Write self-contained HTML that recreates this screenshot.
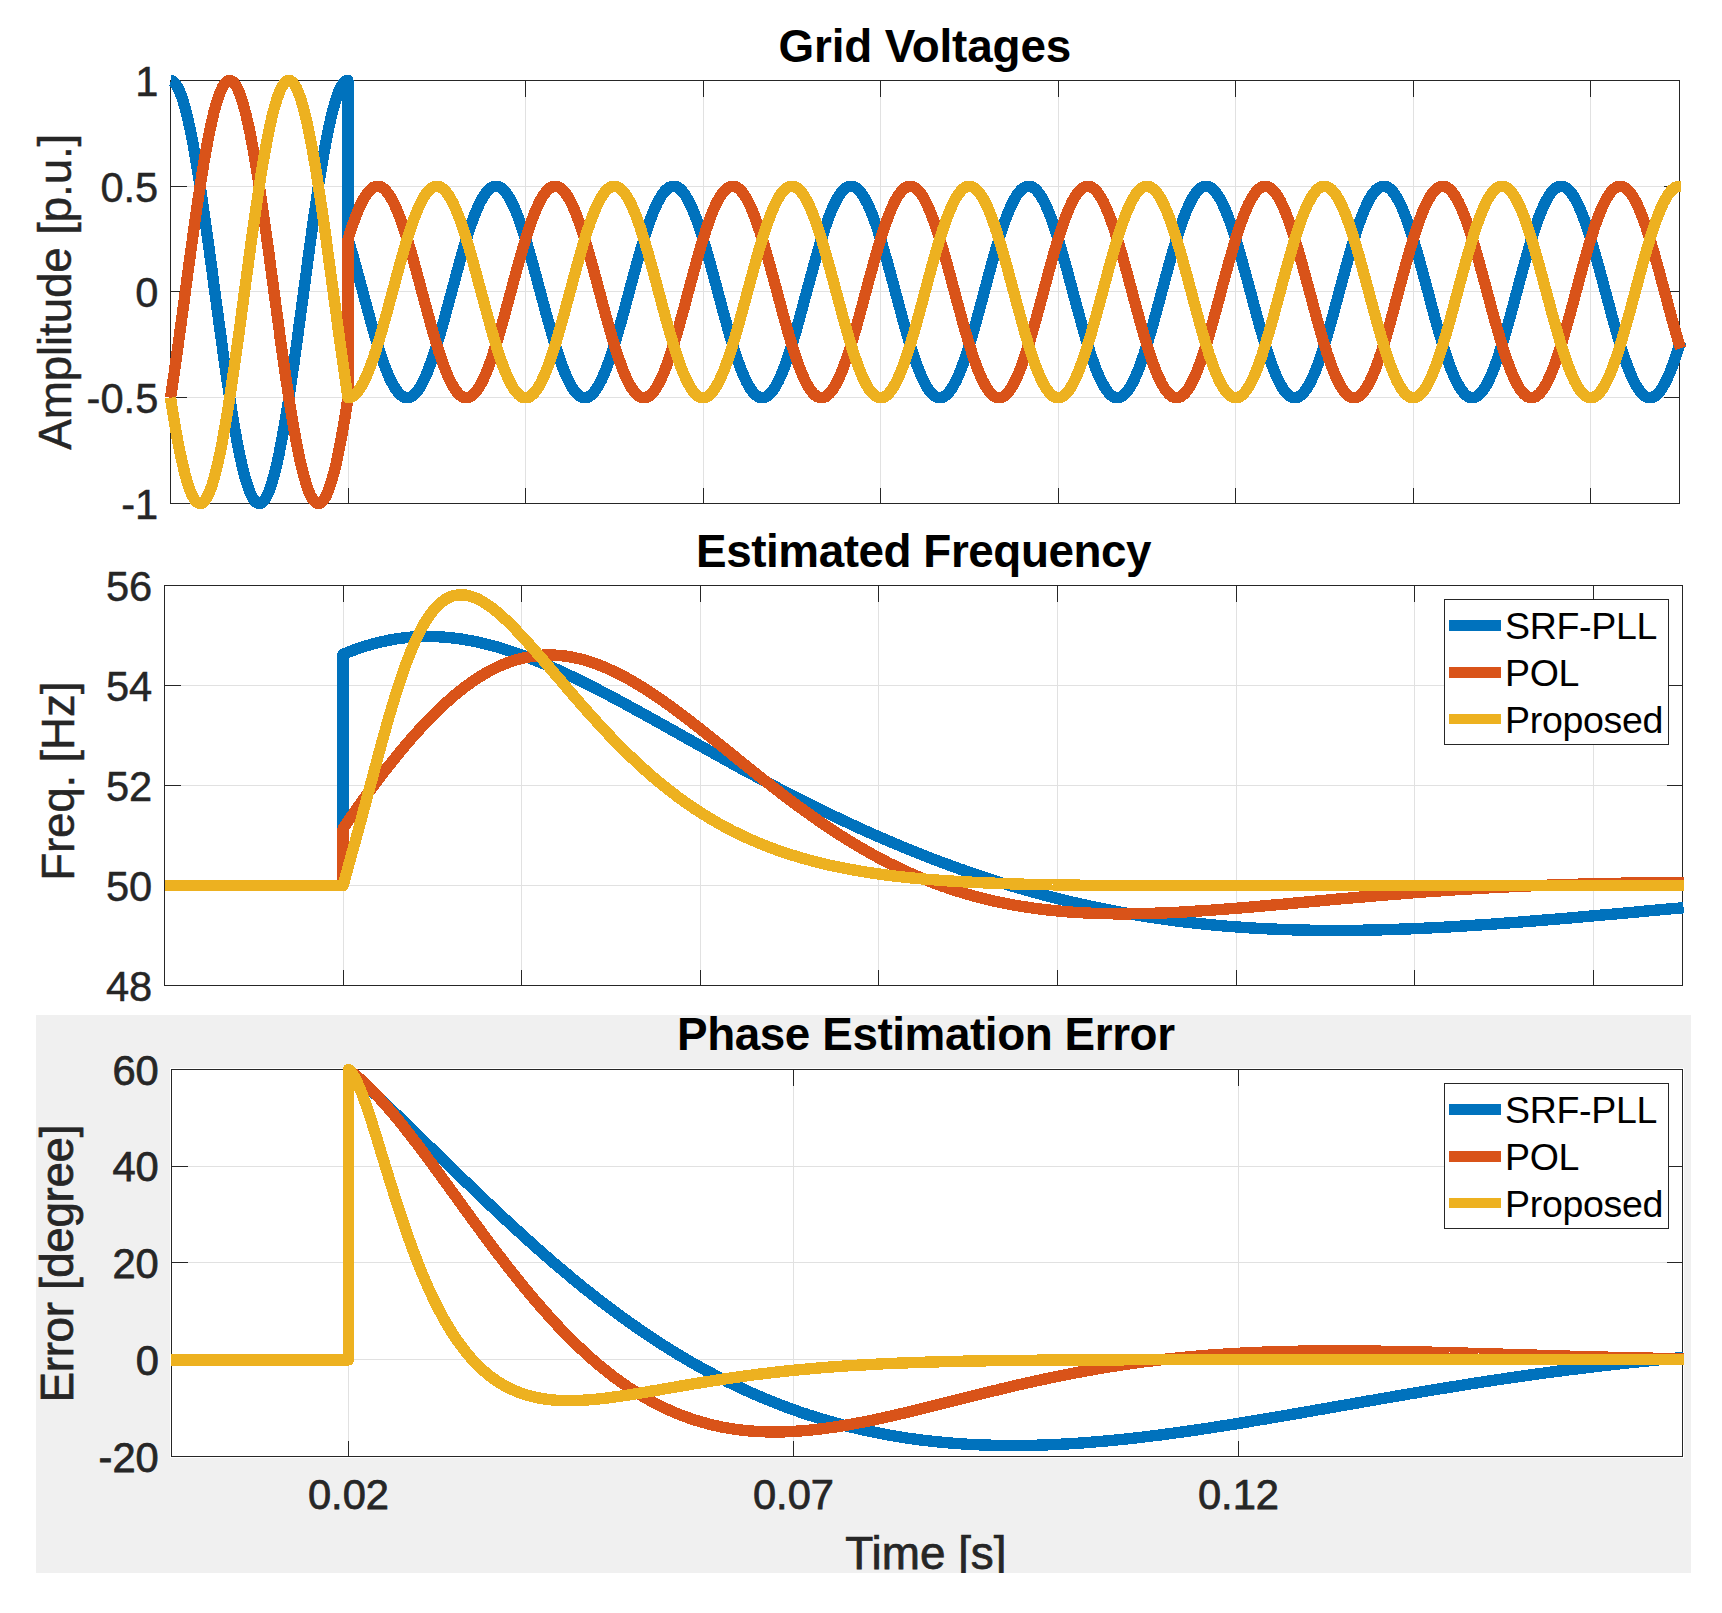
<!DOCTYPE html>
<html><head><meta charset="utf-8"><title>PLL comparison</title>
<style>html,body{margin:0;padding:0;background:#fff}svg{display:block}</style></head>
<body>
<svg width="1722" height="1613" viewBox="0 0 1722 1613" font-family='"Liberation Sans", sans-serif'>
<defs><clipPath id="fig3"><rect x="36" y="1015" width="1655" height="558"/></clipPath></defs>
<rect width="1722" height="1613" fill="#fff"/>
<rect x="36" y="1015" width="1655" height="558" fill="#F0F0F0"/>
<rect x="170" y="1068" width="1514" height="390" fill="#fff"/>
<g shape-rendering="crispEdges" stroke-width="1">
<line x1="348.5" y1="80.5" x2="348.5" y2="503.5" stroke="#E1E1E1"/>
<line x1="525.5" y1="80.5" x2="525.5" y2="503.5" stroke="#E1E1E1"/>
<line x1="703.5" y1="80.5" x2="703.5" y2="503.5" stroke="#E1E1E1"/>
<line x1="880.5" y1="80.5" x2="880.5" y2="503.5" stroke="#E1E1E1"/>
<line x1="1058.5" y1="80.5" x2="1058.5" y2="503.5" stroke="#E1E1E1"/>
<line x1="1235.5" y1="80.5" x2="1235.5" y2="503.5" stroke="#E1E1E1"/>
<line x1="1413.5" y1="80.5" x2="1413.5" y2="503.5" stroke="#E1E1E1"/>
<line x1="1590.5" y1="80.5" x2="1590.5" y2="503.5" stroke="#E1E1E1"/>
<line x1="170.5" y1="397.5" x2="1679.5" y2="397.5" stroke="#E1E1E1"/>
<line x1="170.5" y1="291.5" x2="1679.5" y2="291.5" stroke="#E1E1E1"/>
<line x1="170.5" y1="186.5" x2="1679.5" y2="186.5" stroke="#E1E1E1"/>
</g>
<g shape-rendering="crispEdges" stroke="#262626" stroke-width="1" fill="none">
<line x1="348.5" y1="503.5" x2="348.5" y2="487.5"/><line x1="348.5" y1="80.5" x2="348.5" y2="96.5"/>
<line x1="525.5" y1="503.5" x2="525.5" y2="487.5"/><line x1="525.5" y1="80.5" x2="525.5" y2="96.5"/>
<line x1="703.5" y1="503.5" x2="703.5" y2="487.5"/><line x1="703.5" y1="80.5" x2="703.5" y2="96.5"/>
<line x1="880.5" y1="503.5" x2="880.5" y2="487.5"/><line x1="880.5" y1="80.5" x2="880.5" y2="96.5"/>
<line x1="1058.5" y1="503.5" x2="1058.5" y2="487.5"/><line x1="1058.5" y1="80.5" x2="1058.5" y2="96.5"/>
<line x1="1235.5" y1="503.5" x2="1235.5" y2="487.5"/><line x1="1235.5" y1="80.5" x2="1235.5" y2="96.5"/>
<line x1="1413.5" y1="503.5" x2="1413.5" y2="487.5"/><line x1="1413.5" y1="80.5" x2="1413.5" y2="96.5"/>
<line x1="1590.5" y1="503.5" x2="1590.5" y2="487.5"/><line x1="1590.5" y1="80.5" x2="1590.5" y2="96.5"/>
<line x1="170.5" y1="397.5" x2="186.5" y2="397.5"/><line x1="1679.5" y1="397.5" x2="1663.5" y2="397.5"/>
<line x1="170.5" y1="291.5" x2="186.5" y2="291.5"/><line x1="1679.5" y1="291.5" x2="1663.5" y2="291.5"/>
<line x1="170.5" y1="186.5" x2="186.5" y2="186.5"/><line x1="1679.5" y1="186.5" x2="1663.5" y2="186.5"/>
<rect x="170.5" y="80.5" width="1509.0" height="423.0"/>
</g>
<g shape-rendering="crispEdges">
<path d="M170.5 80.5 L171.1 80.5 L171.7 80.7 L172.3 80.9 L172.9 81.2 L173.5 81.7 L174.1 82.2 L174.7 82.8 L175.2 83.5 L175.8 84.3 L176.4 85.2 L177 86.1 L177.6 87.2 L178.2 88.3 L178.8 89.6 L179.4 90.9 L180 92.3 L180.6 93.9 L181.2 95.5 L181.8 97.1 L182.4 98.9 L183 100.8 L183.6 102.7 L184.2 104.7 L184.7 106.8 L185.3 109 L185.9 111.3 L186.5 113.6 L187.1 116.1 L187.7 118.6 L188.3 121.2 L188.9 123.8 L189.5 126.5 L190.1 129.3 L190.7 132.2 L191.3 135.2 L191.9 138.2 L192.5 141.3 L193.1 144.4 L193.7 147.6 L194.2 150.9 L194.8 154.3 L195.4 157.7 L196 161.1 L196.6 164.6 L197.2 168.2 L197.8 171.9 L198.4 175.5 L199 179.3 L199.6 183.1 L200.2 186.9 L200.8 190.8 L201.4 194.7 L202 198.7 L202.6 202.7 L203.2 206.7 L203.7 210.8 L204.3 214.9 L204.9 219.1 L205.5 223.3 L206.1 227.5 L206.7 231.7 L207.3 236 L207.9 240.3 L208.5 244.6 L209.1 249 L209.7 253.3 L210.3 257.7 L210.9 262.1 L211.5 266.5 L212.1 270.9 L212.7 275.4 L213.2 279.8 L213.8 284.2 L214.4 288.7 L215 293.1 L215.6 297.6 L216.2 302 L216.8 306.4 L217.4 310.9 L218 315.3 L218.6 319.7 L219.2 324.1 L219.8 328.5 L220.4 332.9 L221 337.2 L221.6 341.5 L222.2 345.8 L222.7 350.1 L223.3 354.4 L223.9 358.6 L224.5 362.8 L225.1 367 L225.7 371.1 L226.3 375.2 L226.9 379.3 L227.5 383.3 L228.1 387.3 L228.7 391.3 L229.3 395.2 L229.9 399 L230.5 402.8 L231.1 406.6 L231.7 410.3 L232.2 414 L232.8 417.6 L233.4 421.1 L234 424.6 L234.6 428 L235.2 431.4 L235.8 434.7 L236.4 438 L237 441.2 L237.6 444.3 L238.2 447.3 L238.8 450.3 L239.4 453.2 L240 456.1 L240.6 458.8 L241.2 461.5 L241.7 464.1 L242.3 466.7 L242.9 469.2 L243.5 471.5 L244.1 473.9 L244.7 476.1 L245.3 478.2 L245.9 480.3 L246.5 482.3 L247.1 484.2 L247.7 486 L248.3 487.7 L248.9 489.4 L249.5 490.9 L250.1 492.4 L250.7 493.8 L251.2 495 L251.8 496.2 L252.4 497.4 L253 498.4 L253.6 499.3 L254.2 500.1 L254.8 500.9 L255.4 501.5 L256 502.1 L256.6 502.6 L257.2 502.9 L257.8 503.2 L258.4 503.4 L259 503.5 L259.6 503.5 L260.2 503.4 L260.7 503.2 L261.3 502.9 L261.9 502.6 L262.5 502.1 L263.1 501.5 L263.7 500.9 L264.3 500.1 L264.9 499.3 L265.5 498.4 L266.1 497.4 L266.7 496.2 L267.3 495 L267.9 493.8 L268.5 492.4 L269.1 490.9 L269.7 489.4 L270.2 487.7 L270.8 486 L271.4 484.2 L272 482.3 L272.6 480.3 L273.2 478.2 L273.8 476.1 L274.4 473.9 L275 471.5 L275.6 469.2 L276.2 466.7 L276.8 464.1 L277.4 461.5 L278 458.8 L278.6 456.1 L279.2 453.2 L279.7 450.3 L280.3 447.3 L280.9 444.3 L281.5 441.2 L282.1 438 L282.7 434.7 L283.3 431.4 L283.9 428 L284.5 424.6 L285.1 421.1 L285.7 417.6 L286.3 414 L286.9 410.3 L287.5 406.6 L288.1 402.8 L288.7 399 L289.2 395.2 L289.8 391.3 L290.4 387.3 L291 383.3 L291.6 379.3 L292.2 375.2 L292.8 371.1 L293.4 367 L294 362.8 L294.6 358.6 L295.2 354.4 L295.8 350.1 L296.4 345.8 L297 341.5 L297.6 337.2 L298.2 332.9 L298.7 328.5 L299.3 324.1 L299.9 319.7 L300.5 315.3 L301.1 310.9 L301.7 306.4 L302.3 302 L302.9 297.6 L303.5 293.1 L304.1 288.7 L304.7 284.2 L305.3 279.8 L305.9 275.4 L306.5 270.9 L307.1 266.5 L307.7 262.1 L308.2 257.7 L308.8 253.3 L309.4 249 L310 244.6 L310.6 240.3 L311.2 236 L311.8 231.7 L312.4 227.5 L313 223.3 L313.6 219.1 L314.2 214.9 L314.8 210.8 L315.4 206.7 L316 202.7 L316.6 198.7 L317.2 194.7 L317.7 190.8 L318.3 186.9 L318.9 183.1 L319.5 179.3 L320.1 175.5 L320.7 171.9 L321.3 168.2 L321.9 164.6 L322.5 161.1 L323.1 157.7 L323.7 154.3 L324.3 150.9 L324.9 147.6 L325.5 144.4 L326.1 141.3 L326.7 138.2 L327.2 135.2 L327.8 132.2 L328.4 129.3 L329 126.5 L329.6 123.8 L330.2 121.2 L330.8 118.6 L331.4 116.1 L332 113.6 L332.6 111.3 L333.2 109 L333.8 106.8 L334.4 104.7 L335 102.7 L335.6 100.8 L336.2 98.9 L336.7 97.1 L337.3 95.5 L337.9 93.9 L338.5 92.3 L339.1 90.9 L339.7 89.6 L340.3 88.3 L340.9 87.2 L341.5 86.1 L342.1 85.2 L342.7 84.3 L343.3 83.5 L343.9 82.8 L344.5 82.2 L345.1 81.7 L345.7 81.2 L346.2 80.9 L346.8 80.7 L347.4 80.5 L348 80.5 L348 239.1 L348.8 241.5 L349.5 244 L350.3 246.5 L351 249 L351.7 251.5 L352.5 254.1 L353.2 256.7 L354 259.4 L354.7 262 L355.4 264.7 L356.2 267.4 L356.9 270.1 L357.7 272.8 L358.4 275.5 L359.1 278.3 L359.9 281 L360.6 283.8 L361.4 286.5 L362.1 289.3 L362.8 292.1 L363.6 294.8 L364.3 297.6 L365.1 300.4 L365.8 303.1 L366.5 305.9 L367.3 308.6 L368 311.4 L368.8 314.1 L369.5 316.8 L370.3 319.5 L371 322.1 L371.7 324.8 L372.5 327.4 L373.2 330 L374 332.6 L374.7 335.1 L375.4 337.7 L376.2 340.1 L376.9 342.6 L377.7 345 L378.4 347.4 L379.1 349.7 L379.9 352 L380.6 354.3 L381.4 356.5 L382.1 358.7 L382.8 360.8 L383.6 362.9 L384.3 364.9 L385.1 366.9 L385.8 368.8 L386.5 370.7 L387.3 372.5 L388 374.3 L388.8 376 L389.5 377.7 L390.2 379.3 L391 380.8 L391.7 382.3 L392.5 383.7 L393.2 385 L394 386.3 L394.7 387.5 L395.4 388.7 L396.2 389.8 L396.9 390.8 L397.7 391.8 L398.4 392.7 L399.1 393.5 L399.9 394.2 L400.6 394.9 L401.4 395.5 L402.1 396 L402.8 396.5 L403.6 396.9 L404.3 397.2 L405.1 397.4 L405.8 397.6 L406.5 397.7 L407.3 397.7 L408 397.7 L408.8 397.6 L409.5 397.4 L410.2 397.1 L411 396.8 L411.7 396.4 L412.5 395.9 L413.2 395.4 L414 394.7 L414.7 394.1 L415.4 393.3 L416.2 392.5 L416.9 391.6 L417.7 390.6 L418.4 389.6 L419.1 388.5 L419.9 387.3 L420.6 386.1 L421.4 384.8 L422.1 383.4 L422.8 382 L423.6 380.5 L424.3 378.9 L425.1 377.3 L425.8 375.7 L426.5 373.9 L427.3 372.2 L428 370.3 L428.8 368.4 L429.5 366.5 L430.2 364.5 L431 362.4 L431.7 360.4 L432.5 358.2 L433.2 356 L434 353.8 L434.7 351.5 L435.4 349.2 L436.2 346.9 L436.9 344.5 L437.7 342.1 L438.4 339.6 L439.1 337.1 L439.9 334.6 L440.6 332 L441.4 329.5 L442.1 326.9 L442.8 324.2 L443.6 321.6 L444.3 318.9 L445.1 316.2 L445.8 313.5 L446.5 310.8 L447.3 308 L448 305.3 L448.8 302.5 L449.5 299.8 L450.2 297 L451 294.2 L451.7 291.5 L452.5 288.7 L453.2 285.9 L454 283.2 L454.7 280.4 L455.4 277.7 L456.2 274.9 L456.9 272.2 L457.7 269.5 L458.4 266.8 L459.1 264.1 L459.9 261.4 L460.6 258.8 L461.4 256.2 L462.1 253.6 L462.8 251 L463.6 248.5 L464.3 245.9 L465.1 243.5 L465.8 241 L466.5 238.6 L467.3 236.2 L468 233.9 L468.8 231.6 L469.5 229.3 L470.2 227.1 L471 225 L471.7 222.8 L472.5 220.8 L473.2 218.7 L473.9 216.8 L474.7 214.9 L475.4 213 L476.2 211.2 L476.9 209.4 L477.7 207.7 L478.4 206.1 L479.1 204.5 L479.9 202.9 L480.6 201.5 L481.4 200.1 L482.1 198.7 L482.8 197.5 L483.6 196.3 L484.3 195.1 L485.1 194 L485.8 193 L486.5 192.1 L487.3 191.2 L488 190.4 L488.8 189.7 L489.5 189 L490.2 188.4 L491 187.9 L491.7 187.4 L492.5 187.1 L493.2 186.8 L493.9 186.5 L494.7 186.4 L495.4 186.3 L496.2 186.3 L496.9 186.3 L497.7 186.4 L498.4 186.6 L499.1 186.9 L499.9 187.3 L500.6 187.7 L501.4 188.2 L502.1 188.7 L502.8 189.4 L503.6 190.1 L504.3 190.8 L505.1 191.7 L505.8 192.6 L506.5 193.6 L507.3 194.6 L508 195.7 L508.8 196.9 L509.5 198.2 L510.2 199.5 L511 200.8 L511.7 202.3 L512.5 203.8 L513.2 205.3 L513.9 206.9 L514.7 208.6 L515.4 210.4 L516.2 212.1 L516.9 214 L517.7 215.9 L518.4 217.8 L519.1 219.8 L519.9 221.9 L520.6 224 L521.4 226.1 L522.1 228.3 L522.8 230.6 L523.6 232.8 L524.3 235.2 L525.1 237.5 L525.8 239.9 L526.5 242.3 L527.3 244.8 L528 247.3 L528.8 249.8 L529.5 252.4 L530.2 255 L531 257.6 L531.7 260.2 L532.5 262.9 L533.2 265.5 L533.9 268.2 L534.7 270.9 L535.4 273.7 L536.2 276.4 L536.9 279.1 L537.7 281.9 L538.4 284.7 L539.1 287.4 L539.9 290.2 L540.6 293 L541.4 295.7 L542.1 298.5 L542.8 301.3 L543.6 304 L544.3 306.8 L545.1 309.5 L545.8 312.3 L546.5 315 L547.3 317.7 L548 320.3 L548.8 323 L549.5 325.6 L550.2 328.3 L551 330.9 L551.7 333.4 L552.5 336 L553.2 338.5 L553.9 340.9 L554.7 343.4 L555.4 345.8 L556.2 348.2 L556.9 350.5 L557.7 352.8 L558.4 355 L559.1 357.2 L559.9 359.4 L560.6 361.5 L561.4 363.6 L562.1 365.6 L562.8 367.5 L563.6 369.5 L564.3 371.3 L565.1 373.1 L565.8 374.9 L566.5 376.6 L567.3 378.2 L568 379.8 L568.8 381.3 L569.5 382.7 L570.2 384.1 L571 385.5 L571.7 386.7 L572.5 387.9 L573.2 389.1 L573.9 390.1 L574.7 391.1 L575.4 392.1 L576.2 392.9 L576.9 393.7 L577.6 394.4 L578.4 395.1 L579.1 395.7 L579.9 396.2 L580.6 396.6 L581.4 397 L582.1 397.3 L582.8 397.5 L583.6 397.7 L584.3 397.7 L585.1 397.7 L585.8 397.7 L586.5 397.5 L587.3 397.3 L588 397 L588.8 396.7 L589.5 396.2 L590.2 395.7 L591 395.2 L591.7 394.5 L592.5 393.8 L593.2 393 L593.9 392.2 L594.7 391.3 L595.4 390.3 L596.2 389.2 L596.9 388.1 L597.6 386.9 L598.4 385.6 L599.1 384.3 L599.9 382.9 L600.6 381.5 L601.4 380 L602.1 378.4 L602.8 376.8 L603.6 375.1 L604.3 373.4 L605.1 371.6 L605.8 369.7 L606.5 367.8 L607.3 365.8 L608 363.8 L608.8 361.8 L609.5 359.7 L610.2 357.5 L611 355.3 L611.7 353.1 L612.5 350.8 L613.2 348.5 L613.9 346.1 L614.7 343.7 L615.4 341.3 L616.2 338.8 L616.9 336.3 L617.6 333.8 L618.4 331.2 L619.1 328.6 L619.9 326 L620.6 323.4 L621.4 320.7 L622.1 318 L622.8 315.3 L623.6 312.6 L624.3 309.9 L625.1 307.2 L625.8 304.4 L626.5 301.6 L627.3 298.9 L628 296.1 L628.8 293.3 L629.5 290.6 L630.2 287.8 L631 285 L631.7 282.3 L632.5 279.5 L633.2 276.8 L633.9 274 L634.7 271.3 L635.4 268.6 L636.2 265.9 L636.9 263.2 L637.6 260.6 L638.4 257.9 L639.1 255.3 L639.9 252.7 L640.6 250.2 L641.4 247.6 L642.1 245.1 L642.8 242.7 L643.6 240.2 L644.3 237.8 L645.1 235.5 L645.8 233.1 L646.5 230.9 L647.3 228.6 L648 226.4 L648.8 224.3 L649.5 222.2 L650.2 220.1 L651 218.1 L651.7 216.1 L652.5 214.2 L653.2 212.4 L653.9 210.6 L654.7 208.8 L655.4 207.2 L656.2 205.5 L656.9 204 L657.6 202.5 L658.4 201 L659.1 199.6 L659.9 198.3 L660.6 197.1 L661.3 195.9 L662.1 194.8 L662.8 193.7 L663.6 192.7 L664.3 191.8 L665.1 190.9 L665.8 190.2 L666.5 189.4 L667.3 188.8 L668 188.2 L668.8 187.7 L669.5 187.3 L670.2 187 L671 186.7 L671.7 186.5 L672.5 186.3 L673.2 186.3 L673.9 186.3 L674.7 186.3 L675.4 186.5 L676.2 186.7 L676.9 187 L677.6 187.4 L678.4 187.8 L679.1 188.3 L679.9 188.9 L680.6 189.6 L681.3 190.3 L682.1 191.1 L682.8 192 L683.6 192.9 L684.3 193.9 L685.1 195 L685.8 196.1 L686.5 197.3 L687.3 198.6 L688 199.9 L688.8 201.3 L689.5 202.7 L690.2 204.3 L691 205.8 L691.7 207.5 L692.5 209.2 L693.2 210.9 L693.9 212.7 L694.7 214.6 L695.4 216.5 L696.2 218.5 L696.9 220.5 L697.6 222.6 L698.4 224.7 L699.1 226.8 L699.9 229 L700.6 231.3 L701.3 233.6 L702.1 235.9 L702.8 238.3 L703.6 240.7 L704.3 243.1 L705.1 245.6 L705.8 248.1 L706.5 250.7 L707.3 253.2 L708 255.8 L708.8 258.4 L709.5 261.1 L710.2 263.7 L711 266.4 L711.7 269.1 L712.5 271.8 L713.2 274.6 L713.9 277.3 L714.7 280 L715.4 282.8 L716.2 285.6 L716.9 288.3 L717.6 291.1 L718.4 293.9 L719.1 296.6 L719.9 299.4 L720.6 302.2 L721.3 304.9 L722.1 307.7 L722.8 310.4 L723.6 313.1 L724.3 315.8 L725.1 318.5 L725.8 321.2 L726.5 323.9 L727.3 326.5 L728 329.1 L728.8 331.7 L729.5 334.2 L730.2 336.8 L731 339.3 L731.7 341.7 L732.5 344.2 L733.2 346.6 L733.9 348.9 L734.7 351.2 L735.4 353.5 L736.2 355.7 L736.9 357.9 L737.6 360.1 L738.4 362.2 L739.1 364.2 L739.9 366.2 L740.6 368.2 L741.3 370.1 L742.1 371.9 L742.8 373.7 L743.6 375.4 L744.3 377.1 L745 378.7 L745.8 380.3 L746.5 381.8 L747.3 383.2 L748 384.6 L748.8 385.9 L749.5 387.1 L750.2 388.3 L751 389.4 L751.7 390.5 L752.5 391.4 L753.2 392.4 L753.9 393.2 L754.7 394 L755.4 394.7 L756.2 395.3 L756.9 395.9 L757.6 396.3 L758.4 396.8 L759.1 397.1 L759.9 397.4 L760.6 397.6 L761.3 397.7 L762.1 397.7 L762.8 397.7 L763.6 397.6 L764.3 397.5 L765 397.2 L765.8 396.9 L766.5 396.5 L767.3 396.1 L768 395.6 L768.8 395 L769.5 394.3 L770.2 393.6 L771 392.8 L771.7 391.9 L772.5 390.9 L773.2 389.9 L773.9 388.9 L774.7 387.7 L775.4 386.5 L776.2 385.2 L776.9 383.9 L777.6 382.5 L778.4 381 L779.1 379.5 L779.9 377.9 L780.6 376.2 L781.3 374.5 L782.1 372.8 L782.8 371 L783.6 369.1 L784.3 367.2 L785 365.2 L785.8 363.2 L786.5 361.1 L787.3 359 L788 356.8 L788.8 354.6 L789.5 352.3 L790.2 350 L791 347.7 L791.7 345.3 L792.5 342.9 L793.2 340.5 L793.9 338 L794.7 335.5 L795.4 332.9 L796.2 330.4 L796.9 327.8 L797.6 325.1 L798.4 322.5 L799.1 319.8 L799.9 317.2 L800.6 314.5 L801.3 311.7 L802.1 309 L802.8 306.3 L803.6 303.5 L804.3 300.8 L805 298 L805.8 295.2 L806.5 292.4 L807.3 289.7 L808 286.9 L808.8 284.1 L809.5 281.4 L810.2 278.6 L811 275.9 L811.7 273.1 L812.5 270.4 L813.2 267.7 L813.9 265 L814.7 262.4 L815.4 259.7 L816.2 257.1 L816.9 254.5 L817.6 251.9 L818.4 249.3 L819.1 246.8 L819.9 244.3 L820.6 241.9 L821.3 239.4 L822.1 237.1 L822.8 234.7 L823.6 232.4 L824.3 230.1 L825 227.9 L825.8 225.7 L826.5 223.6 L827.3 221.5 L828 219.5 L828.7 217.5 L829.5 215.5 L830.2 213.6 L831 211.8 L831.7 210 L832.5 208.3 L833.2 206.6 L833.9 205 L834.7 203.5 L835.4 202 L836.2 200.6 L836.9 199.2 L837.6 197.9 L838.4 196.7 L839.1 195.5 L839.9 194.4 L840.6 193.4 L841.3 192.4 L842.1 191.5 L842.8 190.7 L843.6 189.9 L844.3 189.2 L845 188.6 L845.8 188.1 L846.5 187.6 L847.3 187.2 L848 186.9 L848.7 186.6 L849.5 186.4 L850.2 186.3 L851 186.3 L851.7 186.3 L852.5 186.4 L853.2 186.6 L853.9 186.8 L854.7 187.1 L855.4 187.5 L856.2 188 L856.9 188.5 L857.6 189.1 L858.4 189.8 L859.1 190.6 L859.9 191.4 L860.6 192.3 L861.3 193.2 L862.1 194.2 L862.8 195.3 L863.6 196.5 L864.3 197.7 L865 199 L865.8 200.3 L866.5 201.8 L867.3 203.2 L868 204.8 L868.7 206.4 L869.5 208 L870.2 209.7 L871 211.5 L871.7 213.3 L872.5 215.2 L873.2 217.1 L873.9 219.1 L874.7 221.2 L875.4 223.2 L876.2 225.4 L876.9 227.6 L877.6 229.8 L878.4 232 L879.1 234.3 L879.9 236.7 L880.6 239.1 L881.3 241.5 L882.1 243.9 L882.8 246.4 L883.6 248.9 L884.3 251.5 L885 254.1 L885.8 256.7 L886.5 259.3 L887.3 261.9 L888 264.6 L888.7 267.3 L889.5 270 L890.2 272.7 L891 275.4 L891.7 278.2 L892.5 280.9 L893.2 283.7 L893.9 286.5 L894.7 289.2 L895.4 292 L896.2 294.8 L896.9 297.5 L897.6 300.3 L898.4 303.1 L899.1 305.8 L899.9 308.6 L900.6 311.3 L901.3 314 L902.1 316.7 L902.8 319.4 L903.6 322.1 L904.3 324.7 L905 327.4 L905.8 330 L906.5 332.5 L907.3 335.1 L908 337.6 L908.7 340.1 L909.5 342.5 L910.2 344.9 L911 347.3 L911.7 349.7 L912.4 352 L913.2 354.2 L913.9 356.5 L914.7 358.6 L915.4 360.8 L916.2 362.8 L916.9 364.9 L917.6 366.9 L918.4 368.8 L919.1 370.7 L919.9 372.5 L920.6 374.3 L921.3 376 L922.1 377.6 L922.8 379.2 L923.6 380.8 L924.3 382.2 L925 383.7 L925.8 385 L926.5 386.3 L927.3 387.5 L928 388.7 L928.7 389.8 L929.5 390.8 L930.2 391.7 L931 392.6 L931.7 393.4 L932.4 394.2 L933.2 394.9 L933.9 395.5 L934.7 396 L935.4 396.5 L936.2 396.9 L936.9 397.2 L937.6 397.4 L938.4 397.6 L939.1 397.7 L939.9 397.7 L940.6 397.7 L941.3 397.6 L942.1 397.4 L942.8 397.1 L943.6 396.8 L944.3 396.4 L945 395.9 L945.8 395.4 L946.5 394.8 L947.3 394.1 L948 393.3 L948.7 392.5 L949.5 391.6 L950.2 390.6 L951 389.6 L951.7 388.5 L952.4 387.3 L953.2 386.1 L953.9 384.8 L954.7 383.4 L955.4 382 L956.2 380.5 L956.9 379 L957.6 377.4 L958.4 375.7 L959.1 374 L959.9 372.2 L960.6 370.4 L961.3 368.5 L962.1 366.5 L962.8 364.5 L963.6 362.5 L964.3 360.4 L965 358.3 L965.8 356.1 L966.5 353.9 L967.3 351.6 L968 349.3 L968.7 346.9 L969.5 344.5 L970.2 342.1 L971 339.7 L971.7 337.2 L972.4 334.6 L973.2 332.1 L973.9 329.5 L974.7 326.9 L975.4 324.3 L976.2 321.6 L976.9 319 L977.6 316.3 L978.4 313.6 L979.1 310.8 L979.9 308.1 L980.6 305.4 L981.3 302.6 L982.1 299.9 L982.8 297.1 L983.6 294.3 L984.3 291.5 L985 288.8 L985.8 286 L986.5 283.2 L987.3 280.5 L988 277.7 L988.7 275 L989.5 272.3 L990.2 269.5 L991 266.8 L991.7 264.2 L992.4 261.5 L993.2 258.8 L993.9 256.2 L994.7 253.6 L995.4 251.1 L996.1 248.5 L996.9 246 L997.6 243.5 L998.4 241.1 L999.1 238.7 L999.9 236.3 L1000.6 234 L1001.3 231.7 L1002.1 229.4 L1002.8 227.2 L1003.6 225 L1004.3 222.9 L1005 220.8 L1005.8 218.8 L1006.5 216.8 L1007.3 214.9 L1008 213 L1008.7 211.2 L1009.5 209.5 L1010.2 207.7 L1011 206.1 L1011.7 204.5 L1012.4 203 L1013.2 201.5 L1013.9 200.1 L1014.7 198.8 L1015.4 197.5 L1016.1 196.3 L1016.9 195.1 L1017.6 194.1 L1018.4 193 L1019.1 192.1 L1019.9 191.2 L1020.6 190.4 L1021.3 189.7 L1022.1 189 L1022.8 188.4 L1023.6 187.9 L1024.3 187.5 L1025 187.1 L1025.8 186.8 L1026.5 186.5 L1027.3 186.4 L1028 186.3 L1028.7 186.3 L1029.5 186.3 L1030.2 186.4 L1031 186.6 L1031.7 186.9 L1032.4 187.2 L1033.2 187.7 L1033.9 188.2 L1034.7 188.7 L1035.4 189.3 L1036.1 190 L1036.9 190.8 L1037.6 191.7 L1038.4 192.6 L1039.1 193.5 L1039.9 194.6 L1040.6 195.7 L1041.3 196.9 L1042.1 198.1 L1042.8 199.4 L1043.6 200.8 L1044.3 202.2 L1045 203.7 L1045.8 205.3 L1046.5 206.9 L1047.3 208.6 L1048 210.3 L1048.7 212.1 L1049.5 213.9 L1050.2 215.8 L1051 217.8 L1051.7 219.8 L1052.4 221.8 L1053.2 223.9 L1053.9 226.1 L1054.7 228.3 L1055.4 230.5 L1056.1 232.8 L1056.9 235.1 L1057.6 237.5 L1058.4 239.8 L1059.1 242.3 L1059.9 244.7 L1060.6 247.2 L1061.3 249.8 L1062.1 252.3 L1062.8 254.9 L1063.6 257.5 L1064.3 260.1 L1065 262.8 L1065.8 265.5 L1066.5 268.2 L1067.3 270.9 L1068 273.6 L1068.7 276.3 L1069.5 279.1 L1070.2 281.8 L1071 284.6 L1071.7 287.4 L1072.4 290.1 L1073.2 292.9 L1073.9 295.7 L1074.7 298.4 L1075.4 301.2 L1076.1 304 L1076.9 306.7 L1077.6 309.5 L1078.4 312.2 L1079.1 314.9 L1079.9 317.6 L1080.6 320.3 L1081.3 322.9 L1082.1 325.6 L1082.8 328.2 L1083.6 330.8 L1084.3 333.4 L1085 335.9 L1085.8 338.4 L1086.5 340.9 L1087.3 343.3 L1088 345.7 L1088.7 348.1 L1089.5 350.4 L1090.2 352.7 L1091 355 L1091.7 357.2 L1092.4 359.3 L1093.2 361.4 L1093.9 363.5 L1094.7 365.5 L1095.4 367.5 L1096.1 369.4 L1096.9 371.3 L1097.6 373.1 L1098.4 374.8 L1099.1 376.5 L1099.8 378.2 L1100.6 379.7 L1101.3 381.3 L1102.1 382.7 L1102.8 384.1 L1103.6 385.4 L1104.3 386.7 L1105 387.9 L1105.8 389 L1106.5 390.1 L1107.3 391.1 L1108 392 L1108.7 392.9 L1109.5 393.7 L1110.2 394.4 L1111 395.1 L1111.7 395.7 L1112.4 396.2 L1113.2 396.6 L1113.9 397 L1114.7 397.3 L1115.4 397.5 L1116.1 397.7 L1116.9 397.7 L1117.6 397.7 L1118.4 397.7 L1119.1 397.5 L1119.8 397.3 L1120.6 397 L1121.3 396.7 L1122.1 396.3 L1122.8 395.8 L1123.6 395.2 L1124.3 394.5 L1125 393.8 L1125.8 393.1 L1126.5 392.2 L1127.3 391.3 L1128 390.3 L1128.7 389.2 L1129.5 388.1 L1130.2 386.9 L1131 385.7 L1131.7 384.4 L1132.4 383 L1133.2 381.5 L1133.9 380 L1134.7 378.5 L1135.4 376.8 L1136.1 375.1 L1136.9 373.4 L1137.6 371.6 L1138.4 369.8 L1139.1 367.8 L1139.8 365.9 L1140.6 363.9 L1141.3 361.8 L1142.1 359.7 L1142.8 357.6 L1143.6 355.4 L1144.3 353.1 L1145 350.8 L1145.8 348.5 L1146.5 346.2 L1147.3 343.8 L1148 341.3 L1148.7 338.9 L1149.5 336.4 L1150.2 333.8 L1151 331.3 L1151.7 328.7 L1152.4 326.1 L1153.2 323.4 L1153.9 320.8 L1154.7 318.1 L1155.4 315.4 L1156.1 312.7 L1156.9 310 L1157.6 307.2 L1158.4 304.5 L1159.1 301.7 L1159.8 299 L1160.6 296.2 L1161.3 293.4 L1162.1 290.6 L1162.8 287.9 L1163.6 285.1 L1164.3 282.3 L1165 279.6 L1165.8 276.8 L1166.5 274.1 L1167.3 271.4 L1168 268.7 L1168.7 266 L1169.5 263.3 L1170.2 260.6 L1171 258 L1171.7 255.4 L1172.4 252.8 L1173.2 250.2 L1173.9 247.7 L1174.7 245.2 L1175.4 242.7 L1176.1 240.3 L1176.9 237.9 L1177.6 235.5 L1178.4 233.2 L1179.1 230.9 L1179.8 228.7 L1180.6 226.5 L1181.3 224.3 L1182.1 222.2 L1182.8 220.2 L1183.5 218.1 L1184.3 216.2 L1185 214.3 L1185.8 212.4 L1186.5 210.6 L1187.3 208.9 L1188 207.2 L1188.7 205.6 L1189.5 204 L1190.2 202.5 L1191 201.1 L1191.7 199.7 L1192.4 198.4 L1193.2 197.1 L1193.9 195.9 L1194.7 194.8 L1195.4 193.7 L1196.1 192.7 L1196.9 191.8 L1197.6 191 L1198.4 190.2 L1199.1 189.5 L1199.8 188.8 L1200.6 188.2 L1201.3 187.7 L1202.1 187.3 L1202.8 187 L1203.5 186.7 L1204.3 186.5 L1205 186.3 L1205.8 186.3 L1206.5 186.3 L1207.3 186.3 L1208 186.5 L1208.7 186.7 L1209.5 187 L1210.2 187.4 L1211 187.8 L1211.7 188.3 L1212.4 188.9 L1213.2 189.6 L1213.9 190.3 L1214.7 191.1 L1215.4 191.9 L1216.1 192.9 L1216.9 193.9 L1217.6 194.9 L1218.4 196.1 L1219.1 197.3 L1219.8 198.5 L1220.6 199.9 L1221.3 201.3 L1222.1 202.7 L1222.8 204.2 L1223.5 205.8 L1224.3 207.4 L1225 209.1 L1225.8 210.9 L1226.5 212.7 L1227.3 214.6 L1228 216.5 L1228.7 218.4 L1229.5 220.4 L1230.2 222.5 L1231 224.6 L1231.7 226.8 L1232.4 229 L1233.2 231.2 L1233.9 233.5 L1234.7 235.9 L1235.4 238.2 L1236.1 240.6 L1236.9 243.1 L1237.6 245.5 L1238.4 248.1 L1239.1 250.6 L1239.8 253.2 L1240.6 255.7 L1241.3 258.4 L1242.1 261 L1242.8 263.7 L1243.5 266.3 L1244.3 269 L1245 271.8 L1245.8 274.5 L1246.5 277.2 L1247.3 280 L1248 282.7 L1248.7 285.5 L1249.5 288.3 L1250.2 291 L1251 293.8 L1251.7 296.6 L1252.4 299.3 L1253.2 302.1 L1253.9 304.9 L1254.7 307.6 L1255.4 310.3 L1256.1 313.1 L1256.9 315.8 L1257.6 318.5 L1258.4 321.1 L1259.1 323.8 L1259.8 326.4 L1260.6 329 L1261.3 331.6 L1262.1 334.2 L1262.8 336.7 L1263.5 339.2 L1264.3 341.7 L1265 344.1 L1265.8 346.5 L1266.5 348.9 L1267.2 351.2 L1268 353.4 L1268.7 355.7 L1269.5 357.9 L1270.2 360 L1271 362.1 L1271.7 364.2 L1272.4 366.2 L1273.2 368.1 L1273.9 370 L1274.7 371.9 L1275.4 373.7 L1276.1 375.4 L1276.9 377.1 L1277.6 378.7 L1278.4 380.2 L1279.1 381.7 L1279.8 383.2 L1280.6 384.5 L1281.3 385.9 L1282.1 387.1 L1282.8 388.3 L1283.5 389.4 L1284.3 390.4 L1285 391.4 L1285.8 392.3 L1286.5 393.2 L1287.2 393.9 L1288 394.6 L1288.7 395.3 L1289.5 395.8 L1290.2 396.3 L1291 396.7 L1291.7 397.1 L1292.4 397.4 L1293.2 397.6 L1293.9 397.7 L1294.7 397.7 L1295.4 397.7 L1296.1 397.6 L1296.9 397.5 L1297.6 397.2 L1298.4 396.9 L1299.1 396.6 L1299.8 396.1 L1300.6 395.6 L1301.3 395 L1302.1 394.3 L1302.8 393.6 L1303.5 392.8 L1304.3 391.9 L1305 391 L1305.8 390 L1306.5 388.9 L1307.2 387.7 L1308 386.5 L1308.7 385.3 L1309.5 383.9 L1310.2 382.5 L1311 381 L1311.7 379.5 L1312.4 377.9 L1313.2 376.3 L1313.9 374.6 L1314.7 372.8 L1315.4 371 L1316.1 369.1 L1316.9 367.2 L1317.6 365.2 L1318.4 363.2 L1319.1 361.1 L1319.8 359 L1320.6 356.9 L1321.3 354.6 L1322.1 352.4 L1322.8 350.1 L1323.5 347.8 L1324.3 345.4 L1325 343 L1325.8 340.5 L1326.5 338 L1327.2 335.5 L1328 333 L1328.7 330.4 L1329.5 327.8 L1330.2 325.2 L1331 322.6 L1331.7 319.9 L1332.4 317.2 L1333.2 314.5 L1333.9 311.8 L1334.7 309.1 L1335.4 306.3 L1336.1 303.6 L1336.9 300.8 L1337.6 298.1 L1338.4 295.3 L1339.1 292.5 L1339.8 289.7 L1340.6 287 L1341.3 284.2 L1342.1 281.4 L1342.8 278.7 L1343.5 275.9 L1344.3 273.2 L1345 270.5 L1345.8 267.8 L1346.5 265.1 L1347.2 262.4 L1348 259.8 L1348.7 257.1 L1349.5 254.5 L1350.2 252 L1350.9 249.4 L1351.7 246.9 L1352.4 244.4 L1353.2 241.9 L1353.9 239.5 L1354.7 237.1 L1355.4 234.8 L1356.1 232.5 L1356.9 230.2 L1357.6 228 L1358.4 225.8 L1359.1 223.6 L1359.8 221.5 L1360.6 219.5 L1361.3 217.5 L1362.1 215.6 L1362.8 213.7 L1363.5 211.8 L1364.3 210.1 L1365 208.3 L1365.8 206.7 L1366.5 205.1 L1367.2 203.5 L1368 202 L1368.7 200.6 L1369.5 199.2 L1370.2 197.9 L1370.9 196.7 L1371.7 195.5 L1372.4 194.4 L1373.2 193.4 L1373.9 192.4 L1374.7 191.5 L1375.4 190.7 L1376.1 189.9 L1376.9 189.2 L1377.6 188.6 L1378.4 188.1 L1379.1 187.6 L1379.8 187.2 L1380.6 186.9 L1381.3 186.6 L1382.1 186.4 L1382.8 186.3 L1383.5 186.3 L1384.3 186.3 L1385 186.4 L1385.8 186.6 L1386.5 186.8 L1387.2 187.1 L1388 187.5 L1388.7 188 L1389.5 188.5 L1390.2 189.1 L1390.9 189.8 L1391.7 190.5 L1392.4 191.4 L1393.2 192.2 L1393.9 193.2 L1394.7 194.2 L1395.4 195.3 L1396.1 196.5 L1396.9 197.7 L1397.6 199 L1398.4 200.3 L1399.1 201.7 L1399.8 203.2 L1400.6 204.7 L1401.3 206.3 L1402.1 208 L1402.8 209.7 L1403.5 211.5 L1404.3 213.3 L1405 215.2 L1405.8 217.1 L1406.5 219.1 L1407.2 221.1 L1408 223.2 L1408.7 225.3 L1409.5 227.5 L1410.2 229.7 L1410.9 232 L1411.7 234.3 L1412.4 236.6 L1413.2 239 L1413.9 241.4 L1414.7 243.9 L1415.4 246.4 L1416.1 248.9 L1416.9 251.4 L1417.6 254 L1418.4 256.6 L1419.1 259.2 L1419.8 261.9 L1420.6 264.5 L1421.3 267.2 L1422.1 269.9 L1422.8 272.6 L1423.5 275.4 L1424.3 278.1 L1425 280.9 L1425.8 283.6 L1426.5 286.4 L1427.2 289.2 L1428 291.9 L1428.7 294.7 L1429.5 297.5 L1430.2 300.2 L1430.9 303 L1431.7 305.8 L1432.4 308.5 L1433.2 311.2 L1433.9 314 L1434.6 316.7 L1435.4 319.3 L1436.1 322 L1436.9 324.7 L1437.6 327.3 L1438.4 329.9 L1439.1 332.5 L1439.8 335 L1440.6 337.5 L1441.3 340 L1442.1 342.5 L1442.8 344.9 L1443.5 347.3 L1444.3 349.6 L1445 351.9 L1445.8 354.2 L1446.5 356.4 L1447.2 358.6 L1448 360.7 L1448.7 362.8 L1449.5 364.8 L1450.2 366.8 L1450.9 368.7 L1451.7 370.6 L1452.4 372.5 L1453.2 374.2 L1453.9 375.9 L1454.6 377.6 L1455.4 379.2 L1456.1 380.7 L1456.9 382.2 L1457.6 383.6 L1458.4 385 L1459.1 386.3 L1459.8 387.5 L1460.6 388.6 L1461.3 389.7 L1462.1 390.8 L1462.8 391.7 L1463.5 392.6 L1464.3 393.4 L1465 394.2 L1465.8 394.9 L1466.5 395.5 L1467.2 396 L1468 396.5 L1468.7 396.9 L1469.5 397.2 L1470.2 397.4 L1470.9 397.6 L1471.7 397.7 L1472.4 397.7 L1473.2 397.7 L1473.9 397.6 L1474.6 397.4 L1475.4 397.2 L1476.1 396.8 L1476.9 396.4 L1477.6 395.9 L1478.4 395.4 L1479.1 394.8 L1479.8 394.1 L1480.6 393.3 L1481.3 392.5 L1482.1 391.6 L1482.8 390.6 L1483.5 389.6 L1484.3 388.5 L1485 387.4 L1485.8 386.1 L1486.5 384.8 L1487.2 383.5 L1488 382 L1488.7 380.6 L1489.5 379 L1490.2 377.4 L1490.9 375.7 L1491.7 374 L1492.4 372.2 L1493.2 370.4 L1493.9 368.5 L1494.6 366.6 L1495.4 364.6 L1496.1 362.5 L1496.9 360.5 L1497.6 358.3 L1498.4 356.1 L1499.1 353.9 L1499.8 351.6 L1500.6 349.3 L1501.3 347 L1502.1 344.6 L1502.8 342.2 L1503.5 339.7 L1504.3 337.2 L1505 334.7 L1505.8 332.2 L1506.5 329.6 L1507.2 327 L1508 324.4 L1508.7 321.7 L1509.5 319 L1510.2 316.3 L1510.9 313.6 L1511.7 310.9 L1512.4 308.2 L1513.2 305.4 L1513.9 302.7 L1514.6 299.9 L1515.4 297.2 L1516.1 294.4 L1516.9 291.6 L1517.6 288.8 L1518.3 286.1 L1519.1 283.3 L1519.8 280.5 L1520.6 277.8 L1521.3 275.1 L1522.1 272.3 L1522.8 269.6 L1523.5 266.9 L1524.3 264.2 L1525 261.6 L1525.8 258.9 L1526.5 256.3 L1527.2 253.7 L1528 251.1 L1528.7 248.6 L1529.5 246.1 L1530.2 243.6 L1530.9 241.1 L1531.7 238.7 L1532.4 236.3 L1533.2 234 L1533.9 231.7 L1534.6 229.5 L1535.4 227.2 L1536.1 225.1 L1536.9 222.9 L1537.6 220.9 L1538.3 218.8 L1539.1 216.9 L1539.8 214.9 L1540.6 213.1 L1541.3 211.3 L1542.1 209.5 L1542.8 207.8 L1543.5 206.1 L1544.3 204.6 L1545 203 L1545.8 201.6 L1546.5 200.1 L1547.2 198.8 L1548 197.5 L1548.7 196.3 L1549.5 195.2 L1550.2 194.1 L1550.9 193.1 L1551.7 192.1 L1552.4 191.3 L1553.2 190.4 L1553.9 189.7 L1554.6 189 L1555.4 188.4 L1556.1 187.9 L1556.9 187.5 L1557.6 187.1 L1558.3 186.8 L1559.1 186.5 L1559.8 186.4 L1560.6 186.3 L1561.3 186.3 L1562.1 186.3 L1562.8 186.4 L1563.5 186.6 L1564.3 186.9 L1565 187.2 L1565.8 187.7 L1566.5 188.1 L1567.2 188.7 L1568 189.3 L1568.7 190 L1569.5 190.8 L1570.2 191.6 L1570.9 192.5 L1571.7 193.5 L1572.4 194.6 L1573.2 195.7 L1573.9 196.8 L1574.6 198.1 L1575.4 199.4 L1576.1 200.8 L1576.9 202.2 L1577.6 203.7 L1578.3 205.2 L1579.1 206.9 L1579.8 208.5 L1580.6 210.3 L1581.3 212.1 L1582.1 213.9 L1582.8 215.8 L1583.5 217.7 L1584.3 219.7 L1585 221.8 L1585.8 223.9 L1586.5 226 L1587.2 228.2 L1588 230.4 L1588.7 232.7 L1589.5 235 L1590.2 237.4 L1590.9 239.8 L1591.7 242.2 L1592.4 244.7 L1593.2 247.2 L1593.9 249.7 L1594.6 252.3 L1595.4 254.8 L1596.1 257.4 L1596.9 260.1 L1597.6 262.7 L1598.3 265.4 L1599.1 268.1 L1599.8 270.8 L1600.6 273.5 L1601.3 276.3 L1602.1 279 L1602.8 281.8 L1603.5 284.5 L1604.3 287.3 L1605 290.1 L1605.8 292.8 L1606.5 295.6 L1607.2 298.4 L1608 301.1 L1608.7 303.9 L1609.5 306.7 L1610.2 309.4 L1610.9 312.1 L1611.7 314.8 L1612.4 317.5 L1613.2 320.2 L1613.9 322.9 L1614.6 325.5 L1615.4 328.1 L1616.1 330.7 L1616.9 333.3 L1617.6 335.8 L1618.3 338.3 L1619.1 340.8 L1619.8 343.3 L1620.6 345.7 L1621.3 348 L1622 350.4 L1622.8 352.7 L1623.5 354.9 L1624.3 357.1 L1625 359.3 L1625.8 361.4 L1626.5 363.5 L1627.2 365.5 L1628 367.4 L1628.7 369.4 L1629.5 371.2 L1630.2 373 L1630.9 374.8 L1631.7 376.5 L1632.4 378.1 L1633.2 379.7 L1633.9 381.2 L1634.6 382.7 L1635.4 384.1 L1636.1 385.4 L1636.9 386.7 L1637.6 387.9 L1638.3 389 L1639.1 390.1 L1639.8 391.1 L1640.6 392 L1641.3 392.9 L1642 393.7 L1642.8 394.4 L1643.5 395.1 L1644.3 395.6 L1645 396.2 L1645.8 396.6 L1646.5 397 L1647.2 397.3 L1648 397.5 L1648.7 397.7 L1649.5 397.7 L1650.2 397.7 L1650.9 397.7 L1651.7 397.5 L1652.4 397.3 L1653.2 397.1 L1653.9 396.7 L1654.6 396.3 L1655.4 395.8 L1656.1 395.2 L1656.9 394.6 L1657.6 393.9 L1658.3 393.1 L1659.1 392.2 L1659.8 391.3 L1660.6 390.3 L1661.3 389.3 L1662 388.1 L1662.8 387 L1663.5 385.7 L1664.3 384.4 L1665 383 L1665.8 381.6 L1666.5 380.1 L1667.2 378.5 L1668 376.9 L1668.7 375.2 L1669.5 373.4 L1670.2 371.7 L1670.9 369.8 L1671.7 367.9 L1672.4 365.9 L1673.2 363.9 L1673.9 361.9 L1674.6 359.8 L1675.4 357.6 L1676.1 355.4 L1676.9 353.2 L1677.6 350.9 L1678.3 348.6 L1679.1 346.2 L1679.8 343.8 L1680.6 341.4" stroke="#0072BD" stroke-width="11.4" fill="none" stroke-linejoin="round" stroke-linecap="butt"/>
<path d="M170.5 397.7 L171.1 393.9 L171.7 390 L172.3 386 L172.9 382 L173.5 378 L174.1 373.9 L174.7 369.8 L175.2 365.6 L175.8 361.4 L176.4 357.2 L177 353 L177.6 348.7 L178.2 344.4 L178.8 340.1 L179.4 335.8 L180 331.4 L180.6 327 L181.2 322.6 L181.8 318.2 L182.4 313.8 L183 309.4 L183.6 305 L184.2 300.5 L184.7 296.1 L185.3 291.6 L185.9 287.2 L186.5 282.7 L187.1 278.3 L187.7 273.9 L188.3 269.5 L188.9 265 L189.5 260.6 L190.1 256.2 L190.7 251.9 L191.3 247.5 L191.9 243.2 L192.5 238.9 L193.1 234.6 L193.7 230.3 L194.2 226.1 L194.8 221.9 L195.4 217.7 L196 213.5 L196.6 209.4 L197.2 205.4 L197.8 201.3 L198.4 197.3 L199 193.4 L199.6 189.5 L200.2 185.6 L200.8 181.8 L201.4 178 L202 174.3 L202.6 170.6 L203.2 167 L203.7 163.5 L204.3 160 L204.9 156.5 L205.5 153.1 L206.1 149.8 L206.7 146.6 L207.3 143.4 L207.9 140.2 L208.5 137.2 L209.1 134.2 L209.7 131.3 L210.3 128.4 L210.9 125.6 L211.5 122.9 L212.1 120.3 L212.7 117.7 L213.2 115.2 L213.8 112.8 L214.4 110.5 L215 108.3 L215.6 106.1 L216.2 104 L216.8 102 L217.4 100.1 L218 98.3 L218.6 96.6 L219.2 94.9 L219.8 93.3 L220.4 91.9 L221 90.5 L221.6 89.2 L222.2 87.9 L222.7 86.8 L223.3 85.8 L223.9 84.8 L224.5 84 L225.1 83.2 L225.7 82.6 L226.3 82 L226.9 81.5 L227.5 81.1 L228.1 80.8 L228.7 80.6 L229.3 80.5 L229.9 80.5 L230.5 80.6 L231.1 80.8 L231.7 81 L232.2 81.4 L232.8 81.8 L233.4 82.4 L234 83 L234.6 83.7 L235.2 84.6 L235.8 85.5 L236.4 86.5 L237 87.6 L237.6 88.7 L238.2 90 L238.8 91.4 L239.4 92.8 L240 94.4 L240.6 96 L241.2 97.7 L241.7 99.5 L242.3 101.4 L242.9 103.4 L243.5 105.4 L244.1 107.6 L244.7 109.8 L245.3 112.1 L245.9 114.4 L246.5 116.9 L247.1 119.4 L247.7 122 L248.3 124.7 L248.9 127.5 L249.5 130.3 L250.1 133.2 L250.7 136.2 L251.2 139.2 L251.8 142.3 L252.4 145.5 L253 148.7 L253.6 152 L254.2 155.4 L254.8 158.8 L255.4 162.3 L256 165.8 L256.6 169.4 L257.2 173.1 L257.8 176.8 L258.4 180.5 L259 184.3 L259.6 188.2 L260.2 192.1 L260.7 196 L261.3 200 L261.9 204 L262.5 208.1 L263.1 212.2 L263.7 216.3 L264.3 220.5 L264.9 224.7 L265.5 228.9 L266.1 233.2 L266.7 237.4 L267.3 241.7 L267.9 246.1 L268.5 250.4 L269.1 254.8 L269.7 259.2 L270.2 263.6 L270.8 268 L271.4 272.4 L272 276.8 L272.6 281.3 L273.2 285.7 L273.8 290.1 L274.4 294.6 L275 299 L275.6 303.5 L276.2 307.9 L276.8 312.3 L277.4 316.8 L278 321.2 L278.6 325.6 L279.2 329.9 L279.7 334.3 L280.3 338.7 L280.9 343 L281.5 347.3 L282.1 351.6 L282.7 355.8 L283.3 360 L283.9 364.2 L284.5 368.4 L285.1 372.5 L285.7 376.6 L286.3 380.7 L286.9 384.7 L287.5 388.6 L288.1 392.6 L288.7 396.5 L289.2 400.3 L289.8 404.1 L290.4 407.8 L291 411.5 L291.6 415.2 L292.2 418.8 L292.8 422.3 L293.4 425.8 L294 429.2 L294.6 432.5 L295.2 435.8 L295.8 439 L296.4 442.2 L297 445.3 L297.6 448.3 L298.2 451.3 L298.7 454.2 L299.3 457 L299.9 459.7 L300.5 462.4 L301.1 465 L301.7 467.5 L302.3 470 L302.9 472.3 L303.5 474.6 L304.1 476.8 L304.7 478.9 L305.3 481 L305.9 482.9 L306.5 484.8 L307.1 486.6 L307.7 488.3 L308.2 489.9 L308.8 491.4 L309.4 492.8 L310 494.2 L310.6 495.5 L311.2 496.6 L311.8 497.7 L312.4 498.7 L313 499.6 L313.6 500.4 L314.2 501.1 L314.8 501.7 L315.4 502.3 L316 502.7 L316.6 503 L317.2 503.3 L317.7 503.4 L318.3 503.5 L318.9 503.5 L319.5 503.3 L320.1 503.1 L320.7 502.8 L321.3 502.4 L321.9 501.9 L322.5 501.3 L323.1 500.6 L323.7 499.9 L324.3 499 L324.9 498 L325.5 497 L326.1 495.9 L326.7 494.6 L327.2 493.3 L327.8 491.9 L328.4 490.4 L329 488.8 L329.6 487.2 L330.2 485.4 L330.8 483.6 L331.4 481.6 L332 479.6 L332.6 477.5 L333.2 475.3 L333.8 473.1 L334.4 470.8 L335 468.3 L335.6 465.9 L336.2 463.3 L336.7 460.6 L337.3 457.9 L337.9 455.1 L338.5 452.3 L339.1 449.3 L339.7 446.3 L340.3 443.2 L340.9 440.1 L341.5 436.9 L342.1 433.6 L342.7 430.3 L343.3 426.9 L343.9 423.5 L344.5 419.9 L345.1 416.4 L345.7 412.8 L346.2 409.1 L346.8 405.4 L347.4 401.6 L348 397.7 L348 239.1 L348.8 236.7 L349.5 234.4 L350.3 232.1 L351 229.8 L351.7 227.6 L352.5 225.4 L353.2 223.3 L354 221.2 L354.7 219.2 L355.4 217.2 L356.2 215.3 L356.9 213.4 L357.7 211.6 L358.4 209.8 L359.1 208.1 L359.9 206.4 L360.6 204.8 L361.4 203.3 L362.1 201.8 L362.8 200.4 L363.6 199 L364.3 197.7 L365.1 196.5 L365.8 195.4 L366.5 194.3 L367.3 193.2 L368 192.3 L368.8 191.4 L369.5 190.6 L370.3 189.8 L371 189.1 L371.7 188.5 L372.5 188 L373.2 187.5 L374 187.1 L374.7 186.8 L375.4 186.6 L376.2 186.4 L376.9 186.3 L377.7 186.3 L378.4 186.3 L379.1 186.4 L379.9 186.6 L380.6 186.8 L381.4 187.2 L382.1 187.6 L382.8 188.1 L383.6 188.6 L384.3 189.2 L385.1 189.9 L385.8 190.7 L386.5 191.5 L387.3 192.4 L388 193.3 L388.8 194.4 L389.5 195.5 L390.2 196.6 L391 197.9 L391.7 199.2 L392.5 200.5 L393.2 202 L394 203.4 L394.7 205 L395.4 206.6 L396.2 208.3 L396.9 210 L397.7 211.8 L398.4 213.6 L399.1 215.5 L399.9 217.4 L400.6 219.4 L401.4 221.4 L402.1 223.5 L402.8 225.7 L403.6 227.8 L404.3 230.1 L405.1 232.3 L405.8 234.7 L406.5 237 L407.3 239.4 L408 241.8 L408.8 244.3 L409.5 246.8 L410.2 249.3 L411 251.8 L411.7 254.4 L412.5 257 L413.2 259.6 L414 262.3 L414.7 265 L415.4 267.6 L416.2 270.4 L416.9 273.1 L417.7 275.8 L418.4 278.6 L419.1 281.3 L419.9 284.1 L420.6 286.8 L421.4 289.6 L422.1 292.4 L422.8 295.1 L423.6 297.9 L424.3 300.7 L425.1 303.4 L425.8 306.2 L426.5 308.9 L427.3 311.7 L428 314.4 L428.8 317.1 L429.5 319.8 L430.2 322.4 L431 325.1 L431.7 327.7 L432.5 330.3 L433.2 332.9 L434 335.4 L434.7 337.9 L435.4 340.4 L436.2 342.9 L436.9 345.3 L437.7 347.6 L438.4 350 L439.1 352.3 L439.9 354.5 L440.6 356.7 L441.4 358.9 L442.1 361 L442.8 363.1 L443.6 365.1 L444.3 367.1 L445.1 369 L445.8 370.9 L446.5 372.7 L447.3 374.5 L448 376.2 L448.8 377.9 L449.5 379.4 L450.2 381 L451 382.4 L451.7 383.8 L452.5 385.2 L453.2 386.5 L454 387.7 L454.7 388.8 L455.4 389.9 L456.2 390.9 L456.9 391.9 L457.7 392.7 L458.4 393.6 L459.1 394.3 L459.9 395 L460.6 395.6 L461.4 396.1 L462.1 396.5 L462.8 396.9 L463.6 397.2 L464.3 397.5 L465.1 397.6 L465.8 397.7 L466.5 397.7 L467.3 397.7 L468 397.6 L468.8 397.4 L469.5 397.1 L470.2 396.8 L471 396.3 L471.7 395.9 L472.5 395.3 L473.2 394.7 L473.9 394 L474.7 393.2 L475.4 392.4 L476.2 391.5 L476.9 390.5 L477.7 389.4 L478.4 388.3 L479.1 387.2 L479.9 385.9 L480.6 384.6 L481.4 383.2 L482.1 381.8 L482.8 380.3 L483.6 378.8 L484.3 377.1 L485.1 375.5 L485.8 373.7 L486.5 372 L487.3 370.1 L488 368.2 L488.8 366.3 L489.5 364.3 L490.2 362.2 L491 360.1 L491.7 358 L492.5 355.8 L493.2 353.6 L493.9 351.3 L494.7 349 L495.4 346.6 L496.2 344.2 L496.9 341.8 L497.7 339.3 L498.4 336.8 L499.1 334.3 L499.9 331.8 L500.6 329.2 L501.4 326.6 L502.1 323.9 L502.8 321.3 L503.6 318.6 L504.3 315.9 L505.1 313.2 L505.8 310.5 L506.5 307.7 L507.3 305 L508 302.2 L508.8 299.5 L509.5 296.7 L510.2 293.9 L511 291.2 L511.7 288.4 L512.5 285.6 L513.2 282.9 L513.9 280.1 L514.7 277.4 L515.4 274.6 L516.2 271.9 L516.9 269.2 L517.7 266.5 L518.4 263.8 L519.1 261.1 L519.9 258.5 L520.6 255.9 L521.4 253.3 L522.1 250.7 L522.8 248.2 L523.6 245.7 L524.3 243.2 L525.1 240.8 L525.8 238.3 L526.5 236 L527.3 233.6 L528 231.4 L528.8 229.1 L529.5 226.9 L530.2 224.7 L531 222.6 L531.7 220.6 L532.5 218.5 L533.2 216.6 L533.9 214.6 L534.7 212.8 L535.4 211 L536.2 209.2 L536.9 207.5 L537.7 205.9 L538.4 204.3 L539.1 202.8 L539.9 201.3 L540.6 199.9 L541.4 198.6 L542.1 197.3 L542.8 196.1 L543.6 195 L544.3 193.9 L545.1 192.9 L545.8 192 L546.5 191.1 L547.3 190.3 L548 189.6 L548.8 188.9 L549.5 188.4 L550.2 187.8 L551 187.4 L551.7 187 L552.5 186.7 L553.2 186.5 L553.9 186.3 L554.7 186.3 L555.4 186.3 L556.2 186.3 L556.9 186.5 L557.7 186.7 L558.4 186.9 L559.1 187.3 L559.9 187.7 L560.6 188.2 L561.4 188.8 L562.1 189.4 L562.8 190.1 L563.6 190.9 L564.3 191.8 L565.1 192.7 L565.8 193.7 L566.5 194.7 L567.3 195.8 L568 197 L568.8 198.3 L569.5 199.6 L570.2 201 L571 202.4 L571.7 203.9 L572.5 205.5 L573.2 207.1 L573.9 208.8 L574.7 210.5 L575.4 212.3 L576.2 214.2 L576.9 216.1 L577.6 218.1 L578.4 220.1 L579.1 222.1 L579.9 224.2 L580.6 226.4 L581.4 228.6 L582.1 230.8 L582.8 233.1 L583.6 235.4 L584.3 237.8 L585.1 240.2 L585.8 242.6 L586.5 245.1 L587.3 247.6 L588 250.1 L588.8 252.7 L589.5 255.2 L590.2 257.9 L591 260.5 L591.7 263.2 L592.5 265.8 L593.2 268.5 L593.9 271.2 L594.7 274 L595.4 276.7 L596.2 279.4 L596.9 282.2 L597.6 285 L598.4 287.7 L599.1 290.5 L599.9 293.3 L600.6 296 L601.4 298.8 L602.1 301.6 L602.8 304.3 L603.6 307.1 L604.3 309.8 L605.1 312.6 L605.8 315.3 L606.5 318 L607.3 320.6 L608 323.3 L608.8 325.9 L609.5 328.5 L610.2 331.1 L611 333.7 L611.7 336.2 L612.5 338.7 L613.2 341.2 L613.9 343.6 L614.7 346 L615.4 348.4 L616.2 350.7 L616.9 353 L617.6 355.3 L618.4 357.5 L619.1 359.6 L619.9 361.7 L620.6 363.8 L621.4 365.8 L622.1 367.8 L622.8 369.7 L623.6 371.5 L624.3 373.3 L625.1 375.1 L625.8 376.7 L626.5 378.4 L627.3 379.9 L628 381.5 L628.8 382.9 L629.5 384.3 L630.2 385.6 L631 386.9 L631.7 388.1 L632.5 389.2 L633.2 390.2 L633.9 391.2 L634.7 392.2 L635.4 393 L636.2 393.8 L636.9 394.5 L637.6 395.2 L638.4 395.7 L639.1 396.2 L639.9 396.7 L640.6 397 L641.4 397.3 L642.1 397.5 L642.8 397.7 L643.6 397.7 L644.3 397.7 L645.1 397.7 L645.8 397.5 L646.5 397.3 L647.3 397 L648 396.6 L648.8 396.2 L649.5 395.7 L650.2 395.1 L651 394.5 L651.7 393.7 L652.5 392.9 L653.2 392.1 L653.9 391.2 L654.7 390.2 L655.4 389.1 L656.2 388 L656.9 386.8 L657.6 385.5 L658.4 384.2 L659.1 382.8 L659.9 381.3 L660.6 379.8 L661.3 378.2 L662.1 376.6 L662.8 374.9 L663.6 373.2 L664.3 371.4 L665.1 369.5 L665.8 367.6 L666.5 365.6 L667.3 363.6 L668 361.5 L668.8 359.4 L669.5 357.3 L670.2 355.1 L671 352.8 L671.7 350.5 L672.5 348.2 L673.2 345.8 L673.9 343.4 L674.7 341 L675.4 338.5 L676.2 336 L676.9 333.5 L677.6 330.9 L678.4 328.3 L679.1 325.7 L679.9 323.1 L680.6 320.4 L681.3 317.7 L682.1 315 L682.8 312.3 L683.6 309.6 L684.3 306.9 L685.1 304.1 L685.8 301.3 L686.5 298.6 L687.3 295.8 L688 293 L688.8 290.3 L689.5 287.5 L690.2 284.7 L691 282 L691.7 279.2 L692.5 276.5 L693.2 273.7 L693.9 271 L694.7 268.3 L695.4 265.6 L696.2 262.9 L696.9 260.3 L697.6 257.6 L698.4 255 L699.1 252.4 L699.9 249.9 L700.6 247.4 L701.3 244.9 L702.1 242.4 L702.8 240 L703.6 237.6 L704.3 235.2 L705.1 232.9 L705.8 230.6 L706.5 228.4 L707.3 226.2 L708 224 L708.8 221.9 L709.5 219.9 L710.2 217.9 L711 215.9 L711.7 214 L712.5 212.2 L713.2 210.4 L713.9 208.7 L714.7 207 L715.4 205.4 L716.2 203.8 L716.9 202.3 L717.6 200.9 L718.4 199.5 L719.1 198.2 L719.9 196.9 L720.6 195.8 L721.3 194.6 L722.1 193.6 L722.8 192.6 L723.6 191.7 L724.3 190.9 L725.1 190.1 L725.8 189.4 L726.5 188.7 L727.3 188.2 L728 187.7 L728.8 187.3 L729.5 186.9 L730.2 186.6 L731 186.4 L731.7 186.3 L732.5 186.3 L733.2 186.3 L733.9 186.4 L734.7 186.5 L735.4 186.7 L736.2 187.1 L736.9 187.4 L737.6 187.9 L738.4 188.4 L739.1 189 L739.9 189.7 L740.6 190.4 L741.3 191.2 L742.1 192.1 L742.8 193 L743.6 194 L744.3 195.1 L745 196.2 L745.8 197.4 L746.5 198.7 L747.3 200 L748 201.4 L748.8 202.9 L749.5 204.4 L750.2 206 L751 207.7 L751.7 209.4 L752.5 211.1 L753.2 212.9 L753.9 214.8 L754.7 216.7 L755.4 218.7 L756.2 220.7 L756.9 222.8 L757.6 224.9 L758.4 227.1 L759.1 229.3 L759.9 231.5 L760.6 233.8 L761.3 236.2 L762.1 238.5 L762.8 241 L763.6 243.4 L764.3 245.9 L765 248.4 L765.8 250.9 L766.5 253.5 L767.3 256.1 L768 258.7 L768.8 261.4 L769.5 264 L770.2 266.7 L771 269.4 L771.7 272.1 L772.5 274.8 L773.2 277.6 L773.9 280.3 L774.7 283.1 L775.4 285.9 L776.2 288.6 L776.9 291.4 L777.6 294.2 L778.4 296.9 L779.1 299.7 L779.9 302.5 L780.6 305.2 L781.3 308 L782.1 310.7 L782.8 313.4 L783.6 316.1 L784.3 318.8 L785 321.5 L785.8 324.2 L786.5 326.8 L787.3 329.4 L788 332 L788.8 334.5 L789.5 337 L790.2 339.5 L791 342 L791.7 344.4 L792.5 346.8 L793.2 349.2 L793.9 351.5 L794.7 353.7 L795.4 356 L796.2 358.2 L796.9 360.3 L797.6 362.4 L798.4 364.4 L799.1 366.4 L799.9 368.4 L800.6 370.3 L801.3 372.1 L802.1 373.9 L802.8 375.6 L803.6 377.3 L804.3 378.9 L805 380.4 L805.8 381.9 L806.5 383.4 L807.3 384.7 L808 386 L808.8 387.3 L809.5 388.4 L810.2 389.5 L811 390.6 L811.7 391.5 L812.5 392.4 L813.2 393.3 L813.9 394 L814.7 394.7 L815.4 395.4 L816.2 395.9 L816.9 396.4 L817.6 396.8 L818.4 397.1 L819.1 397.4 L819.9 397.6 L820.6 397.7 L821.3 397.7 L822.1 397.7 L822.8 397.6 L823.6 397.5 L824.3 397.2 L825 396.9 L825.8 396.5 L826.5 396 L827.3 395.5 L828 394.9 L828.7 394.2 L829.5 393.5 L830.2 392.7 L831 391.8 L831.7 390.8 L832.5 389.8 L833.2 388.7 L833.9 387.6 L834.7 386.4 L835.4 385.1 L836.2 383.7 L836.9 382.3 L837.6 380.8 L838.4 379.3 L839.1 377.7 L839.9 376.1 L840.6 374.4 L841.3 372.6 L842.1 370.8 L842.8 368.9 L843.6 367 L844.3 365 L845 362.9 L845.8 360.9 L846.5 358.7 L847.3 356.6 L848 354.3 L848.7 352.1 L849.5 349.8 L850.2 347.4 L851 345.1 L851.7 342.6 L852.5 340.2 L853.2 337.7 L853.9 335.2 L854.7 332.7 L855.4 330.1 L856.2 327.5 L856.9 324.9 L857.6 322.2 L858.4 319.5 L859.1 316.9 L859.9 314.2 L860.6 311.4 L861.3 308.7 L862.1 306 L862.8 303.2 L863.6 300.5 L864.3 297.7 L865 294.9 L865.8 292.1 L866.5 289.4 L867.3 286.6 L868 283.8 L868.7 281.1 L869.5 278.3 L870.2 275.6 L871 272.8 L871.7 270.1 L872.5 267.4 L873.2 264.7 L873.9 262.1 L874.7 259.4 L875.4 256.8 L876.2 254.2 L876.9 251.6 L877.6 249.1 L878.4 246.5 L879.1 244.1 L879.9 241.6 L880.6 239.2 L881.3 236.8 L882.1 234.5 L882.8 232.1 L883.6 229.9 L884.3 227.7 L885 225.5 L885.8 223.4 L886.5 221.3 L887.3 219.2 L888 217.2 L888.7 215.3 L889.5 213.4 L890.2 211.6 L891 209.8 L891.7 208.1 L892.5 206.5 L893.2 204.9 L893.9 203.3 L894.7 201.8 L895.4 200.4 L896.2 199.1 L896.9 197.8 L897.6 196.5 L898.4 195.4 L899.1 194.3 L899.9 193.3 L900.6 192.3 L901.3 191.4 L902.1 190.6 L902.8 189.8 L903.6 189.2 L904.3 188.6 L905 188 L905.8 187.5 L906.5 187.1 L907.3 186.8 L908 186.6 L908.7 186.4 L909.5 186.3 L910.2 186.3 L911 186.3 L911.7 186.4 L912.4 186.6 L913.2 186.8 L913.9 187.2 L914.7 187.6 L915.4 188 L916.2 188.6 L916.9 189.2 L917.6 189.9 L918.4 190.6 L919.1 191.5 L919.9 192.4 L920.6 193.3 L921.3 194.4 L922.1 195.5 L922.8 196.6 L923.6 197.8 L924.3 199.1 L925 200.5 L925.8 201.9 L926.5 203.4 L927.3 204.9 L928 206.5 L928.7 208.2 L929.5 209.9 L930.2 211.7 L931 213.5 L931.7 215.4 L932.4 217.4 L933.2 219.4 L933.9 221.4 L934.7 223.5 L935.4 225.6 L936.2 227.8 L936.9 230 L937.6 232.3 L938.4 234.6 L939.1 236.9 L939.9 239.3 L940.6 241.7 L941.3 244.2 L942.1 246.7 L942.8 249.2 L943.6 251.8 L944.3 254.3 L945 256.9 L945.8 259.6 L946.5 262.2 L947.3 264.9 L948 267.6 L948.7 270.3 L949.5 273 L950.2 275.7 L951 278.5 L951.7 281.2 L952.4 284 L953.2 286.8 L953.9 289.5 L954.7 292.3 L955.4 295.1 L956.2 297.8 L956.9 300.6 L957.6 303.4 L958.4 306.1 L959.1 308.9 L959.9 311.6 L960.6 314.3 L961.3 317 L962.1 319.7 L962.8 322.4 L963.6 325 L964.3 327.6 L965 330.2 L965.8 332.8 L966.5 335.3 L967.3 337.9 L968 340.3 L968.7 342.8 L969.5 345.2 L970.2 347.6 L971 349.9 L971.7 352.2 L972.4 354.5 L973.2 356.7 L973.9 358.9 L974.7 361 L975.4 363.1 L976.2 365.1 L976.9 367.1 L977.6 369 L978.4 370.9 L979.1 372.7 L979.9 374.5 L980.6 376.2 L981.3 377.8 L982.1 379.4 L982.8 380.9 L983.6 382.4 L984.3 383.8 L985 385.2 L985.8 386.4 L986.5 387.6 L987.3 388.8 L988 389.9 L988.7 390.9 L989.5 391.8 L990.2 392.7 L991 393.5 L991.7 394.3 L992.4 394.9 L993.2 395.5 L993.9 396.1 L994.7 396.5 L995.4 396.9 L996.1 397.2 L996.9 397.5 L997.6 397.6 L998.4 397.7 L999.1 397.7 L999.9 397.7 L1000.6 397.6 L1001.3 397.4 L1002.1 397.1 L1002.8 396.8 L1003.6 396.4 L1004.3 395.9 L1005 395.3 L1005.8 394.7 L1006.5 394 L1007.3 393.2 L1008 392.4 L1008.7 391.5 L1009.5 390.5 L1010.2 389.5 L1011 388.4 L1011.7 387.2 L1012.4 386 L1013.2 384.6 L1013.9 383.3 L1014.7 381.8 L1015.4 380.4 L1016.1 378.8 L1016.9 377.2 L1017.6 375.5 L1018.4 373.8 L1019.1 372 L1019.9 370.2 L1020.6 368.3 L1021.3 366.3 L1022.1 364.3 L1022.8 362.3 L1023.6 360.2 L1024.3 358 L1025 355.8 L1025.8 353.6 L1026.5 351.3 L1027.3 349 L1028 346.7 L1028.7 344.3 L1029.5 341.9 L1030.2 339.4 L1031 336.9 L1031.7 334.4 L1032.4 331.8 L1033.2 329.2 L1033.9 326.6 L1034.7 324 L1035.4 321.3 L1036.1 318.7 L1036.9 316 L1037.6 313.3 L1038.4 310.6 L1039.1 307.8 L1039.9 305.1 L1040.6 302.3 L1041.3 299.6 L1042.1 296.8 L1042.8 294 L1043.6 291.2 L1044.3 288.5 L1045 285.7 L1045.8 282.9 L1046.5 280.2 L1047.3 277.4 L1048 274.7 L1048.7 272 L1049.5 269.2 L1050.2 266.5 L1051 263.9 L1051.7 261.2 L1052.4 258.6 L1053.2 255.9 L1053.9 253.3 L1054.7 250.8 L1055.4 248.2 L1056.1 245.7 L1056.9 243.3 L1057.6 240.8 L1058.4 238.4 L1059.1 236 L1059.9 233.7 L1060.6 231.4 L1061.3 229.2 L1062.1 227 L1062.8 224.8 L1063.6 222.7 L1064.3 220.6 L1065 218.6 L1065.8 216.6 L1066.5 214.7 L1067.3 212.8 L1068 211 L1068.7 209.3 L1069.5 207.6 L1070.2 205.9 L1071 204.3 L1071.7 202.8 L1072.4 201.4 L1073.2 200 L1073.9 198.6 L1074.7 197.4 L1075.4 196.2 L1076.1 195 L1076.9 193.9 L1077.6 192.9 L1078.4 192 L1079.1 191.1 L1079.9 190.3 L1080.6 189.6 L1081.3 189 L1082.1 188.4 L1082.8 187.9 L1083.6 187.4 L1084.3 187 L1085 186.7 L1085.8 186.5 L1086.5 186.3 L1087.3 186.3 L1088 186.3 L1088.7 186.3 L1089.5 186.5 L1090.2 186.7 L1091 186.9 L1091.7 187.3 L1092.4 187.7 L1093.2 188.2 L1093.9 188.8 L1094.7 189.4 L1095.4 190.1 L1096.1 190.9 L1096.9 191.7 L1097.6 192.7 L1098.4 193.6 L1099.1 194.7 L1099.8 195.8 L1100.6 197 L1101.3 198.3 L1102.1 199.6 L1102.8 201 L1103.6 202.4 L1104.3 203.9 L1105 205.5 L1105.8 207.1 L1106.5 208.8 L1107.3 210.5 L1108 212.3 L1108.7 214.1 L1109.5 216 L1110.2 218 L1111 220 L1111.7 222.1 L1112.4 224.2 L1113.2 226.3 L1113.9 228.5 L1114.7 230.7 L1115.4 233 L1116.1 235.4 L1116.9 237.7 L1117.6 240.1 L1118.4 242.5 L1119.1 245 L1119.8 247.5 L1120.6 250 L1121.3 252.6 L1122.1 255.2 L1122.8 257.8 L1123.6 260.4 L1124.3 263.1 L1125 265.8 L1125.8 268.5 L1126.5 271.2 L1127.3 273.9 L1128 276.6 L1128.7 279.4 L1129.5 282.1 L1130.2 284.9 L1131 287.7 L1131.7 290.4 L1132.4 293.2 L1133.2 296 L1133.9 298.7 L1134.7 301.5 L1135.4 304.3 L1136.1 307 L1136.9 309.8 L1137.6 312.5 L1138.4 315.2 L1139.1 317.9 L1139.8 320.6 L1140.6 323.2 L1141.3 325.9 L1142.1 328.5 L1142.8 331.1 L1143.6 333.6 L1144.3 336.2 L1145 338.7 L1145.8 341.1 L1146.5 343.6 L1147.3 346 L1148 348.3 L1148.7 350.7 L1149.5 353 L1150.2 355.2 L1151 357.4 L1151.7 359.6 L1152.4 361.7 L1153.2 363.7 L1153.9 365.7 L1154.7 367.7 L1155.4 369.6 L1156.1 371.5 L1156.9 373.3 L1157.6 375 L1158.4 376.7 L1159.1 378.3 L1159.8 379.9 L1160.6 381.4 L1161.3 382.9 L1162.1 384.3 L1162.8 385.6 L1163.6 386.8 L1164.3 388 L1165 389.2 L1165.8 390.2 L1166.5 391.2 L1167.3 392.1 L1168 393 L1168.7 393.8 L1169.5 394.5 L1170.2 395.1 L1171 395.7 L1171.7 396.2 L1172.4 396.7 L1173.2 397 L1173.9 397.3 L1174.7 397.5 L1175.4 397.7 L1176.1 397.7 L1176.9 397.7 L1177.6 397.7 L1178.4 397.5 L1179.1 397.3 L1179.8 397 L1180.6 396.6 L1181.3 396.2 L1182.1 395.7 L1182.8 395.1 L1183.5 394.5 L1184.3 393.8 L1185 393 L1185.8 392.1 L1186.5 391.2 L1187.3 390.2 L1188 389.1 L1188.7 388 L1189.5 386.8 L1190.2 385.5 L1191 384.2 L1191.7 382.8 L1192.4 381.4 L1193.2 379.9 L1193.9 378.3 L1194.7 376.6 L1195.4 375 L1196.1 373.2 L1196.9 371.4 L1197.6 369.5 L1198.4 367.6 L1199.1 365.7 L1199.8 363.7 L1200.6 361.6 L1201.3 359.5 L1202.1 357.3 L1202.8 355.1 L1203.5 352.9 L1204.3 350.6 L1205 348.3 L1205.8 345.9 L1206.5 343.5 L1207.3 341.1 L1208 338.6 L1208.7 336.1 L1209.5 333.5 L1210.2 331 L1211 328.4 L1211.7 325.8 L1212.4 323.1 L1213.2 320.5 L1213.9 317.8 L1214.7 315.1 L1215.4 312.4 L1216.1 309.7 L1216.9 306.9 L1217.6 304.2 L1218.4 301.4 L1219.1 298.7 L1219.8 295.9 L1220.6 293.1 L1221.3 290.3 L1222.1 287.6 L1222.8 284.8 L1223.5 282 L1224.3 279.3 L1225 276.5 L1225.8 273.8 L1226.5 271.1 L1227.3 268.4 L1228 265.7 L1228.7 263 L1229.5 260.3 L1230.2 257.7 L1231 255.1 L1231.7 252.5 L1232.4 250 L1233.2 247.4 L1233.9 244.9 L1234.7 242.5 L1235.4 240 L1236.1 237.6 L1236.9 235.3 L1237.6 233 L1238.4 230.7 L1239.1 228.4 L1239.8 226.2 L1240.6 224.1 L1241.3 222 L1242.1 219.9 L1242.8 217.9 L1243.5 216 L1244.3 214.1 L1245 212.2 L1245.8 210.4 L1246.5 208.7 L1247.3 207 L1248 205.4 L1248.7 203.8 L1249.5 202.3 L1250.2 200.9 L1251 199.5 L1251.7 198.2 L1252.4 197 L1253.2 195.8 L1253.9 194.7 L1254.7 193.6 L1255.4 192.6 L1256.1 191.7 L1256.9 190.9 L1257.6 190.1 L1258.4 189.4 L1259.1 188.8 L1259.8 188.2 L1260.6 187.7 L1261.3 187.3 L1262.1 186.9 L1262.8 186.7 L1263.5 186.4 L1264.3 186.3 L1265 186.3 L1265.8 186.3 L1266.5 186.4 L1267.2 186.5 L1268 186.7 L1268.7 187 L1269.5 187.4 L1270.2 187.9 L1271 188.4 L1271.7 189 L1272.4 189.6 L1273.2 190.4 L1273.9 191.2 L1274.7 192 L1275.4 193 L1276.1 194 L1276.9 195.1 L1277.6 196.2 L1278.4 197.4 L1279.1 198.7 L1279.8 200 L1280.6 201.4 L1281.3 202.9 L1282.1 204.4 L1282.8 206 L1283.5 207.6 L1284.3 209.3 L1285 211.1 L1285.8 212.9 L1286.5 214.8 L1287.2 216.7 L1288 218.6 L1288.7 220.7 L1289.5 222.7 L1290.2 224.9 L1291 227 L1291.7 229.2 L1292.4 231.5 L1293.2 233.8 L1293.9 236.1 L1294.7 238.5 L1295.4 240.9 L1296.1 243.3 L1296.9 245.8 L1297.6 248.3 L1298.4 250.9 L1299.1 253.4 L1299.8 256 L1300.6 258.6 L1301.3 261.3 L1302.1 264 L1302.8 266.6 L1303.5 269.3 L1304.3 272.1 L1305 274.8 L1305.8 277.5 L1306.5 280.3 L1307.2 283 L1308 285.8 L1308.7 288.6 L1309.5 291.3 L1310.2 294.1 L1311 296.9 L1311.7 299.6 L1312.4 302.4 L1313.2 305.2 L1313.9 307.9 L1314.7 310.6 L1315.4 313.4 L1316.1 316.1 L1316.9 318.8 L1317.6 321.4 L1318.4 324.1 L1319.1 326.7 L1319.8 329.3 L1320.6 331.9 L1321.3 334.5 L1322.1 337 L1322.8 339.5 L1323.5 341.9 L1324.3 344.4 L1325 346.8 L1325.8 349.1 L1326.5 351.4 L1327.2 353.7 L1328 355.9 L1328.7 358.1 L1329.5 360.3 L1330.2 362.3 L1331 364.4 L1331.7 366.4 L1332.4 368.3 L1333.2 370.2 L1333.9 372.1 L1334.7 373.8 L1335.4 375.6 L1336.1 377.2 L1336.9 378.9 L1337.6 380.4 L1338.4 381.9 L1339.1 383.3 L1339.8 384.7 L1340.6 386 L1341.3 387.2 L1342.1 388.4 L1342.8 389.5 L1343.5 390.5 L1344.3 391.5 L1345 392.4 L1345.8 393.3 L1346.5 394 L1347.2 394.7 L1348 395.3 L1348.7 395.9 L1349.5 396.4 L1350.2 396.8 L1350.9 397.1 L1351.7 397.4 L1352.4 397.6 L1353.2 397.7 L1353.9 397.7 L1354.7 397.7 L1355.4 397.6 L1356.1 397.5 L1356.9 397.2 L1357.6 396.9 L1358.4 396.5 L1359.1 396.1 L1359.8 395.5 L1360.6 394.9 L1361.3 394.2 L1362.1 393.5 L1362.8 392.7 L1363.5 391.8 L1364.3 390.9 L1365 389.8 L1365.8 388.8 L1366.5 387.6 L1367.2 386.4 L1368 385.1 L1368.7 383.8 L1369.5 382.4 L1370.2 380.9 L1370.9 379.3 L1371.7 377.8 L1372.4 376.1 L1373.2 374.4 L1373.9 372.6 L1374.7 370.8 L1375.4 368.9 L1376.1 367 L1376.9 365 L1377.6 363 L1378.4 360.9 L1379.1 358.8 L1379.8 356.6 L1380.6 354.4 L1381.3 352.1 L1382.1 349.8 L1382.8 347.5 L1383.5 345.1 L1384.3 342.7 L1385 340.3 L1385.8 337.8 L1386.5 335.3 L1387.2 332.7 L1388 330.1 L1388.7 327.5 L1389.5 324.9 L1390.2 322.3 L1390.9 319.6 L1391.7 316.9 L1392.4 314.2 L1393.2 311.5 L1393.9 308.8 L1394.7 306 L1395.4 303.3 L1396.1 300.5 L1396.9 297.8 L1397.6 295 L1398.4 292.2 L1399.1 289.4 L1399.8 286.7 L1400.6 283.9 L1401.3 281.1 L1402.1 278.4 L1402.8 275.6 L1403.5 272.9 L1404.3 270.2 L1405 267.5 L1405.8 264.8 L1406.5 262.1 L1407.2 259.5 L1408 256.9 L1408.7 254.3 L1409.5 251.7 L1410.2 249.1 L1410.9 246.6 L1411.7 244.1 L1412.4 241.7 L1413.2 239.2 L1413.9 236.9 L1414.7 234.5 L1415.4 232.2 L1416.1 229.9 L1416.9 227.7 L1417.6 225.5 L1418.4 223.4 L1419.1 221.3 L1419.8 219.3 L1420.6 217.3 L1421.3 215.4 L1422.1 213.5 L1422.8 211.6 L1423.5 209.9 L1424.3 208.2 L1425 206.5 L1425.8 204.9 L1426.5 203.3 L1427.2 201.9 L1428 200.4 L1428.7 199.1 L1429.5 197.8 L1430.2 196.6 L1430.9 195.4 L1431.7 194.3 L1432.4 193.3 L1433.2 192.3 L1433.9 191.4 L1434.6 190.6 L1435.4 189.9 L1436.1 189.2 L1436.9 188.6 L1437.6 188 L1438.4 187.6 L1439.1 187.2 L1439.8 186.8 L1440.6 186.6 L1441.3 186.4 L1442.1 186.3 L1442.8 186.3 L1443.5 186.3 L1444.3 186.4 L1445 186.6 L1445.8 186.8 L1446.5 187.2 L1447.2 187.6 L1448 188 L1448.7 188.6 L1449.5 189.2 L1450.2 189.9 L1450.9 190.6 L1451.7 191.4 L1452.4 192.3 L1453.2 193.3 L1453.9 194.3 L1454.6 195.4 L1455.4 196.6 L1456.1 197.8 L1456.9 199.1 L1457.6 200.5 L1458.4 201.9 L1459.1 203.4 L1459.8 204.9 L1460.6 206.5 L1461.3 208.2 L1462.1 209.9 L1462.8 211.7 L1463.5 213.5 L1464.3 215.4 L1465 217.3 L1465.8 219.3 L1466.5 221.3 L1467.2 223.4 L1468 225.6 L1468.7 227.7 L1469.5 230 L1470.2 232.2 L1470.9 234.5 L1471.7 236.9 L1472.4 239.3 L1473.2 241.7 L1473.9 244.1 L1474.6 246.6 L1475.4 249.2 L1476.1 251.7 L1476.9 254.3 L1477.6 256.9 L1478.4 259.5 L1479.1 262.2 L1479.8 264.8 L1480.6 267.5 L1481.3 270.2 L1482.1 272.9 L1482.8 275.7 L1483.5 278.4 L1484.3 281.2 L1485 283.9 L1485.8 286.7 L1486.5 289.5 L1487.2 292.2 L1488 295 L1488.7 297.8 L1489.5 300.5 L1490.2 303.3 L1490.9 306.1 L1491.7 308.8 L1492.4 311.5 L1493.2 314.2 L1493.9 317 L1494.6 319.6 L1495.4 322.3 L1496.1 324.9 L1496.9 327.6 L1497.6 330.2 L1498.4 332.7 L1499.1 335.3 L1499.8 337.8 L1500.6 340.3 L1501.3 342.7 L1502.1 345.1 L1502.8 347.5 L1503.5 349.9 L1504.3 352.2 L1505 354.4 L1505.8 356.6 L1506.5 358.8 L1507.2 360.9 L1508 363 L1508.7 365 L1509.5 367 L1510.2 369 L1510.9 370.8 L1511.7 372.6 L1512.4 374.4 L1513.2 376.1 L1513.9 377.8 L1514.6 379.4 L1515.4 380.9 L1516.1 382.4 L1516.9 383.8 L1517.6 385.1 L1518.3 386.4 L1519.1 387.6 L1519.8 388.8 L1520.6 389.9 L1521.3 390.9 L1522.1 391.8 L1522.8 392.7 L1523.5 393.5 L1524.3 394.3 L1525 394.9 L1525.8 395.5 L1526.5 396.1 L1527.2 396.5 L1528 396.9 L1528.7 397.2 L1529.5 397.5 L1530.2 397.6 L1530.9 397.7 L1531.7 397.7 L1532.4 397.7 L1533.2 397.6 L1533.9 397.4 L1534.6 397.1 L1535.4 396.8 L1536.1 396.4 L1536.9 395.9 L1537.6 395.3 L1538.3 394.7 L1539.1 394 L1539.8 393.3 L1540.6 392.4 L1541.3 391.5 L1542.1 390.5 L1542.8 389.5 L1543.5 388.4 L1544.3 387.2 L1545 386 L1545.8 384.7 L1546.5 383.3 L1547.2 381.9 L1548 380.4 L1548.7 378.8 L1549.5 377.2 L1550.2 375.6 L1550.9 373.8 L1551.7 372 L1552.4 370.2 L1553.2 368.3 L1553.9 366.4 L1554.6 364.4 L1555.4 362.3 L1556.1 360.2 L1556.9 358.1 L1557.6 355.9 L1558.3 353.7 L1559.1 351.4 L1559.8 349.1 L1560.6 346.7 L1561.3 344.3 L1562.1 341.9 L1562.8 339.5 L1563.5 337 L1564.3 334.4 L1565 331.9 L1565.8 329.3 L1566.5 326.7 L1567.2 324.1 L1568 321.4 L1568.7 318.7 L1569.5 316 L1570.2 313.3 L1570.9 310.6 L1571.7 307.9 L1572.4 305.1 L1573.2 302.4 L1573.9 299.6 L1574.6 296.9 L1575.4 294.1 L1576.1 291.3 L1576.9 288.5 L1577.6 285.8 L1578.3 283 L1579.1 280.2 L1579.8 277.5 L1580.6 274.8 L1581.3 272 L1582.1 269.3 L1582.8 266.6 L1583.5 263.9 L1584.3 261.3 L1585 258.6 L1585.8 256 L1586.5 253.4 L1587.2 250.8 L1588 248.3 L1588.7 245.8 L1589.5 243.3 L1590.2 240.9 L1590.9 238.5 L1591.7 236.1 L1592.4 233.8 L1593.2 231.5 L1593.9 229.2 L1594.6 227 L1595.4 224.8 L1596.1 222.7 L1596.9 220.7 L1597.6 218.6 L1598.3 216.7 L1599.1 214.7 L1599.8 212.9 L1600.6 211.1 L1601.3 209.3 L1602.1 207.6 L1602.8 206 L1603.5 204.4 L1604.3 202.9 L1605 201.4 L1605.8 200 L1606.5 198.7 L1607.2 197.4 L1608 196.2 L1608.7 195 L1609.5 194 L1610.2 193 L1610.9 192 L1611.7 191.2 L1612.4 190.4 L1613.2 189.6 L1613.9 189 L1614.6 188.4 L1615.4 187.9 L1616.1 187.4 L1616.9 187 L1617.6 186.7 L1618.3 186.5 L1619.1 186.4 L1619.8 186.3 L1620.6 186.3 L1621.3 186.3 L1622 186.4 L1622.8 186.7 L1623.5 186.9 L1624.3 187.3 L1625 187.7 L1625.8 188.2 L1626.5 188.8 L1627.2 189.4 L1628 190.1 L1628.7 190.9 L1629.5 191.7 L1630.2 192.6 L1630.9 193.6 L1631.7 194.7 L1632.4 195.8 L1633.2 197 L1633.9 198.2 L1634.6 199.5 L1635.4 200.9 L1636.1 202.4 L1636.9 203.9 L1637.6 205.4 L1638.3 207 L1639.1 208.7 L1639.8 210.5 L1640.6 212.3 L1641.3 214.1 L1642 216 L1642.8 218 L1643.5 220 L1644.3 222 L1645 224.1 L1645.8 226.3 L1646.5 228.5 L1647.2 230.7 L1648 233 L1648.7 235.3 L1649.5 237.7 L1650.2 240 L1650.9 242.5 L1651.7 244.9 L1652.4 247.4 L1653.2 250 L1653.9 252.5 L1654.6 255.1 L1655.4 257.7 L1656.1 260.4 L1656.9 263 L1657.6 265.7 L1658.3 268.4 L1659.1 271.1 L1659.8 273.8 L1660.6 276.6 L1661.3 279.3 L1662 282.1 L1662.8 284.8 L1663.5 287.6 L1664.3 290.4 L1665 293.1 L1665.8 295.9 L1666.5 298.7 L1667.2 301.4 L1668 304.2 L1668.7 307 L1669.5 309.7 L1670.2 312.4 L1670.9 315.1 L1671.7 317.8 L1672.4 320.5 L1673.2 323.2 L1673.9 325.8 L1674.6 328.4 L1675.4 331 L1676.1 333.6 L1676.9 336.1 L1677.6 338.6 L1678.3 341.1 L1679.1 343.5 L1679.8 345.9 L1680.6 348.3" stroke="#D95319" stroke-width="11.4" fill="none" stroke-linejoin="round" stroke-linecap="butt"/>
<path d="M170.5 397.7 L171.1 401.6 L171.7 405.4 L172.3 409.1 L172.9 412.8 L173.5 416.4 L174.1 419.9 L174.7 423.5 L175.2 426.9 L175.8 430.3 L176.4 433.6 L177 436.9 L177.6 440.1 L178.2 443.2 L178.8 446.3 L179.4 449.3 L180 452.3 L180.6 455.1 L181.2 457.9 L181.8 460.6 L182.4 463.3 L183 465.9 L183.6 468.3 L184.2 470.8 L184.7 473.1 L185.3 475.3 L185.9 477.5 L186.5 479.6 L187.1 481.6 L187.7 483.6 L188.3 485.4 L188.9 487.2 L189.5 488.8 L190.1 490.4 L190.7 491.9 L191.3 493.3 L191.9 494.6 L192.5 495.9 L193.1 497 L193.7 498 L194.2 499 L194.8 499.9 L195.4 500.6 L196 501.3 L196.6 501.9 L197.2 502.4 L197.8 502.8 L198.4 503.1 L199 503.3 L199.6 503.5 L200.2 503.5 L200.8 503.4 L201.4 503.3 L202 503 L202.6 502.7 L203.2 502.3 L203.7 501.7 L204.3 501.1 L204.9 500.4 L205.5 499.6 L206.1 498.7 L206.7 497.7 L207.3 496.6 L207.9 495.5 L208.5 494.2 L209.1 492.8 L209.7 491.4 L210.3 489.9 L210.9 488.3 L211.5 486.6 L212.1 484.8 L212.7 482.9 L213.2 481 L213.8 478.9 L214.4 476.8 L215 474.6 L215.6 472.3 L216.2 470 L216.8 467.5 L217.4 465 L218 462.4 L218.6 459.7 L219.2 457 L219.8 454.2 L220.4 451.3 L221 448.3 L221.6 445.3 L222.2 442.2 L222.7 439 L223.3 435.8 L223.9 432.5 L224.5 429.2 L225.1 425.8 L225.7 422.3 L226.3 418.8 L226.9 415.2 L227.5 411.5 L228.1 407.8 L228.7 404.1 L229.3 400.3 L229.9 396.5 L230.5 392.6 L231.1 388.6 L231.7 384.7 L232.2 380.7 L232.8 376.6 L233.4 372.5 L234 368.4 L234.6 364.2 L235.2 360 L235.8 355.8 L236.4 351.6 L237 347.3 L237.6 343 L238.2 338.7 L238.8 334.3 L239.4 329.9 L240 325.6 L240.6 321.2 L241.2 316.8 L241.7 312.3 L242.3 307.9 L242.9 303.5 L243.5 299 L244.1 294.6 L244.7 290.1 L245.3 285.7 L245.9 281.3 L246.5 276.8 L247.1 272.4 L247.7 268 L248.3 263.6 L248.9 259.2 L249.5 254.8 L250.1 250.4 L250.7 246.1 L251.2 241.7 L251.8 237.4 L252.4 233.2 L253 228.9 L253.6 224.7 L254.2 220.5 L254.8 216.3 L255.4 212.2 L256 208.1 L256.6 204 L257.2 200 L257.8 196 L258.4 192.1 L259 188.2 L259.6 184.3 L260.2 180.5 L260.7 176.8 L261.3 173.1 L261.9 169.4 L262.5 165.8 L263.1 162.3 L263.7 158.8 L264.3 155.4 L264.9 152 L265.5 148.7 L266.1 145.5 L266.7 142.3 L267.3 139.2 L267.9 136.2 L268.5 133.2 L269.1 130.3 L269.7 127.5 L270.2 124.7 L270.8 122 L271.4 119.4 L272 116.9 L272.6 114.4 L273.2 112.1 L273.8 109.8 L274.4 107.6 L275 105.4 L275.6 103.4 L276.2 101.4 L276.8 99.5 L277.4 97.7 L278 96 L278.6 94.4 L279.2 92.8 L279.7 91.4 L280.3 90 L280.9 88.7 L281.5 87.6 L282.1 86.5 L282.7 85.5 L283.3 84.6 L283.9 83.7 L284.5 83 L285.1 82.4 L285.7 81.8 L286.3 81.4 L286.9 81 L287.5 80.8 L288.1 80.6 L288.7 80.5 L289.2 80.5 L289.8 80.6 L290.4 80.8 L291 81.1 L291.6 81.5 L292.2 82 L292.8 82.6 L293.4 83.2 L294 84 L294.6 84.8 L295.2 85.8 L295.8 86.8 L296.4 87.9 L297 89.2 L297.6 90.5 L298.2 91.9 L298.7 93.3 L299.3 94.9 L299.9 96.6 L300.5 98.3 L301.1 100.1 L301.7 102 L302.3 104 L302.9 106.1 L303.5 108.3 L304.1 110.5 L304.7 112.8 L305.3 115.2 L305.9 117.7 L306.5 120.3 L307.1 122.9 L307.7 125.6 L308.2 128.4 L308.8 131.3 L309.4 134.2 L310 137.2 L310.6 140.2 L311.2 143.4 L311.8 146.6 L312.4 149.8 L313 153.1 L313.6 156.5 L314.2 160 L314.8 163.5 L315.4 167 L316 170.6 L316.6 174.3 L317.2 178 L317.7 181.8 L318.3 185.6 L318.9 189.5 L319.5 193.4 L320.1 197.3 L320.7 201.3 L321.3 205.4 L321.9 209.4 L322.5 213.5 L323.1 217.7 L323.7 221.9 L324.3 226.1 L324.9 230.3 L325.5 234.6 L326.1 238.9 L326.7 243.2 L327.2 247.5 L327.8 251.9 L328.4 256.2 L329 260.6 L329.6 265 L330.2 269.5 L330.8 273.9 L331.4 278.3 L332 282.7 L332.6 287.2 L333.2 291.6 L333.8 296.1 L334.4 300.5 L335 305 L335.6 309.4 L336.2 313.8 L336.7 318.2 L337.3 322.6 L337.9 327 L338.5 331.4 L339.1 335.8 L339.7 340.1 L340.3 344.4 L340.9 348.7 L341.5 353 L342.1 357.2 L342.7 361.4 L343.3 365.6 L343.9 369.8 L344.5 373.9 L345.1 378 L345.7 382 L346.2 386 L346.8 390 L347.4 393.9 L348 397.7 L348 397.8 L348.8 397.7 L349.5 397.6 L350.3 397.4 L351 397.2 L351.7 396.8 L352.5 396.4 L353.2 396 L354 395.4 L354.7 394.8 L355.4 394.1 L356.2 393.4 L356.9 392.6 L357.7 391.7 L358.4 390.7 L359.1 389.7 L359.9 388.6 L360.6 387.4 L361.4 386.2 L362.1 384.9 L362.8 383.5 L363.6 382.1 L364.3 380.6 L365.1 379.1 L365.8 377.5 L366.5 375.8 L367.3 374.1 L368 372.3 L368.8 370.5 L369.5 368.6 L370.3 366.7 L371 364.7 L371.7 362.7 L372.5 360.6 L373.2 358.5 L374 356.3 L374.7 354 L375.4 351.8 L376.2 349.5 L376.9 347.1 L377.7 344.7 L378.4 342.3 L379.1 339.9 L379.9 337.4 L380.6 334.9 L381.4 332.3 L382.1 329.7 L382.8 327.1 L383.6 324.5 L384.3 321.9 L385.1 319.2 L385.8 316.5 L386.5 313.8 L387.3 311.1 L388 308.3 L388.8 305.6 L389.5 302.8 L390.2 300.1 L391 297.3 L391.7 294.5 L392.5 291.8 L393.2 289 L394 286.2 L394.7 283.5 L395.4 280.7 L396.2 278 L396.9 275.2 L397.7 272.5 L398.4 269.8 L399.1 267.1 L399.9 264.4 L400.6 261.7 L401.4 259.1 L402.1 256.4 L402.8 253.8 L403.6 251.3 L404.3 248.7 L405.1 246.2 L405.8 243.7 L406.5 241.3 L407.3 238.9 L408 236.5 L408.8 234.1 L409.5 231.8 L410.2 229.6 L411 227.4 L411.7 225.2 L412.5 223.1 L413.2 221 L414 219 L414.7 217 L415.4 215.1 L416.2 213.2 L416.9 211.4 L417.7 209.6 L418.4 207.9 L419.1 206.2 L419.9 204.6 L420.6 203.1 L421.4 201.6 L422.1 200.2 L422.8 198.9 L423.6 197.6 L424.3 196.4 L425.1 195.2 L425.8 194.1 L426.5 193.1 L427.3 192.2 L428 191.3 L428.8 190.5 L429.5 189.7 L430.2 189.1 L431 188.5 L431.7 187.9 L432.5 187.5 L433.2 187.1 L434 186.8 L434.7 186.5 L435.4 186.4 L436.2 186.3 L436.9 186.3 L437.7 186.3 L438.4 186.4 L439.1 186.6 L439.9 186.9 L440.6 187.2 L441.4 187.6 L442.1 188.1 L442.8 188.7 L443.6 189.3 L444.3 190 L445.1 190.7 L445.8 191.6 L446.5 192.5 L447.3 193.5 L448 194.5 L448.8 195.6 L449.5 196.8 L450.2 198 L451 199.3 L451.7 200.7 L452.5 202.1 L453.2 203.6 L454 205.2 L454.7 206.8 L455.4 208.4 L456.2 210.2 L456.9 211.9 L457.7 213.8 L458.4 215.7 L459.1 217.6 L459.9 219.6 L460.6 221.7 L461.4 223.8 L462.1 225.9 L462.8 228.1 L463.6 230.3 L464.3 232.6 L465.1 234.9 L465.8 237.3 L466.5 239.6 L467.3 242.1 L468 244.5 L468.8 247 L469.5 249.6 L470.2 252.1 L471 254.7 L471.7 257.3 L472.5 259.9 L473.2 262.6 L473.9 265.2 L474.7 267.9 L475.4 270.6 L476.2 273.4 L476.9 276.1 L477.7 278.8 L478.4 281.6 L479.1 284.4 L479.9 287.1 L480.6 289.9 L481.4 292.7 L482.1 295.4 L482.8 298.2 L483.6 301 L484.3 303.7 L485.1 306.5 L485.8 309.2 L486.5 312 L487.3 314.7 L488 317.4 L488.8 320.1 L489.5 322.7 L490.2 325.4 L491 328 L491.7 330.6 L492.5 333.1 L493.2 335.7 L493.9 338.2 L494.7 340.7 L495.4 343.1 L496.2 345.5 L496.9 347.9 L497.7 350.2 L498.4 352.5 L499.1 354.8 L499.9 357 L500.6 359.1 L501.4 361.3 L502.1 363.3 L502.8 365.4 L503.6 367.3 L504.3 369.3 L505.1 371.1 L505.8 372.9 L506.5 374.7 L507.3 376.4 L508 378 L508.8 379.6 L509.5 381.1 L510.2 382.6 L511 384 L511.7 385.3 L512.5 386.6 L513.2 387.8 L513.9 388.9 L514.7 390 L515.4 391 L516.2 392 L516.9 392.8 L517.7 393.6 L518.4 394.4 L519.1 395 L519.9 395.6 L520.6 396.1 L521.4 396.6 L522.1 397 L522.8 397.3 L523.6 397.5 L524.3 397.6 L525.1 397.7 L525.8 397.7 L526.5 397.7 L527.3 397.6 L528 397.3 L528.8 397.1 L529.5 396.7 L530.2 396.3 L531 395.8 L531.7 395.2 L532.5 394.6 L533.2 393.9 L533.9 393.1 L534.7 392.3 L535.4 391.4 L536.2 390.4 L536.9 389.3 L537.7 388.2 L538.4 387 L539.1 385.8 L539.9 384.5 L540.6 383.1 L541.4 381.7 L542.1 380.1 L542.8 378.6 L543.6 377 L544.3 375.3 L545.1 373.6 L545.8 371.8 L546.5 369.9 L547.3 368 L548 366.1 L548.8 364.1 L549.5 362 L550.2 359.9 L551 357.7 L551.7 355.6 L552.5 353.3 L553.2 351 L553.9 348.7 L554.7 346.4 L555.4 344 L556.2 341.5 L556.9 339.1 L557.7 336.6 L558.4 334 L559.1 331.5 L559.9 328.9 L560.6 326.3 L561.4 323.6 L562.1 321 L562.8 318.3 L563.6 315.6 L564.3 312.9 L565.1 310.2 L565.8 307.5 L566.5 304.7 L567.3 301.9 L568 299.2 L568.8 296.4 L569.5 293.6 L570.2 290.9 L571 288.1 L571.7 285.3 L572.5 282.6 L573.2 279.8 L573.9 277.1 L574.7 274.3 L575.4 271.6 L576.2 268.9 L576.9 266.2 L577.6 263.5 L578.4 260.8 L579.1 258.2 L579.9 255.6 L580.6 253 L581.4 250.4 L582.1 247.9 L582.8 245.4 L583.6 242.9 L584.3 240.5 L585.1 238.1 L585.8 235.7 L586.5 233.4 L587.3 231.1 L588 228.9 L588.8 226.7 L589.5 224.5 L590.2 222.4 L591 220.3 L591.7 218.3 L592.5 216.4 L593.2 214.4 L593.9 212.6 L594.7 210.8 L595.4 209 L596.2 207.3 L596.9 205.7 L597.6 204.1 L598.4 202.6 L599.1 201.2 L599.9 199.8 L600.6 198.5 L601.4 197.2 L602.1 196 L602.8 194.9 L603.6 193.8 L604.3 192.8 L605.1 191.9 L605.8 191 L606.5 190.2 L607.3 189.5 L608 188.9 L608.8 188.3 L609.5 187.8 L610.2 187.4 L611 187 L611.7 186.7 L612.5 186.5 L613.2 186.3 L613.9 186.3 L614.7 186.3 L615.4 186.3 L616.2 186.5 L616.9 186.7 L617.6 187 L618.4 187.3 L619.1 187.8 L619.9 188.3 L620.6 188.9 L621.4 189.5 L622.1 190.2 L622.8 191 L623.6 191.9 L624.3 192.8 L625.1 193.8 L625.8 194.8 L626.5 196 L627.3 197.2 L628 198.4 L628.8 199.8 L629.5 201.1 L630.2 202.6 L631 204.1 L631.7 205.7 L632.5 207.3 L633.2 209 L633.9 210.7 L634.7 212.5 L635.4 214.4 L636.2 216.3 L636.9 218.3 L637.6 220.3 L638.4 222.3 L639.1 224.4 L639.9 226.6 L640.6 228.8 L641.4 231.1 L642.1 233.3 L642.8 235.7 L643.6 238 L644.3 240.4 L645.1 242.9 L645.8 245.3 L646.5 247.8 L647.3 250.4 L648 252.9 L648.8 255.5 L649.5 258.1 L650.2 260.8 L651 263.4 L651.7 266.1 L652.5 268.8 L653.2 271.5 L653.9 274.3 L654.7 277 L655.4 279.7 L656.2 282.5 L656.9 285.3 L657.6 288 L658.4 290.8 L659.1 293.6 L659.9 296.3 L660.6 299.1 L661.3 301.9 L662.1 304.6 L662.8 307.4 L663.6 310.1 L664.3 312.8 L665.1 315.6 L665.8 318.3 L666.5 320.9 L667.3 323.6 L668 326.2 L668.8 328.8 L669.5 331.4 L670.2 334 L671 336.5 L671.7 339 L672.5 341.5 L673.2 343.9 L673.9 346.3 L674.7 348.7 L675.4 351 L676.2 353.3 L676.9 355.5 L677.6 357.7 L678.4 359.8 L679.1 361.9 L679.9 364 L680.6 366 L681.3 368 L682.1 369.9 L682.8 371.7 L683.6 373.5 L684.3 375.2 L685.1 376.9 L685.8 378.5 L686.5 380.1 L687.3 381.6 L688 383.1 L688.8 384.4 L689.5 385.7 L690.2 387 L691 388.2 L691.7 389.3 L692.5 390.4 L693.2 391.3 L693.9 392.3 L694.7 393.1 L695.4 393.9 L696.2 394.6 L696.9 395.2 L697.6 395.8 L698.4 396.3 L699.1 396.7 L699.9 397.1 L700.6 397.3 L701.3 397.5 L702.1 397.7 L702.8 397.7 L703.6 397.7 L704.3 397.7 L705.1 397.5 L705.8 397.3 L706.5 397 L707.3 396.6 L708 396.1 L708.8 395.6 L709.5 395 L710.2 394.4 L711 393.7 L711.7 392.9 L712.5 392 L713.2 391.1 L713.9 390 L714.7 389 L715.4 387.8 L716.2 386.6 L716.9 385.4 L717.6 384 L718.4 382.6 L719.1 381.2 L719.9 379.6 L720.6 378.1 L721.3 376.4 L722.1 374.7 L722.8 373 L723.6 371.2 L724.3 369.3 L725.1 367.4 L725.8 365.4 L726.5 363.4 L727.3 361.3 L728 359.2 L728.8 357 L729.5 354.8 L730.2 352.6 L731 350.3 L731.7 348 L732.5 345.6 L733.2 343.2 L733.9 340.7 L734.7 338.3 L735.4 335.7 L736.2 333.2 L736.9 330.6 L737.6 328 L738.4 325.4 L739.1 322.8 L739.9 320.1 L740.6 317.4 L741.3 314.7 L742.1 312 L742.8 309.3 L743.6 306.6 L744.3 303.8 L745 301.1 L745.8 298.3 L746.5 295.5 L747.3 292.7 L748 290 L748.8 287.2 L749.5 284.4 L750.2 281.7 L751 278.9 L751.7 276.2 L752.5 273.4 L753.2 270.7 L753.9 268 L754.7 265.3 L755.4 262.6 L756.2 260 L756.9 257.4 L757.6 254.7 L758.4 252.2 L759.1 249.6 L759.9 247.1 L760.6 244.6 L761.3 242.1 L762.1 239.7 L762.8 237.3 L763.6 235 L764.3 232.6 L765 230.4 L765.8 228.1 L766.5 226 L767.3 223.8 L768 221.7 L768.8 219.7 L769.5 217.7 L770.2 215.7 L771 213.8 L771.7 212 L772.5 210.2 L773.2 208.5 L773.9 206.8 L774.7 205.2 L775.4 203.6 L776.2 202.1 L776.9 200.7 L777.6 199.3 L778.4 198 L779.1 196.8 L779.9 195.6 L780.6 194.5 L781.3 193.5 L782.1 192.5 L782.8 191.6 L783.6 190.8 L784.3 190 L785 189.3 L785.8 188.7 L786.5 188.1 L787.3 187.6 L788 187.2 L788.8 186.9 L789.5 186.6 L790.2 186.4 L791 186.3 L791.7 186.3 L792.5 186.3 L793.2 186.4 L793.9 186.5 L794.7 186.8 L795.4 187.1 L796.2 187.5 L796.9 187.9 L797.6 188.5 L798.4 189.1 L799.1 189.7 L799.9 190.5 L800.6 191.3 L801.3 192.2 L802.1 193.1 L802.8 194.1 L803.6 195.2 L804.3 196.4 L805 197.6 L805.8 198.9 L806.5 200.2 L807.3 201.6 L808 203.1 L808.8 204.6 L809.5 206.2 L810.2 207.8 L811 209.6 L811.7 211.3 L812.5 213.1 L813.2 215 L813.9 216.9 L814.7 218.9 L815.4 220.9 L816.2 223 L816.9 225.1 L817.6 227.3 L818.4 229.5 L819.1 231.8 L819.9 234.1 L820.6 236.4 L821.3 238.8 L822.1 241.2 L822.8 243.7 L823.6 246.2 L824.3 248.7 L825 251.2 L825.8 253.8 L826.5 256.4 L827.3 259 L828 261.6 L828.7 264.3 L829.5 267 L830.2 269.7 L831 272.4 L831.7 275.1 L832.5 277.9 L833.2 280.6 L833.9 283.4 L834.7 286.2 L835.4 288.9 L836.2 291.7 L836.9 294.5 L837.6 297.2 L838.4 300 L839.1 302.8 L839.9 305.5 L840.6 308.3 L841.3 311 L842.1 313.7 L842.8 316.4 L843.6 319.1 L844.3 321.8 L845 324.4 L845.8 327.1 L846.5 329.7 L847.3 332.2 L848 334.8 L848.7 337.3 L849.5 339.8 L850.2 342.3 L851 344.7 L851.7 347.1 L852.5 349.4 L853.2 351.7 L853.9 354 L854.7 356.2 L855.4 358.4 L856.2 360.5 L856.9 362.6 L857.6 364.7 L858.4 366.6 L859.1 368.6 L859.9 370.5 L860.6 372.3 L861.3 374.1 L862.1 375.8 L862.8 377.5 L863.6 379.1 L864.3 380.6 L865 382.1 L865.8 383.5 L866.5 384.9 L867.3 386.2 L868 387.4 L868.7 388.6 L869.5 389.7 L870.2 390.7 L871 391.6 L871.7 392.5 L872.5 393.4 L873.2 394.1 L873.9 394.8 L874.7 395.4 L875.4 396 L876.2 396.4 L876.9 396.8 L877.6 397.2 L878.4 397.4 L879.1 397.6 L879.9 397.7 L880.6 397.7 L881.3 397.7 L882.1 397.6 L882.8 397.4 L883.6 397.2 L884.3 396.9 L885 396.5 L885.8 396 L886.5 395.4 L887.3 394.8 L888 394.2 L888.7 393.4 L889.5 392.6 L890.2 391.7 L891 390.7 L891.7 389.7 L892.5 388.6 L893.2 387.5 L893.9 386.2 L894.7 384.9 L895.4 383.6 L896.2 382.2 L896.9 380.7 L897.6 379.1 L898.4 377.5 L899.1 375.9 L899.9 374.2 L900.6 372.4 L901.3 370.6 L902.1 368.7 L902.8 366.7 L903.6 364.8 L904.3 362.7 L905 360.6 L905.8 358.5 L906.5 356.3 L907.3 354.1 L908 351.8 L908.7 349.5 L909.5 347.2 L910.2 344.8 L911 342.4 L911.7 339.9 L912.4 337.4 L913.2 334.9 L913.9 332.4 L914.7 329.8 L915.4 327.2 L916.2 324.6 L916.9 321.9 L917.6 319.3 L918.4 316.6 L919.1 313.9 L919.9 311.1 L920.6 308.4 L921.3 305.7 L922.1 302.9 L922.8 300.2 L923.6 297.4 L924.3 294.6 L925 291.8 L925.8 289.1 L926.5 286.3 L927.3 283.5 L928 280.8 L928.7 278 L929.5 275.3 L930.2 272.5 L931 269.8 L931.7 267.1 L932.4 264.4 L933.2 261.8 L933.9 259.1 L934.7 256.5 L935.4 253.9 L936.2 251.3 L936.9 248.8 L937.6 246.3 L938.4 243.8 L939.1 241.3 L939.9 238.9 L940.6 236.5 L941.3 234.2 L942.1 231.9 L942.8 229.6 L943.6 227.4 L944.3 225.3 L945 223.1 L945.8 221 L946.5 219 L947.3 217 L948 215.1 L948.7 213.2 L949.5 211.4 L950.2 209.6 L951 207.9 L951.7 206.3 L952.4 204.7 L953.2 203.1 L953.9 201.7 L954.7 200.3 L955.4 198.9 L956.2 197.6 L956.9 196.4 L957.6 195.3 L958.4 194.2 L959.1 193.2 L959.9 192.2 L960.6 191.3 L961.3 190.5 L962.1 189.8 L962.8 189.1 L963.6 188.5 L964.3 188 L965 187.5 L965.8 187.1 L966.5 186.8 L967.3 186.5 L968 186.4 L968.7 186.3 L969.5 186.3 L970.2 186.3 L971 186.4 L971.7 186.6 L972.4 186.9 L973.2 187.2 L973.9 187.6 L974.7 188.1 L975.4 188.6 L976.2 189.3 L976.9 190 L977.6 190.7 L978.4 191.6 L979.1 192.5 L979.9 193.4 L980.6 194.5 L981.3 195.6 L982.1 196.7 L982.8 198 L983.6 199.3 L984.3 200.6 L985 202.1 L985.8 203.6 L986.5 205.1 L987.3 206.7 L988 208.4 L988.7 210.1 L989.5 211.9 L990.2 213.7 L991 215.6 L991.7 217.6 L992.4 219.6 L993.2 221.6 L993.9 223.7 L994.7 225.8 L995.4 228 L996.1 230.3 L996.9 232.5 L997.6 234.8 L998.4 237.2 L999.1 239.6 L999.9 242 L1000.6 244.5 L1001.3 247 L1002.1 249.5 L1002.8 252 L1003.6 254.6 L1004.3 257.2 L1005 259.9 L1005.8 262.5 L1006.5 265.2 L1007.3 267.9 L1008 270.6 L1008.7 273.3 L1009.5 276 L1010.2 278.8 L1011 281.5 L1011.7 284.3 L1012.4 287.1 L1013.2 289.8 L1013.9 292.6 L1014.7 295.4 L1015.4 298.1 L1016.1 300.9 L1016.9 303.7 L1017.6 306.4 L1018.4 309.2 L1019.1 311.9 L1019.9 314.6 L1020.6 317.3 L1021.3 320 L1022.1 322.7 L1022.8 325.3 L1023.6 327.9 L1024.3 330.5 L1025 333.1 L1025.8 335.6 L1026.5 338.1 L1027.3 340.6 L1028 343.1 L1028.7 345.5 L1029.5 347.8 L1030.2 350.2 L1031 352.5 L1031.7 354.7 L1032.4 356.9 L1033.2 359.1 L1033.9 361.2 L1034.7 363.3 L1035.4 365.3 L1036.1 367.3 L1036.9 369.2 L1037.6 371.1 L1038.4 372.9 L1039.1 374.6 L1039.9 376.3 L1040.6 378 L1041.3 379.6 L1042.1 381.1 L1042.8 382.6 L1043.6 384 L1044.3 385.3 L1045 386.6 L1045.8 387.8 L1046.5 388.9 L1047.3 390 L1048 391 L1048.7 391.9 L1049.5 392.8 L1050.2 393.6 L1051 394.3 L1051.7 395 L1052.4 395.6 L1053.2 396.1 L1053.9 396.6 L1054.7 396.9 L1055.4 397.3 L1056.1 397.5 L1056.9 397.6 L1057.6 397.7 L1058.4 397.7 L1059.1 397.7 L1059.9 397.6 L1060.6 397.4 L1061.3 397.1 L1062.1 396.7 L1062.8 396.3 L1063.6 395.8 L1064.3 395.3 L1065 394.6 L1065.8 393.9 L1066.5 393.1 L1067.3 392.3 L1068 391.4 L1068.7 390.4 L1069.5 389.4 L1070.2 388.2 L1071 387.1 L1071.7 385.8 L1072.4 384.5 L1073.2 383.1 L1073.9 381.7 L1074.7 380.2 L1075.4 378.6 L1076.1 377 L1076.9 375.3 L1077.6 373.6 L1078.4 371.8 L1079.1 370 L1079.9 368.1 L1080.6 366.1 L1081.3 364.1 L1082.1 362 L1082.8 359.9 L1083.6 357.8 L1084.3 355.6 L1085 353.4 L1085.8 351.1 L1086.5 348.8 L1087.3 346.4 L1088 344 L1088.7 341.6 L1089.5 339.1 L1090.2 336.6 L1091 334.1 L1091.7 331.5 L1092.4 329 L1093.2 326.3 L1093.9 323.7 L1094.7 321.1 L1095.4 318.4 L1096.1 315.7 L1096.9 313 L1097.6 310.3 L1098.4 307.5 L1099.1 304.8 L1099.8 302 L1100.6 299.3 L1101.3 296.5 L1102.1 293.7 L1102.8 290.9 L1103.6 288.2 L1104.3 285.4 L1105 282.6 L1105.8 279.9 L1106.5 277.1 L1107.3 274.4 L1108 271.7 L1108.7 269 L1109.5 266.3 L1110.2 263.6 L1111 260.9 L1111.7 258.3 L1112.4 255.7 L1113.2 253.1 L1113.9 250.5 L1114.7 248 L1115.4 245.5 L1116.1 243 L1116.9 240.6 L1117.6 238.1 L1118.4 235.8 L1119.1 233.5 L1119.8 231.2 L1120.6 228.9 L1121.3 226.7 L1122.1 224.6 L1122.8 222.4 L1123.6 220.4 L1124.3 218.4 L1125 216.4 L1125.8 214.5 L1126.5 212.6 L1127.3 210.8 L1128 209.1 L1128.7 207.4 L1129.5 205.8 L1130.2 204.2 L1131 202.7 L1131.7 201.2 L1132.4 199.8 L1133.2 198.5 L1133.9 197.2 L1134.7 196 L1135.4 194.9 L1136.1 193.8 L1136.9 192.8 L1137.6 191.9 L1138.4 191.1 L1139.1 190.3 L1139.8 189.5 L1140.6 188.9 L1141.3 188.3 L1142.1 187.8 L1142.8 187.4 L1143.6 187 L1144.3 186.7 L1145 186.5 L1145.8 186.3 L1146.5 186.3 L1147.3 186.3 L1148 186.3 L1148.7 186.5 L1149.5 186.7 L1150.2 187 L1151 187.3 L1151.7 187.8 L1152.4 188.3 L1153.2 188.8 L1153.9 189.5 L1154.7 190.2 L1155.4 191 L1156.1 191.8 L1156.9 192.8 L1157.6 193.8 L1158.4 194.8 L1159.1 195.9 L1159.8 197.1 L1160.6 198.4 L1161.3 199.7 L1162.1 201.1 L1162.8 202.6 L1163.6 204.1 L1164.3 205.6 L1165 207.3 L1165.8 208.9 L1166.5 210.7 L1167.3 212.5 L1168 214.3 L1168.7 216.3 L1169.5 218.2 L1170.2 220.2 L1171 222.3 L1171.7 224.4 L1172.4 226.6 L1173.2 228.8 L1173.9 231 L1174.7 233.3 L1175.4 235.6 L1176.1 238 L1176.9 240.4 L1177.6 242.8 L1178.4 245.3 L1179.1 247.8 L1179.8 250.3 L1180.6 252.9 L1181.3 255.5 L1182.1 258.1 L1182.8 260.7 L1183.5 263.4 L1184.3 266.1 L1185 268.7 L1185.8 271.5 L1186.5 274.2 L1187.3 276.9 L1188 279.7 L1188.7 282.4 L1189.5 285.2 L1190.2 288 L1191 290.7 L1191.7 293.5 L1192.4 296.3 L1193.2 299 L1193.9 301.8 L1194.7 304.6 L1195.4 307.3 L1196.1 310.1 L1196.9 312.8 L1197.6 315.5 L1198.4 318.2 L1199.1 320.9 L1199.8 323.5 L1200.6 326.2 L1201.3 328.8 L1202.1 331.4 L1202.8 333.9 L1203.5 336.4 L1204.3 338.9 L1205 341.4 L1205.8 343.8 L1206.5 346.2 L1207.3 348.6 L1208 350.9 L1208.7 353.2 L1209.5 355.4 L1210.2 357.6 L1211 359.8 L1211.7 361.9 L1212.4 364 L1213.2 366 L1213.9 367.9 L1214.7 369.8 L1215.4 371.7 L1216.1 373.5 L1216.9 375.2 L1217.6 376.9 L1218.4 378.5 L1219.1 380.1 L1219.8 381.6 L1220.6 383 L1221.3 384.4 L1222.1 385.7 L1222.8 387 L1223.5 388.2 L1224.3 389.3 L1225 390.3 L1225.8 391.3 L1226.5 392.2 L1227.3 393.1 L1228 393.9 L1228.7 394.6 L1229.5 395.2 L1230.2 395.8 L1231 396.3 L1231.7 396.7 L1232.4 397.1 L1233.2 397.3 L1233.9 397.5 L1234.7 397.7 L1235.4 397.7 L1236.1 397.7 L1236.9 397.7 L1237.6 397.5 L1238.4 397.3 L1239.1 397 L1239.8 396.6 L1240.6 396.2 L1241.3 395.6 L1242.1 395.1 L1242.8 394.4 L1243.5 393.7 L1244.3 392.9 L1245 392 L1245.8 391.1 L1246.5 390.1 L1247.3 389 L1248 387.9 L1248.7 386.7 L1249.5 385.4 L1250.2 384.1 L1251 382.7 L1251.7 381.2 L1252.4 379.7 L1253.2 378.1 L1253.9 376.5 L1254.7 374.8 L1255.4 373 L1256.1 371.2 L1256.9 369.3 L1257.6 367.4 L1258.4 365.5 L1259.1 363.4 L1259.8 361.4 L1260.6 359.3 L1261.3 357.1 L1262.1 354.9 L1262.8 352.6 L1263.5 350.3 L1264.3 348 L1265 345.6 L1265.8 343.2 L1266.5 340.8 L1267.2 338.3 L1268 335.8 L1268.7 333.3 L1269.5 330.7 L1270.2 328.1 L1271 325.5 L1271.7 322.9 L1272.4 320.2 L1273.2 317.5 L1273.9 314.8 L1274.7 312.1 L1275.4 309.4 L1276.1 306.6 L1276.9 303.9 L1277.6 301.1 L1278.4 298.4 L1279.1 295.6 L1279.8 292.8 L1280.6 290 L1281.3 287.3 L1282.1 284.5 L1282.8 281.7 L1283.5 279 L1284.3 276.2 L1285 273.5 L1285.8 270.8 L1286.5 268.1 L1287.2 265.4 L1288 262.7 L1288.7 260.1 L1289.5 257.4 L1290.2 254.8 L1291 252.2 L1291.7 249.7 L1292.4 247.2 L1293.2 244.7 L1293.9 242.2 L1294.7 239.8 L1295.4 237.4 L1296.1 235 L1296.9 232.7 L1297.6 230.4 L1298.4 228.2 L1299.1 226 L1299.8 223.9 L1300.6 221.8 L1301.3 219.7 L1302.1 217.7 L1302.8 215.8 L1303.5 213.9 L1304.3 212 L1305 210.3 L1305.8 208.5 L1306.5 206.8 L1307.2 205.2 L1308 203.7 L1308.7 202.2 L1309.5 200.8 L1310.2 199.4 L1311 198.1 L1311.7 196.8 L1312.4 195.7 L1313.2 194.5 L1313.9 193.5 L1314.7 192.5 L1315.4 191.6 L1316.1 190.8 L1316.9 190 L1317.6 189.3 L1318.4 188.7 L1319.1 188.1 L1319.8 187.6 L1320.6 187.2 L1321.3 186.9 L1322.1 186.6 L1322.8 186.4 L1323.5 186.3 L1324.3 186.3 L1325 186.3 L1325.8 186.4 L1326.5 186.5 L1327.2 186.8 L1328 187.1 L1328.7 187.5 L1329.5 187.9 L1330.2 188.4 L1331 189 L1331.7 189.7 L1332.4 190.5 L1333.2 191.3 L1333.9 192.1 L1334.7 193.1 L1335.4 194.1 L1336.1 195.2 L1336.9 196.3 L1337.6 197.5 L1338.4 198.8 L1339.1 200.2 L1339.8 201.6 L1340.6 203 L1341.3 204.6 L1342.1 206.2 L1342.8 207.8 L1343.5 209.5 L1344.3 211.3 L1345 213.1 L1345.8 215 L1346.5 216.9 L1347.2 218.9 L1348 220.9 L1348.7 223 L1349.5 225.1 L1350.2 227.3 L1350.9 229.5 L1351.7 231.7 L1352.4 234 L1353.2 236.4 L1353.9 238.7 L1354.7 241.2 L1355.4 243.6 L1356.1 246.1 L1356.9 248.6 L1357.6 251.1 L1358.4 253.7 L1359.1 256.3 L1359.8 258.9 L1360.6 261.6 L1361.3 264.2 L1362.1 266.9 L1362.8 269.6 L1363.5 272.3 L1364.3 275.1 L1365 277.8 L1365.8 280.6 L1366.5 283.3 L1367.2 286.1 L1368 288.9 L1368.7 291.6 L1369.5 294.4 L1370.2 297.2 L1370.9 299.9 L1371.7 302.7 L1372.4 305.5 L1373.2 308.2 L1373.9 310.9 L1374.7 313.7 L1375.4 316.4 L1376.1 319.1 L1376.9 321.7 L1377.6 324.4 L1378.4 327 L1379.1 329.6 L1379.8 332.2 L1380.6 334.7 L1381.3 337.3 L1382.1 339.7 L1382.8 342.2 L1383.5 344.6 L1384.3 347 L1385 349.4 L1385.8 351.7 L1386.5 353.9 L1387.2 356.2 L1388 358.3 L1388.7 360.5 L1389.5 362.6 L1390.2 364.6 L1390.9 366.6 L1391.7 368.5 L1392.4 370.4 L1393.2 372.3 L1393.9 374 L1394.7 375.8 L1395.4 377.4 L1396.1 379 L1396.9 380.6 L1397.6 382.1 L1398.4 383.5 L1399.1 384.8 L1399.8 386.1 L1400.6 387.4 L1401.3 388.5 L1402.1 389.6 L1402.8 390.7 L1403.5 391.6 L1404.3 392.5 L1405 393.3 L1405.8 394.1 L1406.5 394.8 L1407.2 395.4 L1408 395.9 L1408.7 396.4 L1409.5 396.8 L1410.2 397.2 L1410.9 397.4 L1411.7 397.6 L1412.4 397.7 L1413.2 397.7 L1413.9 397.7 L1414.7 397.6 L1415.4 397.4 L1416.1 397.2 L1416.9 396.9 L1417.6 396.5 L1418.4 396 L1419.1 395.5 L1419.8 394.9 L1420.6 394.2 L1421.3 393.4 L1422.1 392.6 L1422.8 391.7 L1423.5 390.8 L1424.3 389.7 L1425 388.6 L1425.8 387.5 L1426.5 386.3 L1427.2 385 L1428 383.6 L1428.7 382.2 L1429.5 380.7 L1430.2 379.2 L1430.9 377.6 L1431.7 375.9 L1432.4 374.2 L1433.2 372.4 L1433.9 370.6 L1434.6 368.7 L1435.4 366.8 L1436.1 364.8 L1436.9 362.8 L1437.6 360.7 L1438.4 358.6 L1439.1 356.4 L1439.8 354.2 L1440.6 351.9 L1441.3 349.6 L1442.1 347.2 L1442.8 344.9 L1443.5 342.4 L1444.3 340 L1445 337.5 L1445.8 335 L1446.5 332.4 L1447.2 329.9 L1448 327.3 L1448.7 324.6 L1449.5 322 L1450.2 319.3 L1450.9 316.6 L1451.7 313.9 L1452.4 311.2 L1453.2 308.5 L1453.9 305.7 L1454.6 303 L1455.4 300.2 L1456.1 297.5 L1456.9 294.7 L1457.6 291.9 L1458.4 289.1 L1459.1 286.4 L1459.8 283.6 L1460.6 280.8 L1461.3 278.1 L1462.1 275.3 L1462.8 272.6 L1463.5 269.9 L1464.3 267.2 L1465 264.5 L1465.8 261.8 L1466.5 259.2 L1467.2 256.6 L1468 254 L1468.7 251.4 L1469.5 248.9 L1470.2 246.3 L1470.9 243.9 L1471.7 241.4 L1472.4 239 L1473.2 236.6 L1473.9 234.3 L1474.6 232 L1475.4 229.7 L1476.1 227.5 L1476.9 225.3 L1477.6 223.2 L1478.4 221.1 L1479.1 219.1 L1479.8 217.1 L1480.6 215.2 L1481.3 213.3 L1482.1 211.4 L1482.8 209.7 L1483.5 208 L1484.3 206.3 L1485 204.7 L1485.8 203.2 L1486.5 201.7 L1487.2 200.3 L1488 198.9 L1488.7 197.7 L1489.5 196.4 L1490.2 195.3 L1490.9 194.2 L1491.7 193.2 L1492.4 192.2 L1493.2 191.3 L1493.9 190.5 L1494.6 189.8 L1495.4 189.1 L1496.1 188.5 L1496.9 188 L1497.6 187.5 L1498.4 187.1 L1499.1 186.8 L1499.8 186.6 L1500.6 186.4 L1501.3 186.3 L1502.1 186.3 L1502.8 186.3 L1503.5 186.4 L1504.3 186.6 L1505 186.9 L1505.8 187.2 L1506.5 187.6 L1507.2 188.1 L1508 188.6 L1508.7 189.3 L1509.5 189.9 L1510.2 190.7 L1510.9 191.5 L1511.7 192.4 L1512.4 193.4 L1513.2 194.4 L1513.9 195.5 L1514.6 196.7 L1515.4 197.9 L1516.1 199.2 L1516.9 200.6 L1517.6 202 L1518.3 203.5 L1519.1 205.1 L1519.8 206.7 L1520.6 208.4 L1521.3 210.1 L1522.1 211.9 L1522.8 213.7 L1523.5 215.6 L1524.3 217.5 L1525 219.5 L1525.8 221.6 L1526.5 223.7 L1527.2 225.8 L1528 228 L1528.7 230.2 L1529.5 232.5 L1530.2 234.8 L1530.9 237.1 L1531.7 239.5 L1532.4 242 L1533.2 244.4 L1533.9 246.9 L1534.6 249.4 L1535.4 252 L1536.1 254.6 L1536.9 257.2 L1537.6 259.8 L1538.3 262.4 L1539.1 265.1 L1539.8 267.8 L1540.6 270.5 L1541.3 273.2 L1542.1 276 L1542.8 278.7 L1543.5 281.5 L1544.3 284.2 L1545 287 L1545.8 289.8 L1546.5 292.5 L1547.2 295.3 L1548 298.1 L1548.7 300.8 L1549.5 303.6 L1550.2 306.4 L1550.9 309.1 L1551.7 311.8 L1552.4 314.5 L1553.2 317.2 L1553.9 319.9 L1554.6 322.6 L1555.4 325.2 L1556.1 327.9 L1556.9 330.4 L1557.6 333 L1558.3 335.6 L1559.1 338.1 L1559.8 340.5 L1560.6 343 L1561.3 345.4 L1562.1 347.8 L1562.8 350.1 L1563.5 352.4 L1564.3 354.7 L1565 356.9 L1565.8 359 L1566.5 361.2 L1567.2 363.2 L1568 365.3 L1568.7 367.2 L1569.5 369.2 L1570.2 371 L1570.9 372.8 L1571.7 374.6 L1572.4 376.3 L1573.2 377.9 L1573.9 379.5 L1574.6 381.1 L1575.4 382.5 L1576.1 383.9 L1576.9 385.3 L1577.6 386.5 L1578.3 387.7 L1579.1 388.9 L1579.8 390 L1580.6 391 L1581.3 391.9 L1582.1 392.8 L1582.8 393.6 L1583.5 394.3 L1584.3 395 L1585 395.6 L1585.8 396.1 L1586.5 396.6 L1587.2 396.9 L1588 397.2 L1588.7 397.5 L1589.5 397.6 L1590.2 397.7 L1590.9 397.7 L1591.7 397.7 L1592.4 397.6 L1593.2 397.4 L1593.9 397.1 L1594.6 396.7 L1595.4 396.3 L1596.1 395.8 L1596.9 395.3 L1597.6 394.6 L1598.3 393.9 L1599.1 393.2 L1599.8 392.3 L1600.6 391.4 L1601.3 390.4 L1602.1 389.4 L1602.8 388.3 L1603.5 387.1 L1604.3 385.8 L1605 384.5 L1605.8 383.2 L1606.5 381.7 L1607.2 380.2 L1608 378.7 L1608.7 377 L1609.5 375.4 L1610.2 373.6 L1610.9 371.8 L1611.7 370 L1612.4 368.1 L1613.2 366.2 L1613.9 364.2 L1614.6 362.1 L1615.4 360 L1616.1 357.9 L1616.9 355.7 L1617.6 353.4 L1618.3 351.2 L1619.1 348.8 L1619.8 346.5 L1620.6 344.1 L1621.3 341.7 L1622 339.2 L1622.8 336.7 L1623.5 334.2 L1624.3 331.6 L1625 329 L1625.8 326.4 L1626.5 323.8 L1627.2 321.1 L1628 318.4 L1628.7 315.8 L1629.5 313 L1630.2 310.3 L1630.9 307.6 L1631.7 304.8 L1632.4 302.1 L1633.2 299.3 L1633.9 296.6 L1634.6 293.8 L1635.4 291 L1636.1 288.2 L1636.9 285.5 L1637.6 282.7 L1638.3 279.9 L1639.1 277.2 L1639.8 274.5 L1640.6 271.7 L1641.3 269 L1642 266.3 L1642.8 263.6 L1643.5 261 L1644.3 258.3 L1645 255.7 L1645.8 253.1 L1646.5 250.6 L1647.2 248 L1648 245.5 L1648.7 243.1 L1649.5 240.6 L1650.2 238.2 L1650.9 235.8 L1651.7 233.5 L1652.4 231.2 L1653.2 229 L1653.9 226.8 L1654.6 224.6 L1655.4 222.5 L1656.1 220.4 L1656.9 218.4 L1657.6 216.4 L1658.3 214.5 L1659.1 212.7 L1659.8 210.9 L1660.6 209.1 L1661.3 207.4 L1662 205.8 L1662.8 204.2 L1663.5 202.7 L1664.3 201.2 L1665 199.9 L1665.8 198.5 L1666.5 197.3 L1667.2 196.1 L1668 194.9 L1668.7 193.9 L1669.5 192.9 L1670.2 191.9 L1670.9 191.1 L1671.7 190.3 L1672.4 189.6 L1673.2 188.9 L1673.9 188.3 L1674.6 187.8 L1675.4 187.4 L1676.1 187 L1676.9 186.7 L1677.6 186.5 L1678.3 186.3 L1679.1 186.3 L1679.8 186.3 L1680.6 186.3" stroke="#EDB120" stroke-width="11.4" fill="none" stroke-linejoin="round" stroke-linecap="butt"/>
</g>
<g shape-rendering="crispEdges" stroke-width="1">
<line x1="343.5" y1="585.5" x2="343.5" y2="985.5" stroke="#E1E1E1"/>
<line x1="521.5" y1="585.5" x2="521.5" y2="985.5" stroke="#E1E1E1"/>
<line x1="700.5" y1="585.5" x2="700.5" y2="985.5" stroke="#E1E1E1"/>
<line x1="878.5" y1="585.5" x2="878.5" y2="985.5" stroke="#E1E1E1"/>
<line x1="1057.5" y1="585.5" x2="1057.5" y2="985.5" stroke="#E1E1E1"/>
<line x1="1236.5" y1="585.5" x2="1236.5" y2="985.5" stroke="#E1E1E1"/>
<line x1="1414.5" y1="585.5" x2="1414.5" y2="985.5" stroke="#E1E1E1"/>
<line x1="1593.5" y1="585.5" x2="1593.5" y2="985.5" stroke="#E1E1E1"/>
<line x1="164.5" y1="885.5" x2="1682.5" y2="885.5" stroke="#E1E1E1"/>
<line x1="164.5" y1="785.5" x2="1682.5" y2="785.5" stroke="#E1E1E1"/>
<line x1="164.5" y1="685.5" x2="1682.5" y2="685.5" stroke="#E1E1E1"/>
</g>
<g shape-rendering="crispEdges" stroke="#262626" stroke-width="1" fill="none">
<line x1="343.5" y1="985.5" x2="343.5" y2="969.5"/><line x1="343.5" y1="585.5" x2="343.5" y2="601.5"/>
<line x1="521.5" y1="985.5" x2="521.5" y2="969.5"/><line x1="521.5" y1="585.5" x2="521.5" y2="601.5"/>
<line x1="700.5" y1="985.5" x2="700.5" y2="969.5"/><line x1="700.5" y1="585.5" x2="700.5" y2="601.5"/>
<line x1="878.5" y1="985.5" x2="878.5" y2="969.5"/><line x1="878.5" y1="585.5" x2="878.5" y2="601.5"/>
<line x1="1057.5" y1="985.5" x2="1057.5" y2="969.5"/><line x1="1057.5" y1="585.5" x2="1057.5" y2="601.5"/>
<line x1="1236.5" y1="985.5" x2="1236.5" y2="969.5"/><line x1="1236.5" y1="585.5" x2="1236.5" y2="601.5"/>
<line x1="1414.5" y1="985.5" x2="1414.5" y2="969.5"/><line x1="1414.5" y1="585.5" x2="1414.5" y2="601.5"/>
<line x1="1593.5" y1="985.5" x2="1593.5" y2="969.5"/><line x1="1593.5" y1="585.5" x2="1593.5" y2="601.5"/>
<line x1="164.5" y1="885.5" x2="180.5" y2="885.5"/><line x1="1682.5" y1="885.5" x2="1666.5" y2="885.5"/>
<line x1="164.5" y1="785.5" x2="180.5" y2="785.5"/><line x1="1682.5" y1="785.5" x2="1666.5" y2="785.5"/>
<line x1="164.5" y1="685.5" x2="180.5" y2="685.5"/><line x1="1682.5" y1="685.5" x2="1666.5" y2="685.5"/>
<rect x="164.5" y="585.5" width="1518.0" height="400.0"/>
</g>
<g shape-rendering="crispEdges">
<path d="M164.5 885.5 L343.1 885.5 L343.1 654.3 L345.3 653.4 L347.6 652.5 L349.8 651.6 L352 650.8 L354.3 649.9 L356.5 649.1 L358.8 648.3 L361 647.6 L363.2 646.8 L365.5 646.1 L367.7 645.4 L369.9 644.8 L372.2 644.1 L374.4 643.5 L376.7 643 L378.9 642.4 L381.1 641.9 L383.4 641.4 L385.6 640.9 L387.8 640.4 L390.1 640 L392.3 639.6 L394.6 639.2 L396.8 638.8 L399 638.5 L401.3 638.2 L403.5 637.9 L405.7 637.7 L408 637.5 L410.2 637.2 L412.5 637.1 L414.7 636.9 L416.9 636.8 L419.2 636.7 L421.4 636.6 L423.7 636.5 L425.9 636.5 L428.1 636.5 L430.4 636.5 L432.6 636.6 L434.8 636.6 L437.1 636.7 L439.3 636.8 L441.6 636.9 L443.8 637.1 L446 637.3 L448.3 637.5 L450.5 637.7 L452.7 637.9 L455 638.2 L457.2 638.5 L459.5 638.8 L461.7 639.1 L463.9 639.5 L466.2 639.9 L468.4 640.3 L470.6 640.7 L472.9 641.1 L475.1 641.6 L477.4 642 L479.6 642.5 L481.8 643 L484.1 643.6 L486.3 644.1 L488.5 644.7 L490.8 645.3 L493 645.9 L495.3 646.5 L497.5 647.1 L499.7 647.8 L502 648.5 L504.2 649.2 L506.5 649.9 L508.7 650.6 L510.9 651.3 L513.2 652.1 L515.4 652.9 L517.6 653.6 L519.9 654.4 L522.1 655.3 L524.4 656.1 L526.6 656.9 L528.8 657.8 L531.1 658.7 L533.3 659.5 L535.5 660.4 L537.8 661.3 L540 662.3 L542.3 663.2 L544.5 664.1 L546.7 665.1 L549 666.1 L551.2 667 L553.4 668 L555.7 669 L557.9 670 L560.2 671.1 L562.4 672.1 L564.6 673.1 L566.9 674.2 L569.1 675.2 L571.4 676.3 L573.6 677.4 L575.8 678.5 L578.1 679.5 L580.3 680.6 L582.5 681.7 L584.8 682.9 L587 684 L589.3 685.1 L591.5 686.2 L593.7 687.4 L596 688.5 L598.2 689.7 L600.4 690.9 L602.7 692 L604.9 693.2 L607.2 694.4 L609.4 695.5 L611.6 696.7 L613.9 697.9 L616.1 699.1 L618.3 700.3 L620.6 701.5 L622.8 702.7 L625.1 703.9 L627.3 705.2 L629.5 706.4 L631.8 707.6 L634 708.8 L636.2 710.1 L638.5 711.3 L640.7 712.5 L643 713.8 L645.2 715 L647.4 716.2 L649.7 717.5 L651.9 718.7 L654.2 720 L656.4 721.2 L658.6 722.5 L660.9 723.7 L663.1 725 L665.3 726.2 L667.6 727.5 L669.8 728.7 L672.1 730 L674.3 731.2 L676.5 732.5 L678.8 733.8 L681 735 L683.2 736.3 L685.5 737.5 L687.7 738.8 L690 740 L692.2 741.3 L694.4 742.5 L696.7 743.8 L698.9 745 L701.1 746.3 L703.4 747.5 L705.6 748.8 L707.9 750 L710.1 751.3 L712.3 752.5 L714.6 753.8 L716.8 755 L719.1 756.3 L721.3 757.5 L723.5 758.7 L725.8 760 L728 761.2 L730.2 762.4 L732.5 763.7 L734.7 764.9 L737 766.1 L739.2 767.3 L741.4 768.6 L743.7 769.8 L745.9 771 L748.1 772.2 L750.4 773.4 L752.6 774.6 L754.9 775.8 L757.1 777 L759.3 778.2 L761.6 779.4 L763.8 780.6 L766 781.8 L768.3 783 L770.5 784.2 L772.8 785.4 L775 786.5 L777.2 787.7 L779.5 788.9 L781.7 790 L783.9 791.2 L786.2 792.4 L788.4 793.5 L790.7 794.7 L792.9 795.8 L795.1 797 L797.4 798.1 L799.6 799.2 L801.9 800.4 L804.1 801.5 L806.3 802.6 L808.6 803.7 L810.8 804.9 L813 806 L815.3 807.1 L817.5 808.2 L819.8 809.3 L822 810.4 L824.2 811.5 L826.5 812.6 L828.7 813.7 L830.9 814.7 L833.2 815.8 L835.4 816.9 L837.7 817.9 L839.9 819 L842.1 820.1 L844.4 821.1 L846.6 822.2 L848.8 823.2 L851.1 824.3 L853.3 825.3 L855.6 826.3 L857.8 827.3 L860 828.4 L862.3 829.4 L864.5 830.4 L866.7 831.4 L869 832.4 L871.2 833.4 L873.5 834.4 L875.7 835.4 L877.9 836.4 L880.2 837.4 L882.4 838.3 L884.7 839.3 L886.9 840.3 L889.1 841.2 L891.4 842.2 L893.6 843.1 L895.8 844.1 L898.1 845 L900.3 845.9 L902.6 846.9 L904.8 847.8 L907 848.7 L909.3 849.6 L911.5 850.5 L913.7 851.4 L916 852.3 L918.2 853.2 L920.5 854.1 L922.7 855 L924.9 855.9 L927.2 856.8 L929.4 857.6 L931.6 858.5 L933.9 859.4 L936.1 860.2 L938.4 861.1 L940.6 861.9 L942.8 862.7 L945.1 863.6 L947.3 864.4 L949.6 865.2 L951.8 866 L954 866.8 L956.3 867.7 L958.5 868.5 L960.7 869.3 L963 870 L965.2 870.8 L967.5 871.6 L969.7 872.4 L971.9 873.1 L974.2 873.9 L976.4 874.7 L978.6 875.4 L980.9 876.2 L983.1 876.9 L985.4 877.6 L987.6 878.4 L989.8 879.1 L992.1 879.8 L994.3 880.5 L996.5 881.3 L998.8 882 L1001 882.7 L1003.3 883.4 L1005.5 884 L1007.7 884.7 L1010 885.4 L1012.2 886.1 L1014.4 886.7 L1016.7 887.4 L1018.9 888.1 L1021.2 888.7 L1023.4 889.4 L1025.6 890 L1027.9 890.6 L1030.1 891.3 L1032.4 891.9 L1034.6 892.5 L1036.8 893.1 L1039.1 893.7 L1041.3 894.3 L1043.5 894.9 L1045.8 895.5 L1048 896.1 L1050.3 896.7 L1052.5 897.2 L1054.7 897.8 L1057 898.4 L1059.2 898.9 L1061.4 899.5 L1063.7 900 L1065.9 900.6 L1068.2 901.1 L1070.4 901.7 L1072.6 902.2 L1074.9 902.7 L1077.1 903.2 L1079.3 903.7 L1081.6 904.2 L1083.8 904.7 L1086.1 905.2 L1088.3 905.7 L1090.5 906.2 L1092.8 906.7 L1095 907.2 L1097.2 907.6 L1099.5 908.1 L1101.7 908.5 L1104 909 L1106.2 909.4 L1108.4 909.9 L1110.7 910.3 L1112.9 910.8 L1115.2 911.2 L1117.4 911.6 L1119.6 912 L1121.9 912.4 L1124.1 912.8 L1126.3 913.2 L1128.6 913.6 L1130.8 914 L1133.1 914.4 L1135.3 914.8 L1137.5 915.2 L1139.8 915.5 L1142 915.9 L1144.2 916.3 L1146.5 916.6 L1148.7 917 L1151 917.3 L1153.2 917.7 L1155.4 918 L1157.7 918.3 L1159.9 918.6 L1162.1 919 L1164.4 919.3 L1166.6 919.6 L1168.9 919.9 L1171.1 920.2 L1173.3 920.5 L1175.6 920.8 L1177.8 921.1 L1180.1 921.4 L1182.3 921.6 L1184.5 921.9 L1186.8 922.2 L1189 922.4 L1191.2 922.7 L1193.5 922.9 L1195.7 923.2 L1198 923.4 L1200.2 923.7 L1202.4 923.9 L1204.7 924.1 L1206.9 924.4 L1209.1 924.6 L1211.4 924.8 L1213.6 925 L1215.9 925.2 L1218.1 925.4 L1220.3 925.6 L1222.6 925.8 L1224.8 926 L1227 926.2 L1229.3 926.4 L1231.5 926.6 L1233.8 926.7 L1236 926.9 L1238.2 927.1 L1240.5 927.2 L1242.7 927.4 L1244.9 927.5 L1247.2 927.7 L1249.4 927.8 L1251.7 928 L1253.9 928.1 L1256.1 928.2 L1258.4 928.3 L1260.6 928.5 L1262.9 928.6 L1265.1 928.7 L1267.3 928.8 L1269.6 928.9 L1271.8 929 L1274 929.1 L1276.3 929.2 L1278.5 929.3 L1280.8 929.4 L1283 929.5 L1285.2 929.6 L1287.5 929.6 L1289.7 929.7 L1291.9 929.8 L1294.2 929.8 L1296.4 929.9 L1298.7 930 L1300.9 930 L1303.1 930.1 L1305.4 930.1 L1307.6 930.1 L1309.8 930.2 L1312.1 930.2 L1314.3 930.3 L1316.6 930.3 L1318.8 930.3 L1321 930.3 L1323.3 930.3 L1325.5 930.4 L1327.8 930.4 L1330 930.4 L1332.2 930.4 L1334.5 930.4 L1336.7 930.4 L1338.9 930.4 L1341.2 930.4 L1343.4 930.4 L1345.7 930.4 L1347.9 930.3 L1350.1 930.3 L1352.4 930.3 L1354.6 930.3 L1356.8 930.3 L1359.1 930.2 L1361.3 930.2 L1363.6 930.2 L1365.8 930.1 L1368 930.1 L1370.3 930 L1372.5 930 L1374.7 929.9 L1377 929.9 L1379.2 929.8 L1381.5 929.8 L1383.7 929.7 L1385.9 929.6 L1388.2 929.6 L1390.4 929.5 L1392.6 929.4 L1394.9 929.4 L1397.1 929.3 L1399.4 929.2 L1401.6 929.1 L1403.8 929 L1406.1 928.9 L1408.3 928.9 L1410.6 928.8 L1412.8 928.7 L1415 928.6 L1417.3 928.5 L1419.5 928.4 L1421.7 928.3 L1424 928.2 L1426.2 928.1 L1428.5 928 L1430.7 927.9 L1432.9 927.7 L1435.2 927.6 L1437.4 927.5 L1439.6 927.4 L1441.9 927.3 L1444.1 927.2 L1446.4 927 L1448.6 926.9 L1450.8 926.8 L1453.1 926.6 L1455.3 926.5 L1457.5 926.4 L1459.8 926.2 L1462 926.1 L1464.3 926 L1466.5 925.8 L1468.7 925.7 L1471 925.5 L1473.2 925.4 L1475.4 925.2 L1477.7 925.1 L1479.9 925 L1482.2 924.8 L1484.4 924.6 L1486.6 924.5 L1488.9 924.3 L1491.1 924.2 L1493.4 924 L1495.6 923.9 L1497.8 923.7 L1500.1 923.5 L1502.3 923.4 L1504.5 923.2 L1506.8 923 L1509 922.9 L1511.3 922.7 L1513.5 922.5 L1515.7 922.4 L1518 922.2 L1520.2 922 L1522.4 921.8 L1524.7 921.7 L1526.9 921.5 L1529.2 921.3 L1531.4 921.1 L1533.6 921 L1535.9 920.8 L1538.1 920.6 L1540.3 920.4 L1542.6 920.2 L1544.8 920 L1547.1 919.9 L1549.3 919.7 L1551.5 919.5 L1553.8 919.3 L1556 919.1 L1558.3 918.9 L1560.5 918.7 L1562.7 918.5 L1565 918.3 L1567.2 918.2 L1569.4 918 L1571.7 917.8 L1573.9 917.6 L1576.2 917.4 L1578.4 917.2 L1580.6 917 L1582.9 916.8 L1585.1 916.6 L1587.3 916.4 L1589.6 916.2 L1591.8 916 L1594.1 915.8 L1596.3 915.6 L1598.5 915.4 L1600.8 915.2 L1603 915 L1605.2 914.8 L1607.5 914.6 L1609.7 914.4 L1612 914.2 L1614.2 914 L1616.4 913.8 L1618.7 913.6 L1620.9 913.4 L1623.1 913.2 L1625.4 913 L1627.6 912.8 L1629.9 912.6 L1632.1 912.4 L1634.3 912.2 L1636.6 912 L1638.8 911.8 L1641.1 911.5 L1643.3 911.3 L1645.5 911.1 L1647.8 910.9 L1650 910.7 L1652.2 910.5 L1654.5 910.3 L1656.7 910.1 L1659 909.9 L1661.2 909.7 L1663.4 909.5 L1665.7 909.3 L1667.9 909.1 L1670.1 908.9 L1672.4 908.7 L1674.6 908.5 L1676.9 908.3 L1679.1 908.1 L1681.3 907.9 L1683.6 907.7" stroke="#0072BD" stroke-width="11.4" fill="none" stroke-linejoin="round" stroke-linecap="butt"/>
<path d="M164.5 885.5 L343.1 885.5 L343.1 828.5 L345.3 825.2 L347.6 821.9 L349.8 818.7 L352 815.5 L354.3 812.3 L356.5 809.1 L358.8 805.9 L361 802.8 L363.2 799.7 L365.5 796.6 L367.7 793.5 L369.9 790.5 L372.2 787.5 L374.4 784.5 L376.7 781.5 L378.9 778.6 L381.1 775.6 L383.4 772.7 L385.6 769.8 L387.8 767 L390.1 764.2 L392.3 761.4 L394.6 758.6 L396.8 755.8 L399 753.1 L401.3 750.4 L403.5 747.7 L405.7 745.1 L408 742.5 L410.2 739.9 L412.5 737.3 L414.7 734.8 L416.9 732.3 L419.2 729.8 L421.4 727.4 L423.7 725 L425.9 722.6 L428.1 720.2 L430.4 717.9 L432.6 715.7 L434.8 713.4 L437.1 711.2 L439.3 709.1 L441.6 706.9 L443.8 704.9 L446 702.8 L448.3 700.8 L450.5 698.8 L452.7 696.9 L455 695 L457.2 693.1 L459.5 691.3 L461.7 689.5 L463.9 687.8 L466.2 686.1 L468.4 684.5 L470.6 682.9 L472.9 681.3 L475.1 679.8 L477.4 678.3 L479.6 676.9 L481.8 675.5 L484.1 674.1 L486.3 672.8 L488.5 671.6 L490.8 670.4 L493 669.2 L495.3 668.1 L497.5 667 L499.7 666 L502 665 L504.2 664.1 L506.5 663.2 L508.7 662.4 L510.9 661.6 L513.2 660.8 L515.4 660.1 L517.6 659.5 L519.9 658.9 L522.1 658.3 L524.4 657.8 L526.6 657.3 L528.8 656.9 L531.1 656.5 L533.3 656.1 L535.5 655.9 L537.8 655.6 L540 655.4 L542.3 655.2 L544.5 655.1 L546.7 655.1 L549 655 L551.2 655 L553.4 655.1 L555.7 655.2 L557.9 655.4 L560.2 655.5 L562.4 655.8 L564.6 656 L566.9 656.3 L569.1 656.7 L571.4 657.1 L573.6 657.5 L575.8 658 L578.1 658.5 L580.3 659 L582.5 659.6 L584.8 660.2 L587 660.9 L589.3 661.6 L591.5 662.3 L593.7 663.1 L596 663.9 L598.2 664.7 L600.4 665.6 L602.7 666.5 L604.9 667.4 L607.2 668.4 L609.4 669.4 L611.6 670.4 L613.9 671.4 L616.1 672.5 L618.3 673.6 L620.6 674.8 L622.8 676 L625.1 677.1 L627.3 678.4 L629.5 679.6 L631.8 680.9 L634 682.2 L636.2 683.5 L638.5 684.9 L640.7 686.2 L643 687.6 L645.2 689 L647.4 690.5 L649.7 691.9 L651.9 693.4 L654.2 694.9 L656.4 696.4 L658.6 697.9 L660.9 699.5 L663.1 701 L665.3 702.6 L667.6 704.2 L669.8 705.8 L672.1 707.5 L674.3 709.1 L676.5 710.7 L678.8 712.4 L681 714.1 L683.2 715.8 L685.5 717.5 L687.7 719.2 L690 720.9 L692.2 722.6 L694.4 724.4 L696.7 726.1 L698.9 727.9 L701.1 729.6 L703.4 731.4 L705.6 733.2 L707.9 735 L710.1 736.7 L712.3 738.5 L714.6 740.3 L716.8 742.1 L719.1 743.9 L721.3 745.7 L723.5 747.5 L725.8 749.3 L728 751.1 L730.2 752.9 L732.5 754.7 L734.7 756.6 L737 758.4 L739.2 760.2 L741.4 762 L743.7 763.8 L745.9 765.6 L748.1 767.4 L750.4 769.2 L752.6 771 L754.9 772.7 L757.1 774.5 L759.3 776.3 L761.6 778.1 L763.8 779.9 L766 781.6 L768.3 783.4 L770.5 785.1 L772.8 786.9 L775 788.6 L777.2 790.3 L779.5 792.1 L781.7 793.8 L783.9 795.5 L786.2 797.2 L788.4 798.9 L790.7 800.6 L792.9 802.2 L795.1 803.9 L797.4 805.6 L799.6 807.2 L801.9 808.8 L804.1 810.5 L806.3 812.1 L808.6 813.7 L810.8 815.3 L813 816.9 L815.3 818.4 L817.5 820 L819.8 821.6 L822 823.1 L824.2 824.6 L826.5 826.1 L828.7 827.6 L830.9 829.1 L833.2 830.6 L835.4 832.1 L837.7 833.5 L839.9 835 L842.1 836.4 L844.4 837.8 L846.6 839.2 L848.8 840.6 L851.1 842 L853.3 843.3 L855.6 844.7 L857.8 846 L860 847.3 L862.3 848.6 L864.5 849.9 L866.7 851.2 L869 852.5 L871.2 853.7 L873.5 854.9 L875.7 856.2 L877.9 857.4 L880.2 858.6 L882.4 859.7 L884.7 860.9 L886.9 862.1 L889.1 863.2 L891.4 864.3 L893.6 865.4 L895.8 866.5 L898.1 867.6 L900.3 868.7 L902.6 869.7 L904.8 870.8 L907 871.8 L909.3 872.8 L911.5 873.8 L913.7 874.8 L916 875.7 L918.2 876.7 L920.5 877.6 L922.7 878.6 L924.9 879.5 L927.2 880.4 L929.4 881.2 L931.6 882.1 L933.9 883 L936.1 883.8 L938.4 884.6 L940.6 885.5 L942.8 886.3 L945.1 887 L947.3 887.8 L949.6 888.6 L951.8 889.3 L954 890.1 L956.3 890.8 L958.5 891.5 L960.7 892.2 L963 892.9 L965.2 893.5 L967.5 894.2 L969.7 894.8 L971.9 895.5 L974.2 896.1 L976.4 896.7 L978.6 897.3 L980.9 897.9 L983.1 898.4 L985.4 899 L987.6 899.5 L989.8 900.1 L992.1 900.6 L994.3 901.1 L996.5 901.6 L998.8 902.1 L1001 902.5 L1003.3 903 L1005.5 903.4 L1007.7 903.9 L1010 904.3 L1012.2 904.7 L1014.4 905.1 L1016.7 905.5 L1018.9 905.9 L1021.2 906.3 L1023.4 906.7 L1025.6 907 L1027.9 907.3 L1030.1 907.7 L1032.4 908 L1034.6 908.3 L1036.8 908.6 L1039.1 908.9 L1041.3 909.2 L1043.5 909.5 L1045.8 909.7 L1048 910 L1050.3 910.2 L1052.5 910.5 L1054.7 910.7 L1057 910.9 L1059.2 911.1 L1061.4 911.3 L1063.7 911.5 L1065.9 911.7 L1068.2 911.9 L1070.4 912 L1072.6 912.2 L1074.9 912.3 L1077.1 912.5 L1079.3 912.6 L1081.6 912.7 L1083.8 912.9 L1086.1 913 L1088.3 913.1 L1090.5 913.2 L1092.8 913.3 L1095 913.3 L1097.2 913.4 L1099.5 913.5 L1101.7 913.6 L1104 913.6 L1106.2 913.7 L1108.4 913.7 L1110.7 913.7 L1112.9 913.8 L1115.2 913.8 L1117.4 913.8 L1119.6 913.8 L1121.9 913.8 L1124.1 913.8 L1126.3 913.8 L1128.6 913.8 L1130.8 913.8 L1133.1 913.7 L1135.3 913.7 L1137.5 913.7 L1139.8 913.6 L1142 913.6 L1144.2 913.5 L1146.5 913.5 L1148.7 913.4 L1151 913.4 L1153.2 913.3 L1155.4 913.2 L1157.7 913.1 L1159.9 913.1 L1162.1 913 L1164.4 912.9 L1166.6 912.8 L1168.9 912.7 L1171.1 912.6 L1173.3 912.5 L1175.6 912.4 L1177.8 912.3 L1180.1 912.1 L1182.3 912 L1184.5 911.9 L1186.8 911.8 L1189 911.6 L1191.2 911.5 L1193.5 911.4 L1195.7 911.2 L1198 911.1 L1200.2 910.9 L1202.4 910.8 L1204.7 910.6 L1206.9 910.5 L1209.1 910.3 L1211.4 910.2 L1213.6 910 L1215.9 909.8 L1218.1 909.7 L1220.3 909.5 L1222.6 909.3 L1224.8 909.2 L1227 909 L1229.3 908.8 L1231.5 908.6 L1233.8 908.5 L1236 908.3 L1238.2 908.1 L1240.5 907.9 L1242.7 907.7 L1244.9 907.5 L1247.2 907.3 L1249.4 907.2 L1251.7 907 L1253.9 906.8 L1256.1 906.6 L1258.4 906.4 L1260.6 906.2 L1262.9 906 L1265.1 905.8 L1267.3 905.6 L1269.6 905.4 L1271.8 905.2 L1274 905 L1276.3 904.8 L1278.5 904.6 L1280.8 904.4 L1283 904.2 L1285.2 904 L1287.5 903.8 L1289.7 903.6 L1291.9 903.3 L1294.2 903.1 L1296.4 902.9 L1298.7 902.7 L1300.9 902.5 L1303.1 902.3 L1305.4 902.1 L1307.6 901.9 L1309.8 901.7 L1312.1 901.5 L1314.3 901.3 L1316.6 901.1 L1318.8 900.9 L1321 900.7 L1323.3 900.5 L1325.5 900.3 L1327.8 900.1 L1330 899.8 L1332.2 899.6 L1334.5 899.4 L1336.7 899.2 L1338.9 899 L1341.2 898.8 L1343.4 898.6 L1345.7 898.4 L1347.9 898.2 L1350.1 898 L1352.4 897.8 L1354.6 897.6 L1356.8 897.4 L1359.1 897.2 L1361.3 897 L1363.6 896.9 L1365.8 896.7 L1368 896.5 L1370.3 896.3 L1372.5 896.1 L1374.7 895.9 L1377 895.7 L1379.2 895.5 L1381.5 895.3 L1383.7 895.1 L1385.9 895 L1388.2 894.8 L1390.4 894.6 L1392.6 894.4 L1394.9 894.2 L1397.1 894 L1399.4 893.9 L1401.6 893.7 L1403.8 893.5 L1406.1 893.3 L1408.3 893.2 L1410.6 893 L1412.8 892.8 L1415 892.7 L1417.3 892.5 L1419.5 892.3 L1421.7 892.2 L1424 892 L1426.2 891.8 L1428.5 891.7 L1430.7 891.5 L1432.9 891.3 L1435.2 891.2 L1437.4 891 L1439.6 890.9 L1441.9 890.7 L1444.1 890.6 L1446.4 890.4 L1448.6 890.3 L1450.8 890.1 L1453.1 890 L1455.3 889.8 L1457.5 889.7 L1459.8 889.6 L1462 889.4 L1464.3 889.3 L1466.5 889.1 L1468.7 889 L1471 888.9 L1473.2 888.7 L1475.4 888.6 L1477.7 888.5 L1479.9 888.3 L1482.2 888.2 L1484.4 888.1 L1486.6 888 L1488.9 887.8 L1491.1 887.7 L1493.4 887.6 L1495.6 887.5 L1497.8 887.4 L1500.1 887.3 L1502.3 887.1 L1504.5 887 L1506.8 886.9 L1509 886.8 L1511.3 886.7 L1513.5 886.6 L1515.7 886.5 L1518 886.4 L1520.2 886.3 L1522.4 886.2 L1524.7 886.1 L1526.9 886 L1529.2 885.9 L1531.4 885.8 L1533.6 885.7 L1535.9 885.6 L1538.1 885.5 L1540.3 885.4 L1542.6 885.4 L1544.8 885.3 L1547.1 885.2 L1549.3 885.1 L1551.5 885 L1553.8 885 L1556 884.9 L1558.3 884.8 L1560.5 884.7 L1562.7 884.6 L1565 884.6 L1567.2 884.5 L1569.4 884.4 L1571.7 884.4 L1573.9 884.3 L1576.2 884.2 L1578.4 884.2 L1580.6 884.1 L1582.9 884 L1585.1 884 L1587.3 883.9 L1589.6 883.9 L1591.8 883.8 L1594.1 883.8 L1596.3 883.7 L1598.5 883.6 L1600.8 883.6 L1603 883.5 L1605.2 883.5 L1607.5 883.4 L1609.7 883.4 L1612 883.4 L1614.2 883.3 L1616.4 883.3 L1618.7 883.2 L1620.9 883.2 L1623.1 883.1 L1625.4 883.1 L1627.6 883.1 L1629.9 883 L1632.1 883 L1634.3 883 L1636.6 882.9 L1638.8 882.9 L1641.1 882.9 L1643.3 882.8 L1645.5 882.8 L1647.8 882.8 L1650 882.8 L1652.2 882.7 L1654.5 882.7 L1656.7 882.7 L1659 882.7 L1661.2 882.6 L1663.4 882.6 L1665.7 882.6 L1667.9 882.6 L1670.1 882.6 L1672.4 882.5 L1674.6 882.5 L1676.9 882.5 L1679.1 882.5 L1681.3 882.5 L1683.6 882.5" stroke="#D95319" stroke-width="11.4" fill="none" stroke-linejoin="round" stroke-linecap="butt"/>
<path d="M164.5 885.5 L343.1 885.5 L343.1 885.5 L345.3 877.2 L347.6 869 L349.8 860.8 L352 852.8 L354.3 844.7 L356.5 836.6 L358.8 828.4 L361 820.2 L363.2 811.9 L365.5 803.6 L367.7 795.2 L369.9 786.8 L372.2 778.4 L374.4 770.1 L376.7 761.7 L378.9 753.4 L381.1 745.1 L383.4 737 L385.6 728.9 L387.8 721 L390.1 713.3 L392.3 705.7 L394.6 698.3 L396.8 691.1 L399 684.1 L401.3 677.4 L403.5 670.9 L405.7 664.7 L408 658.7 L410.2 653 L412.5 647.5 L414.7 642.4 L416.9 637.5 L419.2 632.9 L421.4 628.6 L423.7 624.6 L425.9 620.9 L428.1 617.4 L430.4 614.2 L432.6 611.3 L434.8 608.6 L437.1 606.2 L439.3 604 L441.6 602.1 L443.8 600.5 L446 599 L448.3 597.8 L450.5 596.8 L452.7 596 L455 595.4 L457.2 595 L459.5 594.8 L461.7 594.8 L463.9 594.9 L466.2 595.2 L468.4 595.6 L470.6 596.2 L472.9 597 L475.1 597.8 L477.4 598.8 L479.6 599.9 L481.8 601.1 L484.1 602.5 L486.3 603.9 L488.5 605.4 L490.8 607 L493 608.7 L495.3 610.5 L497.5 612.4 L499.7 614.3 L502 616.3 L504.2 618.3 L506.5 620.4 L508.7 622.6 L510.9 624.8 L513.2 627 L515.4 629.3 L517.6 631.7 L519.9 634 L522.1 636.4 L524.4 638.9 L526.6 641.3 L528.8 643.8 L531.1 646.3 L533.3 648.9 L535.5 651.4 L537.8 654 L540 656.5 L542.3 659.1 L544.5 661.7 L546.7 664.3 L549 666.9 L551.2 669.6 L553.4 672.2 L555.7 674.8 L557.9 677.4 L560.2 680 L562.4 682.7 L564.6 685.3 L566.9 687.9 L569.1 690.5 L571.4 693.1 L573.6 695.7 L575.8 698.3 L578.1 700.8 L580.3 703.4 L582.5 705.9 L584.8 708.5 L587 711 L589.3 713.5 L591.5 716 L593.7 718.5 L596 720.9 L598.2 723.4 L600.4 725.8 L602.7 728.2 L604.9 730.6 L607.2 733 L609.4 735.4 L611.6 737.7 L613.9 740 L616.1 742.3 L618.3 744.6 L620.6 746.8 L622.8 749.1 L625.1 751.3 L627.3 753.5 L629.5 755.6 L631.8 757.8 L634 759.9 L636.2 762 L638.5 764.1 L640.7 766.2 L643 768.2 L645.2 770.2 L647.4 772.2 L649.7 774.2 L651.9 776.1 L654.2 778 L656.4 779.9 L658.6 781.8 L660.9 783.6 L663.1 785.4 L665.3 787.2 L667.6 789 L669.8 790.8 L672.1 792.5 L674.3 794.2 L676.5 795.9 L678.8 797.6 L681 799.2 L683.2 800.8 L685.5 802.4 L687.7 804 L690 805.5 L692.2 807.1 L694.4 808.6 L696.7 810 L698.9 811.5 L701.1 812.9 L703.4 814.4 L705.6 815.7 L707.9 817.1 L710.1 818.5 L712.3 819.8 L714.6 821.1 L716.8 822.4 L719.1 823.7 L721.3 824.9 L723.5 826.1 L725.8 827.4 L728 828.5 L730.2 829.7 L732.5 830.9 L734.7 832 L737 833.1 L739.2 834.2 L741.4 835.3 L743.7 836.3 L745.9 837.4 L748.1 838.4 L750.4 839.4 L752.6 840.4 L754.9 841.3 L757.1 842.3 L759.3 843.2 L761.6 844.1 L763.8 845 L766 845.9 L768.3 846.8 L770.5 847.6 L772.8 848.5 L775 849.3 L777.2 850.1 L779.5 850.9 L781.7 851.7 L783.9 852.4 L786.2 853.2 L788.4 853.9 L790.7 854.6 L792.9 855.4 L795.1 856 L797.4 856.7 L799.6 857.4 L801.9 858 L804.1 858.7 L806.3 859.3 L808.6 859.9 L810.8 860.5 L813 861.1 L815.3 861.7 L817.5 862.3 L819.8 862.8 L822 863.4 L824.2 863.9 L826.5 864.4 L828.7 865 L830.9 865.5 L833.2 865.9 L835.4 866.4 L837.7 866.9 L839.9 867.4 L842.1 867.8 L844.4 868.3 L846.6 868.7 L848.8 869.1 L851.1 869.5 L853.3 869.9 L855.6 870.3 L857.8 870.7 L860 871.1 L862.3 871.5 L864.5 871.8 L866.7 872.2 L869 872.6 L871.2 872.9 L873.5 873.2 L875.7 873.6 L877.9 873.9 L880.2 874.2 L882.4 874.5 L884.7 874.8 L886.9 875.1 L889.1 875.4 L891.4 875.6 L893.6 875.9 L895.8 876.2 L898.1 876.4 L900.3 876.7 L902.6 876.9 L904.8 877.2 L907 877.4 L909.3 877.6 L911.5 877.9 L913.7 878.1 L916 878.3 L918.2 878.5 L920.5 878.7 L922.7 878.9 L924.9 879.1 L927.2 879.3 L929.4 879.5 L931.6 879.7 L933.9 879.8 L936.1 880 L938.4 880.2 L940.6 880.4 L942.8 880.5 L945.1 880.7 L947.3 880.8 L949.6 881 L951.8 881.1 L954 881.2 L956.3 881.4 L958.5 881.5 L960.7 881.6 L963 881.8 L965.2 881.9 L967.5 882 L969.7 882.1 L971.9 882.2 L974.2 882.4 L976.4 882.5 L978.6 882.6 L980.9 882.7 L983.1 882.8 L985.4 882.9 L987.6 883 L989.8 883.1 L992.1 883.1 L994.3 883.2 L996.5 883.3 L998.8 883.4 L1001 883.5 L1003.3 883.6 L1005.5 883.6 L1007.7 883.7 L1010 883.8 L1012.2 883.8 L1014.4 883.9 L1016.7 884 L1018.9 884 L1021.2 884.1 L1023.4 884.2 L1025.6 884.2 L1027.9 884.3 L1030.1 884.3 L1032.4 884.4 L1034.6 884.4 L1036.8 884.5 L1039.1 884.5 L1041.3 884.6 L1043.5 884.6 L1045.8 884.7 L1048 884.7 L1050.3 884.7 L1052.5 884.8 L1054.7 884.8 L1057 884.9 L1059.2 884.9 L1061.4 884.9 L1063.7 885 L1065.9 885 L1068.2 885 L1070.4 885.1 L1072.6 885.1 L1074.9 885.1 L1077.1 885.1 L1079.3 885.2 L1081.6 885.2 L1083.8 885.2 L1086.1 885.2 L1088.3 885.3 L1090.5 885.3 L1092.8 885.3 L1095 885.3 L1097.2 885.4 L1099.5 885.4 L1101.7 885.4 L1104 885.4 L1106.2 885.4 L1108.4 885.4 L1110.7 885.5 L1112.9 885.5 L1115.2 885.5 L1117.4 885.5 L1119.6 885.5 L1121.9 885.5 L1124.1 885.5 L1126.3 885.5 L1128.6 885.6 L1130.8 885.6 L1133.1 885.6 L1135.3 885.6 L1137.5 885.6 L1139.8 885.6 L1142 885.6 L1144.2 885.6 L1146.5 885.6 L1148.7 885.6 L1151 885.6 L1153.2 885.7 L1155.4 885.7 L1157.7 885.7 L1159.9 885.7 L1162.1 885.7 L1164.4 885.7 L1166.6 885.7 L1168.9 885.7 L1171.1 885.7 L1173.3 885.7 L1175.6 885.7 L1177.8 885.7 L1180.1 885.7 L1182.3 885.7 L1184.5 885.7 L1186.8 885.7 L1189 885.7 L1191.2 885.7 L1193.5 885.7 L1195.7 885.7 L1198 885.7 L1200.2 885.7 L1202.4 885.7 L1204.7 885.7 L1206.9 885.7 L1209.1 885.7 L1211.4 885.7 L1213.6 885.7 L1215.9 885.7 L1218.1 885.7 L1220.3 885.7 L1222.6 885.7 L1224.8 885.7 L1227 885.7 L1229.3 885.7 L1231.5 885.7 L1233.8 885.7 L1236 885.7 L1238.2 885.7 L1240.5 885.7 L1242.7 885.7 L1244.9 885.7 L1247.2 885.7 L1249.4 885.7 L1251.7 885.7 L1253.9 885.7 L1256.1 885.7 L1258.4 885.7 L1260.6 885.7 L1262.9 885.7 L1265.1 885.7 L1267.3 885.7 L1269.6 885.7 L1271.8 885.7 L1274 885.7 L1276.3 885.7 L1278.5 885.7 L1280.8 885.7 L1283 885.7 L1285.2 885.7 L1287.5 885.7 L1289.7 885.7 L1291.9 885.7 L1294.2 885.7 L1296.4 885.7 L1298.7 885.7 L1300.9 885.7 L1303.1 885.7 L1305.4 885.7 L1307.6 885.7 L1309.8 885.7 L1312.1 885.7 L1314.3 885.7 L1316.6 885.7 L1318.8 885.7 L1321 885.7 L1323.3 885.7 L1325.5 885.7 L1327.8 885.7 L1330 885.7 L1332.2 885.7 L1334.5 885.6 L1336.7 885.6 L1338.9 885.6 L1341.2 885.6 L1343.4 885.6 L1345.7 885.6 L1347.9 885.6 L1350.1 885.6 L1352.4 885.6 L1354.6 885.6 L1356.8 885.6 L1359.1 885.6 L1361.3 885.6 L1363.6 885.6 L1365.8 885.6 L1368 885.6 L1370.3 885.6 L1372.5 885.6 L1374.7 885.6 L1377 885.6 L1379.2 885.6 L1381.5 885.6 L1383.7 885.6 L1385.9 885.6 L1388.2 885.6 L1390.4 885.6 L1392.6 885.6 L1394.9 885.6 L1397.1 885.6 L1399.4 885.6 L1401.6 885.6 L1403.8 885.6 L1406.1 885.6 L1408.3 885.6 L1410.6 885.6 L1412.8 885.6 L1415 885.6 L1417.3 885.6 L1419.5 885.6 L1421.7 885.6 L1424 885.6 L1426.2 885.6 L1428.5 885.6 L1430.7 885.6 L1432.9 885.6 L1435.2 885.6 L1437.4 885.6 L1439.6 885.6 L1441.9 885.6 L1444.1 885.6 L1446.4 885.6 L1448.6 885.6 L1450.8 885.6 L1453.1 885.6 L1455.3 885.6 L1457.5 885.6 L1459.8 885.6 L1462 885.6 L1464.3 885.6 L1466.5 885.6 L1468.7 885.6 L1471 885.6 L1473.2 885.6 L1475.4 885.6 L1477.7 885.5 L1479.9 885.5 L1482.2 885.5 L1484.4 885.5 L1486.6 885.5 L1488.9 885.5 L1491.1 885.5 L1493.4 885.5 L1495.6 885.5 L1497.8 885.5 L1500.1 885.5 L1502.3 885.5 L1504.5 885.5 L1506.8 885.5 L1509 885.5 L1511.3 885.5 L1513.5 885.5 L1515.7 885.5 L1518 885.5 L1520.2 885.5 L1522.4 885.5 L1524.7 885.5 L1526.9 885.5 L1529.2 885.5 L1531.4 885.5 L1533.6 885.5 L1535.9 885.5 L1538.1 885.5 L1540.3 885.5 L1542.6 885.5 L1544.8 885.5 L1547.1 885.5 L1549.3 885.5 L1551.5 885.5 L1553.8 885.5 L1556 885.5 L1558.3 885.5 L1560.5 885.5 L1562.7 885.5 L1565 885.5 L1567.2 885.5 L1569.4 885.5 L1571.7 885.5 L1573.9 885.5 L1576.2 885.5 L1578.4 885.5 L1580.6 885.5 L1582.9 885.5 L1585.1 885.5 L1587.3 885.5 L1589.6 885.5 L1591.8 885.5 L1594.1 885.5 L1596.3 885.5 L1598.5 885.5 L1600.8 885.5 L1603 885.5 L1605.2 885.5 L1607.5 885.5 L1609.7 885.5 L1612 885.5 L1614.2 885.5 L1616.4 885.5 L1618.7 885.5 L1620.9 885.5 L1623.1 885.5 L1625.4 885.5 L1627.6 885.5 L1629.9 885.5 L1632.1 885.5 L1634.3 885.5 L1636.6 885.5 L1638.8 885.5 L1641.1 885.5 L1643.3 885.5 L1645.5 885.5 L1647.8 885.5 L1650 885.5 L1652.2 885.5 L1654.5 885.5 L1656.7 885.5 L1659 885.5 L1661.2 885.5 L1663.4 885.5 L1665.7 885.5 L1667.9 885.5 L1670.1 885.5 L1672.4 885.5 L1674.6 885.5 L1676.9 885.5 L1679.1 885.5 L1681.3 885.5 L1683.6 885.5" stroke="#EDB120" stroke-width="11.4" fill="none" stroke-linejoin="round" stroke-linecap="butt"/>
</g>
<g shape-rendering="crispEdges" stroke-width="1">
<line x1="348.5" y1="1069.5" x2="348.5" y2="1456.5" stroke="#E1E1E1"/>
<line x1="793.5" y1="1069.5" x2="793.5" y2="1456.5" stroke="#E1E1E1"/>
<line x1="1238.5" y1="1069.5" x2="1238.5" y2="1456.5" stroke="#E1E1E1"/>
<line x1="171.5" y1="1359.5" x2="1682.5" y2="1359.5" stroke="#E1E1E1"/>
<line x1="171.5" y1="1262.5" x2="1682.5" y2="1262.5" stroke="#E1E1E1"/>
<line x1="171.5" y1="1166.5" x2="1682.5" y2="1166.5" stroke="#E1E1E1"/>
</g>
<g shape-rendering="crispEdges" stroke="#262626" stroke-width="1" fill="none">
<line x1="348.5" y1="1456.5" x2="348.5" y2="1440.5"/><line x1="348.5" y1="1069.5" x2="348.5" y2="1085.5"/>
<line x1="793.5" y1="1456.5" x2="793.5" y2="1440.5"/><line x1="793.5" y1="1069.5" x2="793.5" y2="1085.5"/>
<line x1="1238.5" y1="1456.5" x2="1238.5" y2="1440.5"/><line x1="1238.5" y1="1069.5" x2="1238.5" y2="1085.5"/>
<line x1="171.5" y1="1359.5" x2="187.5" y2="1359.5"/><line x1="1682.5" y1="1359.5" x2="1666.5" y2="1359.5"/>
<line x1="171.5" y1="1262.5" x2="187.5" y2="1262.5"/><line x1="1682.5" y1="1262.5" x2="1666.5" y2="1262.5"/>
<line x1="171.5" y1="1166.5" x2="187.5" y2="1166.5"/><line x1="1682.5" y1="1166.5" x2="1666.5" y2="1166.5"/>
<rect x="171.5" y="1069.5" width="1511.0" height="387.0"/>
</g>
<g shape-rendering="crispEdges">
<path d="M170.5 1359.8 L348.5 1359.8 L348.5 1069.5 L350.7 1071.5 L353 1073.6 L355.2 1075.6 L357.4 1077.6 L359.6 1079.7 L361.9 1081.7 L364.1 1083.8 L366.3 1085.9 L368.6 1088 L370.8 1090.1 L373 1092.1 L375.2 1094.2 L377.5 1096.3 L379.7 1098.5 L381.9 1100.6 L384.2 1102.7 L386.4 1104.8 L388.6 1106.9 L390.8 1109.1 L393.1 1111.2 L395.3 1113.4 L397.5 1115.5 L399.8 1117.7 L402 1119.8 L404.2 1122 L406.4 1124.1 L408.7 1126.3 L410.9 1128.4 L413.1 1130.6 L415.4 1132.8 L417.6 1134.9 L419.8 1137.1 L422 1139.3 L424.3 1141.4 L426.5 1143.6 L428.7 1145.8 L431 1148 L433.2 1150.1 L435.4 1152.3 L437.6 1154.5 L439.9 1156.7 L442.1 1158.8 L444.3 1161 L446.6 1163.2 L448.8 1165.3 L451 1167.5 L453.2 1169.7 L455.5 1171.8 L457.7 1174 L459.9 1176.2 L462.2 1178.3 L464.4 1180.5 L466.6 1182.6 L468.9 1184.8 L471.1 1186.9 L473.3 1189.1 L475.5 1191.2 L477.8 1193.3 L480 1195.5 L482.2 1197.6 L484.5 1199.7 L486.7 1201.8 L488.9 1203.9 L491.1 1206.1 L493.4 1208.2 L495.6 1210.3 L497.8 1212.4 L500.1 1214.4 L502.3 1216.5 L504.5 1218.6 L506.7 1220.7 L509 1222.7 L511.2 1224.8 L513.4 1226.9 L515.7 1228.9 L517.9 1230.9 L520.1 1233 L522.3 1235 L524.6 1237 L526.8 1239 L529 1241 L531.3 1243 L533.5 1245 L535.7 1247 L537.9 1249 L540.2 1251 L542.4 1252.9 L544.6 1254.9 L546.9 1256.8 L549.1 1258.8 L551.3 1260.7 L553.5 1262.6 L555.8 1264.5 L558 1266.4 L560.2 1268.3 L562.5 1270.2 L564.7 1272.1 L566.9 1273.9 L569.1 1275.8 L571.4 1277.7 L573.6 1279.5 L575.8 1281.3 L578.1 1283.1 L580.3 1285 L582.5 1286.8 L584.7 1288.6 L587 1290.3 L589.2 1292.1 L591.4 1293.9 L593.7 1295.6 L595.9 1297.4 L598.1 1299.1 L600.3 1300.8 L602.6 1302.5 L604.8 1304.2 L607 1305.9 L609.3 1307.6 L611.5 1309.3 L613.7 1311 L615.9 1312.6 L618.2 1314.3 L620.4 1315.9 L622.6 1317.5 L624.9 1319.1 L627.1 1320.7 L629.3 1322.3 L631.5 1323.9 L633.8 1325.5 L636 1327 L638.2 1328.6 L640.5 1330.1 L642.7 1331.6 L644.9 1333.1 L647.1 1334.7 L649.4 1336.1 L651.6 1337.6 L653.8 1339.1 L656.1 1340.6 L658.3 1342 L660.5 1343.5 L662.7 1344.9 L665 1346.3 L667.2 1347.7 L669.4 1349.1 L671.7 1350.5 L673.9 1351.9 L676.1 1353.2 L678.3 1354.6 L680.6 1355.9 L682.8 1357.2 L685 1358.6 L687.3 1359.9 L689.5 1361.2 L691.7 1362.5 L694 1363.7 L696.2 1365 L698.4 1366.2 L700.6 1367.5 L702.9 1368.7 L705.1 1369.9 L707.3 1371.2 L709.6 1372.4 L711.8 1373.5 L714 1374.7 L716.2 1375.9 L718.5 1377 L720.7 1378.2 L722.9 1379.3 L725.2 1380.4 L727.4 1381.6 L729.6 1382.7 L731.8 1383.7 L734.1 1384.8 L736.3 1385.9 L738.5 1386.9 L740.8 1388 L743 1389 L745.2 1390.1 L747.4 1391.1 L749.7 1392.1 L751.9 1393.1 L754.1 1394.1 L756.4 1395 L758.6 1396 L760.8 1396.9 L763 1397.9 L765.3 1398.8 L767.5 1399.7 L769.7 1400.6 L772 1401.5 L774.2 1402.4 L776.4 1403.3 L778.6 1404.2 L780.9 1405 L783.1 1405.9 L785.3 1406.7 L787.6 1407.6 L789.8 1408.4 L792 1409.2 L794.2 1410 L796.5 1410.8 L798.7 1411.6 L800.9 1412.3 L803.2 1413.1 L805.4 1413.8 L807.6 1414.6 L809.8 1415.3 L812.1 1416 L814.3 1416.7 L816.5 1417.4 L818.8 1418.1 L821 1418.8 L823.2 1419.5 L825.4 1420.1 L827.7 1420.8 L829.9 1421.4 L832.1 1422 L834.4 1422.7 L836.6 1423.3 L838.8 1423.9 L841 1424.5 L843.3 1425.1 L845.5 1425.6 L847.7 1426.2 L850 1426.8 L852.2 1427.3 L854.4 1427.8 L856.6 1428.4 L858.9 1428.9 L861.1 1429.4 L863.3 1429.9 L865.6 1430.4 L867.8 1430.9 L870 1431.4 L872.2 1431.8 L874.5 1432.3 L876.7 1432.7 L878.9 1433.2 L881.2 1433.6 L883.4 1434 L885.6 1434.5 L887.8 1434.9 L890.1 1435.3 L892.3 1435.7 L894.5 1436 L896.8 1436.4 L899 1436.8 L901.2 1437.1 L903.4 1437.5 L905.7 1437.8 L907.9 1438.2 L910.1 1438.5 L912.4 1438.8 L914.6 1439.1 L916.8 1439.4 L919.1 1439.7 L921.3 1440 L923.5 1440.3 L925.7 1440.5 L928 1440.8 L930.2 1441.1 L932.4 1441.3 L934.7 1441.5 L936.9 1441.8 L939.1 1442 L941.3 1442.2 L943.6 1442.4 L945.8 1442.6 L948 1442.8 L950.3 1443 L952.5 1443.2 L954.7 1443.4 L956.9 1443.5 L959.2 1443.7 L961.4 1443.8 L963.6 1444 L965.9 1444.1 L968.1 1444.3 L970.3 1444.4 L972.5 1444.5 L974.8 1444.6 L977 1444.7 L979.2 1444.8 L981.5 1444.9 L983.7 1445 L985.9 1445.1 L988.1 1445.1 L990.4 1445.2 L992.6 1445.3 L994.8 1445.3 L997.1 1445.4 L999.3 1445.4 L1001.5 1445.4 L1003.7 1445.5 L1006 1445.5 L1008.2 1445.5 L1010.4 1445.5 L1012.7 1445.5 L1014.9 1445.5 L1017.1 1445.5 L1019.3 1445.5 L1021.6 1445.5 L1023.8 1445.5 L1026 1445.4 L1028.3 1445.4 L1030.5 1445.3 L1032.7 1445.3 L1034.9 1445.2 L1037.2 1445.2 L1039.4 1445.1 L1041.6 1445 L1043.9 1445 L1046.1 1444.9 L1048.3 1444.8 L1050.5 1444.7 L1052.8 1444.6 L1055 1444.5 L1057.2 1444.4 L1059.5 1444.3 L1061.7 1444.2 L1063.9 1444.1 L1066.1 1444 L1068.4 1443.8 L1070.6 1443.7 L1072.8 1443.5 L1075.1 1443.4 L1077.3 1443.3 L1079.5 1443.1 L1081.7 1442.9 L1084 1442.8 L1086.2 1442.6 L1088.4 1442.5 L1090.7 1442.3 L1092.9 1442.1 L1095.1 1441.9 L1097.3 1441.7 L1099.6 1441.5 L1101.8 1441.3 L1104 1441.1 L1106.3 1440.9 L1108.5 1440.7 L1110.7 1440.5 L1112.9 1440.3 L1115.2 1440.1 L1117.4 1439.9 L1119.6 1439.6 L1121.9 1439.4 L1124.1 1439.2 L1126.3 1438.9 L1128.6 1438.7 L1130.8 1438.5 L1133 1438.2 L1135.2 1438 L1137.5 1437.7 L1139.7 1437.4 L1141.9 1437.2 L1144.2 1436.9 L1146.4 1436.7 L1148.6 1436.4 L1150.8 1436.1 L1153.1 1435.8 L1155.3 1435.6 L1157.5 1435.3 L1159.8 1435 L1162 1434.7 L1164.2 1434.4 L1166.4 1434.1 L1168.7 1433.8 L1170.9 1433.5 L1173.1 1433.2 L1175.4 1432.9 L1177.6 1432.6 L1179.8 1432.3 L1182 1432 L1184.3 1431.7 L1186.5 1431.4 L1188.7 1431 L1191 1430.7 L1193.2 1430.4 L1195.4 1430.1 L1197.6 1429.7 L1199.9 1429.4 L1202.1 1429.1 L1204.3 1428.7 L1206.6 1428.4 L1208.8 1428.1 L1211 1427.7 L1213.2 1427.4 L1215.5 1427 L1217.7 1426.7 L1219.9 1426.3 L1222.2 1426 L1224.4 1425.6 L1226.6 1425.3 L1228.8 1424.9 L1231.1 1424.6 L1233.3 1424.2 L1235.5 1423.9 L1237.8 1423.5 L1240 1423.1 L1242.2 1422.8 L1244.4 1422.4 L1246.7 1422.1 L1248.9 1421.7 L1251.1 1421.3 L1253.4 1420.9 L1255.6 1420.6 L1257.8 1420.2 L1260 1419.8 L1262.3 1419.5 L1264.5 1419.1 L1266.7 1418.7 L1269 1418.3 L1271.2 1417.9 L1273.4 1417.6 L1275.6 1417.2 L1277.9 1416.8 L1280.1 1416.4 L1282.3 1416 L1284.6 1415.7 L1286.8 1415.3 L1289 1414.9 L1291.2 1414.5 L1293.5 1414.1 L1295.7 1413.7 L1297.9 1413.3 L1300.2 1413 L1302.4 1412.6 L1304.6 1412.2 L1306.8 1411.8 L1309.1 1411.4 L1311.3 1411 L1313.5 1410.6 L1315.8 1410.2 L1318 1409.8 L1320.2 1409.4 L1322.4 1409.1 L1324.7 1408.7 L1326.9 1408.3 L1329.1 1407.9 L1331.4 1407.5 L1333.6 1407.1 L1335.8 1406.7 L1338 1406.3 L1340.3 1405.9 L1342.5 1405.5 L1344.7 1405.1 L1347 1404.7 L1349.2 1404.4 L1351.4 1404 L1353.7 1403.6 L1355.9 1403.2 L1358.1 1402.8 L1360.3 1402.4 L1362.6 1402 L1364.8 1401.6 L1367 1401.2 L1369.3 1400.8 L1371.5 1400.5 L1373.7 1400.1 L1375.9 1399.7 L1378.2 1399.3 L1380.4 1398.9 L1382.6 1398.5 L1384.9 1398.1 L1387.1 1397.7 L1389.3 1397.4 L1391.5 1397 L1393.8 1396.6 L1396 1396.2 L1398.2 1395.8 L1400.5 1395.4 L1402.7 1395.1 L1404.9 1394.7 L1407.1 1394.3 L1409.4 1393.9 L1411.6 1393.5 L1413.8 1393.2 L1416.1 1392.8 L1418.3 1392.4 L1420.5 1392 L1422.7 1391.7 L1425 1391.3 L1427.2 1390.9 L1429.4 1390.5 L1431.7 1390.2 L1433.9 1389.8 L1436.1 1389.4 L1438.3 1389.1 L1440.6 1388.7 L1442.8 1388.3 L1445 1388 L1447.3 1387.6 L1449.5 1387.3 L1451.7 1386.9 L1453.9 1386.5 L1456.2 1386.2 L1458.4 1385.8 L1460.6 1385.5 L1462.9 1385.1 L1465.1 1384.8 L1467.3 1384.4 L1469.5 1384 L1471.8 1383.7 L1474 1383.3 L1476.2 1383 L1478.5 1382.7 L1480.7 1382.3 L1482.9 1382 L1485.1 1381.6 L1487.4 1381.3 L1489.6 1380.9 L1491.8 1380.6 L1494.1 1380.3 L1496.3 1379.9 L1498.5 1379.6 L1500.7 1379.3 L1503 1378.9 L1505.2 1378.6 L1507.4 1378.3 L1509.7 1377.9 L1511.9 1377.6 L1514.1 1377.3 L1516.3 1377 L1518.6 1376.7 L1520.8 1376.3 L1523 1376 L1525.3 1375.7 L1527.5 1375.4 L1529.7 1375.1 L1531.9 1374.8 L1534.2 1374.5 L1536.4 1374.1 L1538.6 1373.8 L1540.9 1373.5 L1543.1 1373.2 L1545.3 1372.9 L1547.5 1372.6 L1549.8 1372.3 L1552 1372 L1554.2 1371.7 L1556.5 1371.4 L1558.7 1371.1 L1560.9 1370.9 L1563.1 1370.6 L1565.4 1370.3 L1567.6 1370 L1569.8 1369.7 L1572.1 1369.4 L1574.3 1369.1 L1576.5 1368.9 L1578.8 1368.6 L1581 1368.3 L1583.2 1368 L1585.4 1367.8 L1587.7 1367.5 L1589.9 1367.2 L1592.1 1367 L1594.4 1366.7 L1596.6 1366.4 L1598.8 1366.2 L1601 1365.9 L1603.3 1365.6 L1605.5 1365.4 L1607.7 1365.1 L1610 1364.9 L1612.2 1364.6 L1614.4 1364.4 L1616.6 1364.1 L1618.9 1363.9 L1621.1 1363.6 L1623.3 1363.4 L1625.6 1363.2 L1627.8 1362.9 L1630 1362.7 L1632.2 1362.4 L1634.5 1362.2 L1636.7 1362 L1638.9 1361.8 L1641.2 1361.5 L1643.4 1361.3 L1645.6 1361.1 L1647.8 1360.9 L1650.1 1360.6 L1652.3 1360.4 L1654.5 1360.2 L1656.8 1360 L1659 1359.8 L1661.2 1359.6 L1663.4 1359.3 L1665.7 1359.1 L1667.9 1358.9 L1670.1 1358.7 L1672.4 1358.5 L1674.6 1358.3 L1676.8 1358.1 L1679 1357.9 L1681.3 1357.7 L1683.5 1357.5" stroke="#0072BD" stroke-width="11.4" fill="none" stroke-linejoin="round" stroke-linecap="butt"/>
<path d="M170.5 1359.8 L348.5 1359.8 L348.5 1069.5 L350.7 1071.2 L353 1073 L355.2 1074.8 L357.4 1076.7 L359.6 1078.6 L361.9 1080.6 L364.1 1082.7 L366.3 1084.8 L368.6 1087 L370.8 1089.2 L373 1091.5 L375.2 1093.8 L377.5 1096.2 L379.7 1098.6 L381.9 1101 L384.2 1103.5 L386.4 1106 L388.6 1108.6 L390.8 1111.2 L393.1 1113.8 L395.3 1116.5 L397.5 1119.2 L399.8 1121.9 L402 1124.7 L404.2 1127.5 L406.4 1130.3 L408.7 1133.1 L410.9 1136 L413.1 1138.9 L415.4 1141.8 L417.6 1144.7 L419.8 1147.7 L422 1150.6 L424.3 1153.6 L426.5 1156.6 L428.7 1159.6 L431 1162.6 L433.2 1165.6 L435.4 1168.7 L437.6 1171.7 L439.9 1174.8 L442.1 1177.8 L444.3 1180.9 L446.6 1184 L448.8 1187 L451 1190.1 L453.2 1193.2 L455.5 1196.3 L457.7 1199.3 L459.9 1202.4 L462.2 1205.5 L464.4 1208.6 L466.6 1211.6 L468.9 1214.7 L471.1 1217.8 L473.3 1220.8 L475.5 1223.9 L477.8 1226.9 L480 1229.9 L482.2 1233 L484.5 1236 L486.7 1239 L488.9 1242 L491.1 1244.9 L493.4 1247.9 L495.6 1250.8 L497.8 1253.8 L500.1 1256.7 L502.3 1259.6 L504.5 1262.5 L506.7 1265.4 L509 1268.2 L511.2 1271.1 L513.4 1273.9 L515.7 1276.7 L517.9 1279.5 L520.1 1282.3 L522.3 1285 L524.6 1287.7 L526.8 1290.4 L529 1293.1 L531.3 1295.8 L533.5 1298.4 L535.7 1301.1 L537.9 1303.7 L540.2 1306.2 L542.4 1308.8 L544.6 1311.3 L546.9 1313.8 L549.1 1316.3 L551.3 1318.8 L553.5 1321.2 L555.8 1323.6 L558 1326 L560.2 1328.3 L562.5 1330.7 L564.7 1333 L566.9 1335.2 L569.1 1337.5 L571.4 1339.7 L573.6 1341.9 L575.8 1344.1 L578.1 1346.2 L580.3 1348.3 L582.5 1350.4 L584.7 1352.5 L587 1354.5 L589.2 1356.5 L591.4 1358.5 L593.7 1360.5 L595.9 1362.4 L598.1 1364.3 L600.3 1366.1 L602.6 1368 L604.8 1369.8 L607 1371.6 L609.3 1373.3 L611.5 1375.1 L613.7 1376.8 L615.9 1378.4 L618.2 1380.1 L620.4 1381.7 L622.6 1383.3 L624.9 1384.8 L627.1 1386.4 L629.3 1387.9 L631.5 1389.3 L633.8 1390.8 L636 1392.2 L638.2 1393.6 L640.5 1395 L642.7 1396.3 L644.9 1397.6 L647.1 1398.9 L649.4 1400.1 L651.6 1401.4 L653.8 1402.6 L656.1 1403.7 L658.3 1404.9 L660.5 1406 L662.7 1407.1 L665 1408.2 L667.2 1409.2 L669.4 1410.2 L671.7 1411.2 L673.9 1412.2 L676.1 1413.1 L678.3 1414 L680.6 1414.9 L682.8 1415.8 L685 1416.6 L687.3 1417.4 L689.5 1418.2 L691.7 1419 L694 1419.7 L696.2 1420.4 L698.4 1421.1 L700.6 1421.8 L702.9 1422.4 L705.1 1423 L707.3 1423.6 L709.6 1424.2 L711.8 1424.8 L714 1425.3 L716.2 1425.8 L718.5 1426.3 L720.7 1426.8 L722.9 1427.2 L725.2 1427.6 L727.4 1428 L729.6 1428.4 L731.8 1428.7 L734.1 1429.1 L736.3 1429.4 L738.5 1429.7 L740.8 1430 L743 1430.2 L745.2 1430.5 L747.4 1430.7 L749.7 1430.9 L751.9 1431.1 L754.1 1431.2 L756.4 1431.4 L758.6 1431.5 L760.8 1431.6 L763 1431.7 L765.3 1431.8 L767.5 1431.9 L769.7 1431.9 L772 1431.9 L774.2 1431.9 L776.4 1431.9 L778.6 1431.9 L780.9 1431.9 L783.1 1431.8 L785.3 1431.8 L787.6 1431.7 L789.8 1431.6 L792 1431.5 L794.2 1431.4 L796.5 1431.2 L798.7 1431.1 L800.9 1430.9 L803.2 1430.7 L805.4 1430.6 L807.6 1430.4 L809.8 1430.1 L812.1 1429.9 L814.3 1429.7 L816.5 1429.4 L818.8 1429.2 L821 1428.9 L823.2 1428.6 L825.4 1428.3 L827.7 1428 L829.9 1427.7 L832.1 1427.4 L834.4 1427.1 L836.6 1426.7 L838.8 1426.4 L841 1426 L843.3 1425.7 L845.5 1425.3 L847.7 1424.9 L850 1424.5 L852.2 1424.1 L854.4 1423.7 L856.6 1423.3 L858.9 1422.8 L861.1 1422.4 L863.3 1422 L865.6 1421.5 L867.8 1421.1 L870 1420.6 L872.2 1420.2 L874.5 1419.7 L876.7 1419.2 L878.9 1418.7 L881.2 1418.3 L883.4 1417.8 L885.6 1417.3 L887.8 1416.8 L890.1 1416.3 L892.3 1415.8 L894.5 1415.3 L896.8 1414.7 L899 1414.2 L901.2 1413.7 L903.4 1413.2 L905.7 1412.6 L907.9 1412.1 L910.1 1411.6 L912.4 1411 L914.6 1410.5 L916.8 1410 L919.1 1409.4 L921.3 1408.9 L923.5 1408.3 L925.7 1407.8 L928 1407.2 L930.2 1406.6 L932.4 1406.1 L934.7 1405.5 L936.9 1405 L939.1 1404.4 L941.3 1403.9 L943.6 1403.3 L945.8 1402.7 L948 1402.2 L950.3 1401.6 L952.5 1401.1 L954.7 1400.5 L956.9 1399.9 L959.2 1399.4 L961.4 1398.8 L963.6 1398.2 L965.9 1397.7 L968.1 1397.1 L970.3 1396.6 L972.5 1396 L974.8 1395.5 L977 1394.9 L979.2 1394.3 L981.5 1393.8 L983.7 1393.2 L985.9 1392.7 L988.1 1392.1 L990.4 1391.6 L992.6 1391.1 L994.8 1390.5 L997.1 1390 L999.3 1389.4 L1001.5 1388.9 L1003.7 1388.4 L1006 1387.8 L1008.2 1387.3 L1010.4 1386.8 L1012.7 1386.3 L1014.9 1385.7 L1017.1 1385.2 L1019.3 1384.7 L1021.6 1384.2 L1023.8 1383.7 L1026 1383.2 L1028.3 1382.7 L1030.5 1382.2 L1032.7 1381.7 L1034.9 1381.2 L1037.2 1380.7 L1039.4 1380.2 L1041.6 1379.7 L1043.9 1379.2 L1046.1 1378.8 L1048.3 1378.3 L1050.5 1377.8 L1052.8 1377.4 L1055 1376.9 L1057.2 1376.4 L1059.5 1376 L1061.7 1375.5 L1063.9 1375.1 L1066.1 1374.6 L1068.4 1374.2 L1070.6 1373.8 L1072.8 1373.3 L1075.1 1372.9 L1077.3 1372.5 L1079.5 1372.1 L1081.7 1371.7 L1084 1371.3 L1086.2 1370.9 L1088.4 1370.4 L1090.7 1370.1 L1092.9 1369.7 L1095.1 1369.3 L1097.3 1368.9 L1099.6 1368.5 L1101.8 1368.1 L1104 1367.8 L1106.3 1367.4 L1108.5 1367 L1110.7 1366.7 L1112.9 1366.3 L1115.2 1366 L1117.4 1365.6 L1119.6 1365.3 L1121.9 1364.9 L1124.1 1364.6 L1126.3 1364.3 L1128.6 1364 L1130.8 1363.6 L1133 1363.3 L1135.2 1363 L1137.5 1362.7 L1139.7 1362.4 L1141.9 1362.1 L1144.2 1361.8 L1146.4 1361.5 L1148.6 1361.3 L1150.8 1361 L1153.1 1360.7 L1155.3 1360.4 L1157.5 1360.2 L1159.8 1359.9 L1162 1359.6 L1164.2 1359.4 L1166.4 1359.1 L1168.7 1358.9 L1170.9 1358.7 L1173.1 1358.4 L1175.4 1358.2 L1177.6 1358 L1179.8 1357.7 L1182 1357.5 L1184.3 1357.3 L1186.5 1357.1 L1188.7 1356.9 L1191 1356.7 L1193.2 1356.5 L1195.4 1356.3 L1197.6 1356.1 L1199.9 1355.9 L1202.1 1355.7 L1204.3 1355.5 L1206.6 1355.4 L1208.8 1355.2 L1211 1355 L1213.2 1354.9 L1215.5 1354.7 L1217.7 1354.6 L1219.9 1354.4 L1222.2 1354.3 L1224.4 1354.1 L1226.6 1354 L1228.8 1353.8 L1231.1 1353.7 L1233.3 1353.6 L1235.5 1353.4 L1237.8 1353.3 L1240 1353.2 L1242.2 1353.1 L1244.4 1353 L1246.7 1352.9 L1248.9 1352.7 L1251.1 1352.6 L1253.4 1352.5 L1255.6 1352.4 L1257.8 1352.4 L1260 1352.3 L1262.3 1352.2 L1264.5 1352.1 L1266.7 1352 L1269 1351.9 L1271.2 1351.9 L1273.4 1351.8 L1275.6 1351.7 L1277.9 1351.7 L1280.1 1351.6 L1282.3 1351.5 L1284.6 1351.5 L1286.8 1351.4 L1289 1351.4 L1291.2 1351.3 L1293.5 1351.3 L1295.7 1351.2 L1297.9 1351.2 L1300.2 1351.1 L1302.4 1351.1 L1304.6 1351.1 L1306.8 1351 L1309.1 1351 L1311.3 1351 L1313.5 1351 L1315.8 1350.9 L1318 1350.9 L1320.2 1350.9 L1322.4 1350.9 L1324.7 1350.9 L1326.9 1350.9 L1329.1 1350.9 L1331.4 1350.9 L1333.6 1350.8 L1335.8 1350.8 L1338 1350.8 L1340.3 1350.8 L1342.5 1350.8 L1344.7 1350.9 L1347 1350.9 L1349.2 1350.9 L1351.4 1350.9 L1353.7 1350.9 L1355.9 1350.9 L1358.1 1350.9 L1360.3 1350.9 L1362.6 1351 L1364.8 1351 L1367 1351 L1369.3 1351 L1371.5 1351.1 L1373.7 1351.1 L1375.9 1351.1 L1378.2 1351.1 L1380.4 1351.2 L1382.6 1351.2 L1384.9 1351.2 L1387.1 1351.3 L1389.3 1351.3 L1391.5 1351.3 L1393.8 1351.4 L1396 1351.4 L1398.2 1351.5 L1400.5 1351.5 L1402.7 1351.6 L1404.9 1351.6 L1407.1 1351.6 L1409.4 1351.7 L1411.6 1351.7 L1413.8 1351.8 L1416.1 1351.8 L1418.3 1351.9 L1420.5 1351.9 L1422.7 1352 L1425 1352 L1427.2 1352.1 L1429.4 1352.1 L1431.7 1352.2 L1433.9 1352.3 L1436.1 1352.3 L1438.3 1352.4 L1440.6 1352.4 L1442.8 1352.5 L1445 1352.5 L1447.3 1352.6 L1449.5 1352.7 L1451.7 1352.7 L1453.9 1352.8 L1456.2 1352.8 L1458.4 1352.9 L1460.6 1353 L1462.9 1353 L1465.1 1353.1 L1467.3 1353.2 L1469.5 1353.2 L1471.8 1353.3 L1474 1353.4 L1476.2 1353.4 L1478.5 1353.5 L1480.7 1353.5 L1482.9 1353.6 L1485.1 1353.7 L1487.4 1353.7 L1489.6 1353.8 L1491.8 1353.9 L1494.1 1353.9 L1496.3 1354 L1498.5 1354.1 L1500.7 1354.1 L1503 1354.2 L1505.2 1354.3 L1507.4 1354.3 L1509.7 1354.4 L1511.9 1354.5 L1514.1 1354.5 L1516.3 1354.6 L1518.6 1354.7 L1520.8 1354.7 L1523 1354.8 L1525.3 1354.9 L1527.5 1354.9 L1529.7 1355 L1531.9 1355.1 L1534.2 1355.1 L1536.4 1355.2 L1538.6 1355.3 L1540.9 1355.3 L1543.1 1355.4 L1545.3 1355.5 L1547.5 1355.5 L1549.8 1355.6 L1552 1355.7 L1554.2 1355.7 L1556.5 1355.8 L1558.7 1355.8 L1560.9 1355.9 L1563.1 1356 L1565.4 1356 L1567.6 1356.1 L1569.8 1356.2 L1572.1 1356.2 L1574.3 1356.3 L1576.5 1356.3 L1578.8 1356.4 L1581 1356.5 L1583.2 1356.5 L1585.4 1356.6 L1587.7 1356.6 L1589.9 1356.7 L1592.1 1356.8 L1594.4 1356.8 L1596.6 1356.9 L1598.8 1356.9 L1601 1357 L1603.3 1357 L1605.5 1357.1 L1607.7 1357.2 L1610 1357.2 L1612.2 1357.3 L1614.4 1357.3 L1616.6 1357.4 L1618.9 1357.4 L1621.1 1357.5 L1623.3 1357.5 L1625.6 1357.6 L1627.8 1357.6 L1630 1357.7 L1632.2 1357.7 L1634.5 1357.8 L1636.7 1357.8 L1638.9 1357.9 L1641.2 1357.9 L1643.4 1358 L1645.6 1358 L1647.8 1358.1 L1650.1 1358.1 L1652.3 1358.2 L1654.5 1358.2 L1656.8 1358.3 L1659 1358.3 L1661.2 1358.4 L1663.4 1358.4 L1665.7 1358.4 L1667.9 1358.5 L1670.1 1358.5 L1672.4 1358.6 L1674.6 1358.6 L1676.8 1358.6 L1679 1358.7 L1681.3 1358.7 L1683.5 1358.8" stroke="#D95319" stroke-width="11.4" fill="none" stroke-linejoin="round" stroke-linecap="butt"/>
<path d="M170.5 1359.8 L348.5 1359.8 L348.5 1069.5 L350.7 1071.6 L353 1074.6 L355.2 1078.4 L357.4 1082.9 L359.6 1087.9 L361.9 1093.5 L364.1 1099.4 L366.3 1105.7 L368.6 1112.3 L370.8 1119.1 L373 1126.1 L375.2 1133.2 L377.5 1140.4 L379.7 1147.7 L381.9 1155 L384.2 1162.3 L386.4 1169.6 L388.6 1176.9 L390.8 1184.1 L393.1 1191.2 L395.3 1198.3 L397.5 1205.2 L399.8 1212.1 L402 1218.8 L404.2 1225.4 L406.4 1231.9 L408.7 1238.2 L410.9 1244.4 L413.1 1250.4 L415.4 1256.4 L417.6 1262.1 L419.8 1267.7 L422 1273.2 L424.3 1278.5 L426.5 1283.7 L428.7 1288.7 L431 1293.6 L433.2 1298.3 L435.4 1302.9 L437.6 1307.3 L439.9 1311.6 L442.1 1315.7 L444.3 1319.8 L446.6 1323.6 L448.8 1327.4 L451 1331 L453.2 1334.5 L455.5 1337.9 L457.7 1341.1 L459.9 1344.2 L462.2 1347.2 L464.4 1350.1 L466.6 1352.9 L468.9 1355.6 L471.1 1358.2 L473.3 1360.6 L475.5 1363 L477.8 1365.3 L480 1367.4 L482.2 1369.5 L484.5 1371.5 L486.7 1373.4 L488.9 1375.2 L491.1 1376.9 L493.4 1378.6 L495.6 1380.1 L497.8 1381.6 L500.1 1383.1 L502.3 1384.4 L504.5 1385.7 L506.7 1386.9 L509 1388 L511.2 1389.1 L513.4 1390.1 L515.7 1391.1 L517.9 1392 L520.1 1392.8 L522.3 1393.6 L524.6 1394.4 L526.8 1395.1 L529 1395.7 L531.3 1396.3 L533.5 1396.8 L535.7 1397.4 L537.9 1397.8 L540.2 1398.2 L542.4 1398.6 L544.6 1399 L546.9 1399.3 L549.1 1399.6 L551.3 1399.8 L553.5 1400 L555.8 1400.2 L558 1400.3 L560.2 1400.4 L562.5 1400.5 L564.7 1400.6 L566.9 1400.6 L569.1 1400.6 L571.4 1400.6 L573.6 1400.6 L575.8 1400.5 L578.1 1400.5 L580.3 1400.4 L582.5 1400.3 L584.7 1400.1 L587 1400 L589.2 1399.8 L591.4 1399.6 L593.7 1399.4 L595.9 1399.2 L598.1 1399 L600.3 1398.8 L602.6 1398.5 L604.8 1398.3 L607 1398 L609.3 1397.7 L611.5 1397.4 L613.7 1397.1 L615.9 1396.8 L618.2 1396.5 L620.4 1396.2 L622.6 1395.8 L624.9 1395.5 L627.1 1395.2 L629.3 1394.8 L631.5 1394.5 L633.8 1394.1 L636 1393.7 L638.2 1393.4 L640.5 1393 L642.7 1392.6 L644.9 1392.3 L647.1 1391.9 L649.4 1391.5 L651.6 1391.1 L653.8 1390.7 L656.1 1390.4 L658.3 1390 L660.5 1389.6 L662.7 1389.2 L665 1388.8 L667.2 1388.4 L669.4 1388 L671.7 1387.6 L673.9 1387.3 L676.1 1386.9 L678.3 1386.5 L680.6 1386.1 L682.8 1385.7 L685 1385.3 L687.3 1385 L689.5 1384.6 L691.7 1384.2 L694 1383.8 L696.2 1383.5 L698.4 1383.1 L700.6 1382.7 L702.9 1382.3 L705.1 1382 L707.3 1381.6 L709.6 1381.3 L711.8 1380.9 L714 1380.6 L716.2 1380.2 L718.5 1379.9 L720.7 1379.5 L722.9 1379.2 L725.2 1378.9 L727.4 1378.5 L729.6 1378.2 L731.8 1377.9 L734.1 1377.5 L736.3 1377.2 L738.5 1376.9 L740.8 1376.6 L743 1376.3 L745.2 1376 L747.4 1375.7 L749.7 1375.4 L751.9 1375.1 L754.1 1374.8 L756.4 1374.5 L758.6 1374.2 L760.8 1374 L763 1373.7 L765.3 1373.4 L767.5 1373.2 L769.7 1372.9 L772 1372.6 L774.2 1372.4 L776.4 1372.1 L778.6 1371.9 L780.9 1371.6 L783.1 1371.4 L785.3 1371.1 L787.6 1370.9 L789.8 1370.7 L792 1370.5 L794.2 1370.2 L796.5 1370 L798.7 1369.8 L800.9 1369.6 L803.2 1369.4 L805.4 1369.2 L807.6 1369 L809.8 1368.8 L812.1 1368.6 L814.3 1368.4 L816.5 1368.2 L818.8 1368 L821 1367.8 L823.2 1367.6 L825.4 1367.4 L827.7 1367.3 L829.9 1367.1 L832.1 1366.9 L834.4 1366.8 L836.6 1366.6 L838.8 1366.4 L841 1366.3 L843.3 1366.1 L845.5 1366 L847.7 1365.8 L850 1365.7 L852.2 1365.6 L854.4 1365.4 L856.6 1365.3 L858.9 1365.1 L861.1 1365 L863.3 1364.9 L865.6 1364.8 L867.8 1364.6 L870 1364.5 L872.2 1364.4 L874.5 1364.3 L876.7 1364.2 L878.9 1364 L881.2 1363.9 L883.4 1363.8 L885.6 1363.7 L887.8 1363.6 L890.1 1363.5 L892.3 1363.4 L894.5 1363.3 L896.8 1363.2 L899 1363.1 L901.2 1363 L903.4 1363 L905.7 1362.9 L907.9 1362.8 L910.1 1362.7 L912.4 1362.6 L914.6 1362.5 L916.8 1362.5 L919.1 1362.4 L921.3 1362.3 L923.5 1362.2 L925.7 1362.2 L928 1362.1 L930.2 1362 L932.4 1362 L934.7 1361.9 L936.9 1361.8 L939.1 1361.8 L941.3 1361.7 L943.6 1361.7 L945.8 1361.6 L948 1361.5 L950.3 1361.5 L952.5 1361.4 L954.7 1361.4 L956.9 1361.3 L959.2 1361.3 L961.4 1361.2 L963.6 1361.2 L965.9 1361.1 L968.1 1361.1 L970.3 1361.1 L972.5 1361 L974.8 1361 L977 1360.9 L979.2 1360.9 L981.5 1360.9 L983.7 1360.8 L985.9 1360.8 L988.1 1360.7 L990.4 1360.7 L992.6 1360.7 L994.8 1360.6 L997.1 1360.6 L999.3 1360.6 L1001.5 1360.5 L1003.7 1360.5 L1006 1360.5 L1008.2 1360.5 L1010.4 1360.4 L1012.7 1360.4 L1014.9 1360.4 L1017.1 1360.4 L1019.3 1360.3 L1021.6 1360.3 L1023.8 1360.3 L1026 1360.3 L1028.3 1360.2 L1030.5 1360.2 L1032.7 1360.2 L1034.9 1360.2 L1037.2 1360.2 L1039.4 1360.1 L1041.6 1360.1 L1043.9 1360.1 L1046.1 1360.1 L1048.3 1360.1 L1050.5 1360.1 L1052.8 1360 L1055 1360 L1057.2 1360 L1059.5 1360 L1061.7 1360 L1063.9 1360 L1066.1 1360 L1068.4 1360 L1070.6 1359.9 L1072.8 1359.9 L1075.1 1359.9 L1077.3 1359.9 L1079.5 1359.9 L1081.7 1359.9 L1084 1359.9 L1086.2 1359.9 L1088.4 1359.9 L1090.7 1359.8 L1092.9 1359.8 L1095.1 1359.8 L1097.3 1359.8 L1099.6 1359.8 L1101.8 1359.8 L1104 1359.8 L1106.3 1359.8 L1108.5 1359.8 L1110.7 1359.8 L1112.9 1359.8 L1115.2 1359.8 L1117.4 1359.8 L1119.6 1359.8 L1121.9 1359.8 L1124.1 1359.8 L1126.3 1359.7 L1128.6 1359.7 L1130.8 1359.7 L1133 1359.7 L1135.2 1359.7 L1137.5 1359.7 L1139.7 1359.7 L1141.9 1359.7 L1144.2 1359.7 L1146.4 1359.7 L1148.6 1359.7 L1150.8 1359.7 L1153.1 1359.7 L1155.3 1359.7 L1157.5 1359.7 L1159.8 1359.7 L1162 1359.7 L1164.2 1359.7 L1166.4 1359.7 L1168.7 1359.7 L1170.9 1359.7 L1173.1 1359.7 L1175.4 1359.7 L1177.6 1359.7 L1179.8 1359.7 L1182 1359.7 L1184.3 1359.7 L1186.5 1359.7 L1188.7 1359.7 L1191 1359.7 L1193.2 1359.7 L1195.4 1359.7 L1197.6 1359.7 L1199.9 1359.7 L1202.1 1359.7 L1204.3 1359.7 L1206.6 1359.7 L1208.8 1359.7 L1211 1359.7 L1213.2 1359.7 L1215.5 1359.7 L1217.7 1359.7 L1219.9 1359.7 L1222.2 1359.7 L1224.4 1359.7 L1226.6 1359.7 L1228.8 1359.7 L1231.1 1359.7 L1233.3 1359.7 L1235.5 1359.7 L1237.8 1359.7 L1240 1359.7 L1242.2 1359.7 L1244.4 1359.7 L1246.7 1359.7 L1248.9 1359.7 L1251.1 1359.7 L1253.4 1359.7 L1255.6 1359.7 L1257.8 1359.7 L1260 1359.7 L1262.3 1359.7 L1264.5 1359.7 L1266.7 1359.7 L1269 1359.7 L1271.2 1359.7 L1273.4 1359.7 L1275.6 1359.7 L1277.9 1359.7 L1280.1 1359.7 L1282.3 1359.7 L1284.6 1359.7 L1286.8 1359.7 L1289 1359.7 L1291.2 1359.7 L1293.5 1359.7 L1295.7 1359.7 L1297.9 1359.7 L1300.2 1359.7 L1302.4 1359.7 L1304.6 1359.7 L1306.8 1359.7 L1309.1 1359.7 L1311.3 1359.7 L1313.5 1359.7 L1315.8 1359.7 L1318 1359.7 L1320.2 1359.7 L1322.4 1359.7 L1324.7 1359.7 L1326.9 1359.7 L1329.1 1359.7 L1331.4 1359.7 L1333.6 1359.7 L1335.8 1359.7 L1338 1359.7 L1340.3 1359.7 L1342.5 1359.7 L1344.7 1359.7 L1347 1359.7 L1349.2 1359.7 L1351.4 1359.7 L1353.7 1359.7 L1355.9 1359.7 L1358.1 1359.7 L1360.3 1359.7 L1362.6 1359.7 L1364.8 1359.7 L1367 1359.7 L1369.3 1359.7 L1371.5 1359.7 L1373.7 1359.7 L1375.9 1359.7 L1378.2 1359.7 L1380.4 1359.7 L1382.6 1359.7 L1384.9 1359.7 L1387.1 1359.7 L1389.3 1359.7 L1391.5 1359.7 L1393.8 1359.7 L1396 1359.7 L1398.2 1359.7 L1400.5 1359.7 L1402.7 1359.7 L1404.9 1359.7 L1407.1 1359.7 L1409.4 1359.7 L1411.6 1359.7 L1413.8 1359.7 L1416.1 1359.7 L1418.3 1359.7 L1420.5 1359.7 L1422.7 1359.7 L1425 1359.7 L1427.2 1359.7 L1429.4 1359.7 L1431.7 1359.7 L1433.9 1359.7 L1436.1 1359.7 L1438.3 1359.7 L1440.6 1359.7 L1442.8 1359.7 L1445 1359.7 L1447.3 1359.7 L1449.5 1359.7 L1451.7 1359.7 L1453.9 1359.7 L1456.2 1359.7 L1458.4 1359.7 L1460.6 1359.7 L1462.9 1359.7 L1465.1 1359.7 L1467.3 1359.7 L1469.5 1359.7 L1471.8 1359.7 L1474 1359.7 L1476.2 1359.7 L1478.5 1359.7 L1480.7 1359.7 L1482.9 1359.7 L1485.1 1359.7 L1487.4 1359.7 L1489.6 1359.7 L1491.8 1359.7 L1494.1 1359.7 L1496.3 1359.7 L1498.5 1359.7 L1500.7 1359.7 L1503 1359.7 L1505.2 1359.7 L1507.4 1359.7 L1509.7 1359.7 L1511.9 1359.7 L1514.1 1359.7 L1516.3 1359.7 L1518.6 1359.7 L1520.8 1359.7 L1523 1359.7 L1525.3 1359.7 L1527.5 1359.7 L1529.7 1359.7 L1531.9 1359.7 L1534.2 1359.7 L1536.4 1359.7 L1538.6 1359.7 L1540.9 1359.7 L1543.1 1359.7 L1545.3 1359.7 L1547.5 1359.7 L1549.8 1359.7 L1552 1359.7 L1554.2 1359.7 L1556.5 1359.7 L1558.7 1359.7 L1560.9 1359.7 L1563.1 1359.7 L1565.4 1359.7 L1567.6 1359.7 L1569.8 1359.7 L1572.1 1359.7 L1574.3 1359.7 L1576.5 1359.7 L1578.8 1359.7 L1581 1359.7 L1583.2 1359.7 L1585.4 1359.7 L1587.7 1359.7 L1589.9 1359.7 L1592.1 1359.7 L1594.4 1359.7 L1596.6 1359.7 L1598.8 1359.7 L1601 1359.7 L1603.3 1359.7 L1605.5 1359.7 L1607.7 1359.7 L1610 1359.7 L1612.2 1359.7 L1614.4 1359.7 L1616.6 1359.7 L1618.9 1359.7 L1621.1 1359.7 L1623.3 1359.7 L1625.6 1359.7 L1627.8 1359.7 L1630 1359.7 L1632.2 1359.7 L1634.5 1359.7 L1636.7 1359.7 L1638.9 1359.7 L1641.2 1359.7 L1643.4 1359.7 L1645.6 1359.7 L1647.8 1359.7 L1650.1 1359.7 L1652.3 1359.7 L1654.5 1359.7 L1656.8 1359.7 L1659 1359.7 L1661.2 1359.7 L1663.4 1359.7 L1665.7 1359.7 L1667.9 1359.7 L1670.1 1359.7 L1672.4 1359.7 L1674.6 1359.7 L1676.8 1359.7 L1679 1359.7 L1681.3 1359.7 L1683.5 1359.7" stroke="#EDB120" stroke-width="11.4" fill="none" stroke-linejoin="round" stroke-linecap="butt"/>
</g>
<rect x="1444.5" y="599.5" width="224" height="145" fill="#fff" stroke="#262626" stroke-width="1" shape-rendering="crispEdges"/>
<line x1="1449" y1="625.5" x2="1501" y2="625.5" stroke="#0072BD" stroke-width="10.6" shape-rendering="crispEdges"/>
<text x="1505" y="639.1" font-size="37.5" text-anchor="start" fill="#000" font-weight="normal" letter-spacing="-0.3">SRF-PLL</text>
<line x1="1449" y1="672.3" x2="1501" y2="672.3" stroke="#D95319" stroke-width="10.6" shape-rendering="crispEdges"/>
<text x="1505" y="685.9" font-size="37.5" text-anchor="start" fill="#000" font-weight="normal" letter-spacing="-0.3">POL</text>
<line x1="1449" y1="719.1" x2="1501" y2="719.1" stroke="#EDB120" stroke-width="10.6" shape-rendering="crispEdges"/>
<text x="1505" y="732.7" font-size="37.5" text-anchor="start" fill="#000" font-weight="normal" letter-spacing="-0.3">Proposed</text>
<rect x="1444.5" y="1083.5" width="224" height="145" fill="#fff" stroke="#262626" stroke-width="1" shape-rendering="crispEdges"/>
<line x1="1449" y1="1109.5" x2="1501" y2="1109.5" stroke="#0072BD" stroke-width="10.6" shape-rendering="crispEdges"/>
<text x="1505" y="1123.1" font-size="37.5" text-anchor="start" fill="#000" font-weight="normal" letter-spacing="-0.3">SRF-PLL</text>
<line x1="1449" y1="1156.3" x2="1501" y2="1156.3" stroke="#D95319" stroke-width="10.6" shape-rendering="crispEdges"/>
<text x="1505" y="1169.9" font-size="37.5" text-anchor="start" fill="#000" font-weight="normal" letter-spacing="-0.3">POL</text>
<line x1="1449" y1="1203.1" x2="1501" y2="1203.1" stroke="#EDB120" stroke-width="10.6" shape-rendering="crispEdges"/>
<text x="1505" y="1216.7" font-size="37.5" text-anchor="start" fill="#000" font-weight="normal" letter-spacing="-0.3">Proposed</text>
<text x="158.3" y="518.9" font-size="41.67" text-anchor="end" fill="#262626" font-weight="normal" stroke="#262626" stroke-width="0.45">-1</text>
<text x="158.3" y="413.15" font-size="41.67" text-anchor="end" fill="#262626" font-weight="normal" stroke="#262626" stroke-width="0.45">-0.5</text>
<text x="158.3" y="307.4" font-size="41.67" text-anchor="end" fill="#262626" font-weight="normal" stroke="#262626" stroke-width="0.45">0</text>
<text x="158.3" y="201.65" font-size="41.67" text-anchor="end" fill="#262626" font-weight="normal" stroke="#262626" stroke-width="0.45">0.5</text>
<text x="158.3" y="95.9" font-size="41.67" text-anchor="end" fill="#262626" font-weight="normal" stroke="#262626" stroke-width="0.45">1</text>
<text x="152.3" y="1000.9" font-size="41.67" text-anchor="end" fill="#262626" font-weight="normal" stroke="#262626" stroke-width="0.45">48</text>
<text x="152.3" y="900.9" font-size="41.67" text-anchor="end" fill="#262626" font-weight="normal" stroke="#262626" stroke-width="0.45">50</text>
<text x="152.3" y="800.9" font-size="41.67" text-anchor="end" fill="#262626" font-weight="normal" stroke="#262626" stroke-width="0.45">52</text>
<text x="152.3" y="700.9" font-size="41.67" text-anchor="end" fill="#262626" font-weight="normal" stroke="#262626" stroke-width="0.45">54</text>
<text x="152.3" y="600.9" font-size="41.67" text-anchor="end" fill="#262626" font-weight="normal" stroke="#262626" stroke-width="0.45">56</text>
<text x="158.8" y="1471.6" font-size="41.67" text-anchor="end" fill="#262626" font-weight="normal" stroke="#262626" stroke-width="0.75">-20</text>
<text x="158.8" y="1374.85" font-size="41.67" text-anchor="end" fill="#262626" font-weight="normal" stroke="#262626" stroke-width="0.75">0</text>
<text x="158.8" y="1278.1" font-size="41.67" text-anchor="end" fill="#262626" font-weight="normal" stroke="#262626" stroke-width="0.75">20</text>
<text x="158.8" y="1181.35" font-size="41.67" text-anchor="end" fill="#262626" font-weight="normal" stroke="#262626" stroke-width="0.75">40</text>
<text x="158.8" y="1084.6" font-size="41.67" text-anchor="end" fill="#262626" font-weight="normal" stroke="#262626" stroke-width="0.75">60</text>
<text x="348.5" y="1509" font-size="41.67" text-anchor="middle" fill="#262626" font-weight="normal" stroke="#262626" stroke-width="0.75">0.02</text>
<text x="793.5" y="1509" font-size="41.67" text-anchor="middle" fill="#262626" font-weight="normal" stroke="#262626" stroke-width="0.75">0.07</text>
<text x="1238.5" y="1509" font-size="41.67" text-anchor="middle" fill="#262626" font-weight="normal" stroke="#262626" stroke-width="0.75">0.12</text>
<text x="924.8" y="62.2" font-size="45.83" text-anchor="middle" fill="#000" font-weight="bold" letter-spacing="-0.15">Grid Voltages</text>
<text x="923.6" y="567" font-size="45.83" text-anchor="middle" fill="#000" font-weight="bold" letter-spacing="-0.45">Estimated Frequency</text>
<text x="925.8" y="1050.2" font-size="45.83" text-anchor="middle" fill="#000" font-weight="bold" letter-spacing="-0.42">Phase Estimation Error</text>
<text x="71.4" y="291.8" font-size="45.83" text-anchor="middle" fill="#262626" font-weight="normal" transform="rotate(-90 71.4 291.8)" letter-spacing="-0.16" stroke="#262626" stroke-width="0.45">Amplitude [p.u.]</text>
<text x="73.6" y="781.3" font-size="45.83" text-anchor="middle" fill="#262626" font-weight="normal" transform="rotate(-90 73.6 781.3)" letter-spacing="-0.23" stroke="#262626" stroke-width="0.45">Freq. [Hz]</text>
<text x="73.4" y="1263.7" font-size="45.83" text-anchor="middle" fill="#262626" font-weight="normal" transform="rotate(-90 73.4 1263.7)" letter-spacing="-0.38" stroke="#262626" stroke-width="0.75">Error [degree]</text>
<g clip-path="url(#fig3)">
<text x="925.9" y="1568.7" font-size="45.83" text-anchor="middle" fill="#262626" font-weight="normal" stroke="#262626" stroke-width="0.75">Time [s]</text>
</g>
</svg>
</body></html>
